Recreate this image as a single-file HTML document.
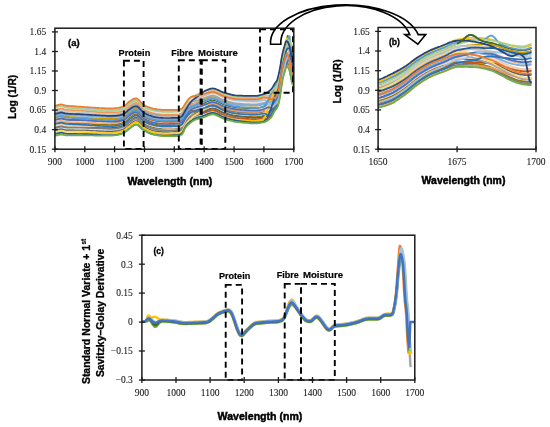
<!DOCTYPE html><html><head><meta charset="utf-8"><style>html,body{margin:0;padding:0;background:#fff;width:550px;height:427px;overflow:hidden;position:relative}</style></head><body><svg width="550" height="427" viewBox="0 0 550 427" style="position:absolute;left:0;top:0;will-change:transform"><rect width="550" height="427" fill="#fff"/><defs><clipPath id="ca"><rect x="54.9" y="20" width="239" height="129.5"/></clipPath><clipPath id="cb"><rect x="378.1" y="20" width="158" height="129.5"/></clipPath></defs><g clip-path="url(#ca)" fill="none" stroke-width="1.7" stroke-linejoin="round" stroke-linecap="round"><path d="M54.9,109.6 L55.8,109.4 L56.7,109.2 L57.6,109.0 L58.5,108.8 L59.4,108.5 L60.3,108.3 L61.2,108.2 L62.1,108.3 L63.0,108.5 L63.9,108.8 L64.8,109.1 L65.7,109.3 L66.5,109.4 L67.4,109.4 L68.3,109.5 L69.2,109.5 L70.1,109.6 L71.0,109.6 L71.9,109.7 L72.8,109.7 L73.7,109.7 L74.6,109.8 L75.5,109.8 L76.4,109.8 L77.3,109.8 L78.2,109.9 L79.1,109.9 L80.0,109.9 L80.9,110.0 L81.8,110.0 L82.7,110.0 L83.6,110.1 L84.5,110.1 L85.4,110.1 L86.3,110.1 L87.2,110.2 L88.0,110.2 L88.9,110.2 L89.8,110.3 L90.7,110.3 L91.6,110.4 L92.5,110.4 L93.4,110.4 L94.3,110.5 L95.2,110.5 L96.1,110.6 L97.0,110.6 L97.9,110.6 L98.8,110.7 L99.7,110.7 L100.6,110.7 L101.5,110.8 L102.4,110.8 L103.3,110.8 L104.2,110.8 L105.1,110.9 L106.0,110.9 L106.9,110.9 L107.8,110.9 L108.7,110.9 L109.5,110.9 L110.4,110.9 L111.3,110.9 L112.2,110.9 L113.1,110.9 L114.0,110.8 L114.9,110.8 L115.8,110.7 L116.7,110.6 L117.6,110.5 L118.5,110.4 L119.4,110.2 L120.3,110.0 L121.2,109.7 L122.1,109.4 L123.0,109.1 L123.9,108.8 L124.8,108.3 L125.7,107.6 L126.6,106.7 L127.5,105.8 L128.4,104.9 L129.3,104.2 L130.2,103.7 L131.0,103.1 L131.9,102.6 L132.8,102.1 L133.7,101.7 L134.6,101.4 L135.5,101.2 L136.4,101.2 L137.3,101.6 L138.2,102.2 L139.1,103.1 L140.0,104.1 L140.9,105.1 L141.8,106.1 L142.7,107.0 L143.6,107.7 L144.5,108.2 L145.4,108.7 L146.3,109.1 L147.2,109.6 L148.1,110.0 L149.0,110.3 L149.9,110.7 L150.8,111.0 L151.7,111.2 L152.6,111.5 L153.4,111.7 L154.3,111.9 L155.2,112.1 L156.1,112.3 L157.0,112.4 L157.9,112.6 L158.8,112.7 L159.7,112.8 L160.6,112.9 L161.5,113.0 L162.4,113.1 L163.3,113.1 L164.2,113.2 L165.1,113.2 L166.0,113.2 L166.9,113.2 L167.8,113.2 L168.7,113.2 L169.6,113.2 L170.5,113.2 L171.4,113.2 L172.3,113.2 L173.2,113.2 L174.1,113.2 L174.9,113.2 L175.8,113.2 L176.7,113.2 L177.6,113.2 L178.5,113.2 L179.4,113.0 L180.3,112.6 L181.2,112.2 L182.1,111.6 L183.0,110.6 L183.9,109.1 L184.8,107.5 L185.7,106.1 L186.6,104.8 L187.5,103.5 L188.4,102.4 L189.3,101.4 L190.2,100.8 L191.1,100.4 L192.0,100.1 L192.9,100.0 L193.8,100.0 L194.7,100.0 L195.6,99.8 L196.4,99.6 L197.3,99.4 L198.2,99.3 L199.1,99.3 L200.0,99.2 L200.9,99.0 L201.8,98.8 L202.7,98.5 L203.6,98.1 L204.5,97.7 L205.4,97.4 L206.3,97.0 L207.2,96.7 L208.1,96.3 L209.0,96.0 L209.9,95.7 L210.8,95.4 L211.7,95.2 L212.6,95.2 L213.5,95.2 L214.4,95.4 L215.3,95.6 L216.2,95.9 L217.1,96.2 L217.9,96.6 L218.8,97.0 L219.7,97.5 L220.6,97.9 L221.5,98.3 L222.4,98.7 L223.3,99.0 L224.2,99.3 L225.1,99.6 L226.0,99.8 L226.9,100.1 L227.8,100.3 L228.7,100.6 L229.6,100.8 L230.5,101.0 L231.4,101.2 L232.3,101.4 L233.2,101.6 L234.1,101.8 L235.0,101.9 L235.9,102.0 L236.8,102.1 L237.7,102.1 L238.6,102.1 L239.5,102.2 L240.3,102.2 L241.2,102.2 L242.1,102.3 L243.0,102.3 L243.9,102.3 L244.8,102.3 L245.7,102.3 L246.6,102.4 L247.5,102.4 L248.4,102.4 L249.3,102.4 L250.2,102.4 L251.1,102.4 L252.0,102.4 L252.9,102.3 L253.8,102.3 L254.7,102.3 L255.6,102.3 L256.5,102.2 L257.4,102.1 L258.3,101.9 L259.2,101.7 L260.1,101.5 L261.0,101.3 L261.8,101.0 L262.7,100.4 L263.6,99.6 L264.5,98.7 L265.4,97.7 L266.3,96.5 L267.2,95.3 L268.1,94.2 L268.9,93.3 L269.7,92.3 L270.5,91.3 L271.3,90.4 L272.0,89.3 L272.7,88.1 L273.4,86.9 L274.1,85.6 L274.8,84.3 L275.5,83.3 L276.3,82.2 L277.2,80.6 L278.2,76.9 L279.3,72.2 L280.4,66.5 L281.5,59.2 L282.6,53.4 L283.7,48.9 L284.8,45.3 L285.8,42.1 L286.8,42.1 L287.7,43.8 L288.7,46.2 L289.6,49.9 L290.5,55.4 L291.4,62.2 L292.3,65.9 L293.2,66.1" stroke="#F2F2F2"/><path d="M54.9,129.3 L55.8,129.1 L56.7,129.0 L57.6,128.8 L58.5,128.6 L59.4,128.4 L60.3,128.2 L61.2,128.1 L62.1,128.2 L63.0,128.5 L63.9,128.8 L64.8,129.0 L65.7,129.2 L66.5,129.3 L67.4,129.4 L68.3,129.4 L69.2,129.4 L70.1,129.5 L71.0,129.5 L71.9,129.5 L72.8,129.5 L73.7,129.5 L74.6,129.6 L75.5,129.6 L76.4,129.6 L77.3,129.6 L78.2,129.6 L79.1,129.6 L80.0,129.7 L80.9,129.7 L81.8,129.7 L82.7,129.7 L83.6,129.7 L84.5,129.8 L85.4,129.8 L86.3,129.8 L87.2,129.8 L88.0,129.9 L88.9,129.9 L89.8,129.9 L90.7,130.0 L91.6,130.0 L92.5,130.1 L93.4,130.1 L94.3,130.2 L95.2,130.2 L96.1,130.2 L97.0,130.3 L97.9,130.3 L98.8,130.4 L99.7,130.4 L100.6,130.4 L101.5,130.4 L102.4,130.5 L103.3,130.5 L104.2,130.5 L105.1,130.5 L106.0,130.5 L106.9,130.5 L107.8,130.5 L108.7,130.6 L109.5,130.6 L110.4,130.6 L111.3,130.5 L112.2,130.5 L113.1,130.4 L114.0,130.3 L114.9,130.2 L115.8,130.1 L116.7,130.0 L117.6,129.8 L118.5,129.6 L119.4,129.4 L120.3,129.2 L121.2,128.9 L122.1,128.6 L123.0,128.3 L123.9,127.9 L124.8,127.4 L125.7,126.7 L126.6,126.0 L127.5,125.2 L128.4,124.4 L129.3,123.7 L130.2,123.1 L131.0,122.4 L131.9,121.7 L132.8,121.0 L133.7,120.4 L134.6,120.0 L135.5,119.7 L136.4,119.7 L137.3,119.9 L138.2,120.4 L139.1,121.2 L140.0,122.0 L140.9,122.9 L141.8,123.8 L142.7,124.6 L143.6,125.2 L144.5,125.7 L145.4,126.2 L146.3,126.7 L147.2,127.1 L148.1,127.6 L149.0,128.0 L149.9,128.3 L150.8,128.7 L151.7,128.9 L152.6,129.1 L153.4,129.3 L154.3,129.5 L155.2,129.7 L156.1,129.8 L157.0,130.0 L157.9,130.1 L158.8,130.2 L159.7,130.3 L160.6,130.4 L161.5,130.4 L162.4,130.5 L163.3,130.6 L164.2,130.6 L165.1,130.6 L166.0,130.6 L166.9,130.5 L167.8,130.5 L168.7,130.5 L169.6,130.5 L170.5,130.4 L171.4,130.4 L172.3,130.4 L173.2,130.4 L174.1,130.3 L174.9,130.3 L175.8,130.3 L176.7,130.2 L177.6,130.2 L178.5,130.1 L179.4,129.9 L180.3,129.5 L181.2,129.1 L182.1,128.5 L183.0,127.3 L183.9,125.5 L184.8,123.7 L185.7,122.3 L186.6,121.3 L187.5,120.4 L188.4,119.6 L189.3,118.9 L190.2,118.3 L191.1,117.8 L192.0,117.4 L192.9,117.0 L193.8,116.7 L194.7,116.4 L195.6,116.2 L196.4,116.0 L197.3,115.8 L198.2,115.6 L199.1,115.4 L200.0,115.2 L200.9,114.9 L201.8,114.7 L202.7,114.4 L203.6,114.1 L204.5,113.7 L205.4,113.3 L206.3,112.9 L207.2,112.5 L208.1,112.1 L209.0,111.7 L209.9,111.3 L210.8,111.1 L211.7,110.9 L212.6,110.9 L213.5,110.9 L214.4,111.1 L215.3,111.3 L216.2,111.7 L217.1,112.1 L217.9,112.5 L218.8,112.9 L219.7,113.4 L220.6,113.9 L221.5,114.3 L222.4,114.8 L223.3,115.2 L224.2,115.5 L225.1,115.8 L226.0,116.0 L226.9,116.3 L227.8,116.6 L228.7,116.8 L229.6,117.1 L230.5,117.3 L231.4,117.6 L232.3,117.8 L233.2,118.0 L234.1,118.2 L235.0,118.4 L235.9,118.5 L236.8,118.7 L237.7,118.8 L238.6,118.9 L239.5,119.0 L240.3,119.1 L241.2,119.2 L242.1,119.3 L243.0,119.4 L243.9,119.5 L244.8,119.6 L245.7,119.7 L246.6,119.8 L247.5,119.9 L248.4,120.0 L249.3,120.0 L250.2,120.1 L251.1,120.2 L252.0,120.2 L252.9,120.3 L253.8,120.3 L254.7,120.3 L255.6,120.4 L256.5,120.3 L257.4,120.3 L258.3,120.2 L259.2,120.1 L260.1,120.0 L261.0,119.9 L261.8,119.7 L262.7,119.5 L263.6,119.1 L264.5,118.6 L265.4,117.8 L266.3,116.7 L267.2,114.9 L268.1,112.4 L268.9,110.4 L269.7,109.1 L270.5,106.9 L271.3,104.4 L272.0,102.4 L272.7,99.7 L273.4,97.0 L274.1,94.8 L274.8,93.1 L275.5,91.9 L276.3,90.7 L277.2,89.2 L278.2,85.7 L279.3,80.9 L280.4,74.8 L281.5,67.5 L282.6,61.6 L283.7,57.2 L284.8,53.6 L285.8,49.9 L286.8,49.4 L287.7,49.9 L288.7,51.8 L289.6,56.6 L290.5,62.1 L291.4,66.8 L292.3,70.0 L293.2,70.4" stroke="#BDD7EE"/><path d="M54.9,127.3 L55.8,127.2 L56.7,127.0 L57.6,126.8 L58.5,126.6 L59.4,126.4 L60.3,126.2 L61.2,126.1 L62.1,126.2 L63.0,126.4 L63.9,126.7 L64.8,127.0 L65.7,127.1 L66.5,127.2 L67.4,127.3 L68.3,127.3 L69.2,127.3 L70.1,127.3 L71.0,127.4 L71.9,127.4 L72.8,127.4 L73.7,127.4 L74.6,127.4 L75.5,127.4 L76.4,127.4 L77.3,127.4 L78.2,127.5 L79.1,127.5 L80.0,127.5 L80.9,127.5 L81.8,127.5 L82.7,127.5 L83.6,127.5 L84.5,127.5 L85.4,127.5 L86.3,127.6 L87.2,127.6 L88.0,127.6 L88.9,127.6 L89.8,127.7 L90.7,127.7 L91.6,127.7 L92.5,127.8 L93.4,127.8 L94.3,127.8 L95.2,127.9 L96.1,127.9 L97.0,127.9 L97.9,127.9 L98.8,128.0 L99.7,128.0 L100.6,128.0 L101.5,128.0 L102.4,128.0 L103.3,128.0 L104.2,128.0 L105.1,128.0 L106.0,128.0 L106.9,128.0 L107.8,128.0 L108.7,128.0 L109.5,128.0 L110.4,128.0 L111.3,128.0 L112.2,127.9 L113.1,127.8 L114.0,127.8 L114.9,127.6 L115.8,127.5 L116.7,127.4 L117.6,127.3 L118.5,127.1 L119.4,126.9 L120.3,126.6 L121.2,126.3 L122.1,126.0 L123.0,125.7 L123.9,125.3 L124.8,124.8 L125.7,124.1 L126.6,123.4 L127.5,122.5 L128.4,121.7 L129.3,121.0 L130.2,120.4 L131.0,119.7 L131.9,119.1 L132.8,118.4 L133.7,117.9 L134.6,117.4 L135.5,117.2 L136.4,117.1 L137.3,117.4 L138.2,118.0 L139.1,118.7 L140.0,119.6 L140.9,120.5 L141.8,121.4 L142.7,122.2 L143.6,122.8 L144.5,123.4 L145.4,123.9 L146.3,124.4 L147.2,124.8 L148.1,125.3 L149.0,125.7 L149.9,126.0 L150.8,126.4 L151.7,126.6 L152.6,126.9 L153.4,127.1 L154.3,127.3 L155.2,127.5 L156.1,127.6 L157.0,127.8 L157.9,127.9 L158.8,128.0 L159.7,128.1 L160.6,128.2 L161.5,128.3 L162.4,128.4 L163.3,128.5 L164.2,128.6 L165.1,128.6 L166.0,128.5 L166.9,128.5 L167.8,128.5 L168.7,128.5 L169.6,128.5 L170.5,128.5 L171.4,128.5 L172.3,128.5 L173.2,128.5 L174.1,128.4 L174.9,128.4 L175.8,128.4 L176.7,128.4 L177.6,128.4 L178.5,128.3 L179.4,128.1 L180.3,127.8 L181.2,127.3 L182.1,126.7 L183.0,125.4 L183.9,123.6 L184.8,121.7 L185.7,120.1 L186.6,118.9 L187.5,117.8 L188.4,116.7 L189.3,115.7 L190.2,114.8 L191.1,113.8 L192.0,112.8 L192.9,111.7 L193.8,110.7 L194.7,109.7 L195.6,109.0 L196.4,108.4 L197.3,107.9 L198.2,107.4 L199.1,107.0 L200.0,106.5 L200.9,105.9 L201.8,105.3 L202.7,104.7 L203.6,104.0 L204.5,103.4 L205.4,102.8 L206.3,102.4 L207.2,102.0 L208.1,101.6 L209.0,101.2 L209.9,100.9 L210.8,100.7 L211.7,100.5 L212.6,100.5 L213.5,100.5 L214.4,100.7 L215.3,101.0 L216.2,101.3 L217.1,101.7 L217.9,102.1 L218.8,102.5 L219.7,103.0 L220.6,103.5 L221.5,103.9 L222.4,104.3 L223.3,104.7 L224.2,105.0 L225.1,105.3 L226.0,105.6 L226.9,105.8 L227.8,106.1 L228.7,106.4 L229.6,106.6 L230.5,106.9 L231.4,107.1 L232.3,107.3 L233.2,107.5 L234.1,107.7 L235.0,107.8 L235.9,107.9 L236.8,108.0 L237.7,108.1 L238.6,108.2 L239.5,108.2 L240.3,108.3 L241.2,108.3 L242.1,108.4 L243.0,108.4 L243.9,108.5 L244.8,108.5 L245.7,108.6 L246.6,108.6 L247.5,108.6 L248.4,108.7 L249.3,108.7 L250.2,108.7 L251.1,108.7 L252.0,108.7 L252.9,108.7 L253.8,108.7 L254.7,108.7 L255.6,108.7 L256.5,108.6 L257.4,108.5 L258.3,108.4 L259.2,108.2 L260.1,108.0 L261.0,107.8 L261.8,107.5 L262.7,107.2 L263.6,106.8 L264.5,106.3 L265.4,105.7 L266.3,104.7 L267.2,103.2 L268.1,101.3 L268.9,99.9 L269.7,98.3 L270.5,96.6 L271.3,95.0 L272.0,93.7 L272.7,92.6 L273.4,91.4 L274.1,90.1 L274.8,88.8 L275.5,87.7 L276.3,86.5 L277.2,84.9 L278.2,81.1 L279.3,76.2 L280.4,70.2 L281.5,63.0 L282.6,57.2 L283.7,52.9 L284.8,49.4 L285.8,45.4 L286.8,39.8 L287.7,35.9 L288.7,41.4 L289.6,43.5 L290.5,46.3 L291.4,49.2 L292.3,50.7 L293.2,49.3" stroke="#43682B"/><path d="M54.9,123.0 L55.8,122.8 L56.7,122.6 L57.6,122.5 L58.5,122.2 L59.4,122.0 L60.3,121.8 L61.2,121.7 L62.1,121.8 L63.0,122.1 L63.9,122.3 L64.8,122.6 L65.7,122.8 L66.5,122.9 L67.4,123.0 L68.3,123.0 L69.2,123.0 L70.1,123.1 L71.0,123.1 L71.9,123.1 L72.8,123.2 L73.7,123.2 L74.6,123.2 L75.5,123.3 L76.4,123.3 L77.3,123.3 L78.2,123.4 L79.1,123.4 L80.0,123.4 L80.9,123.5 L81.8,123.5 L82.7,123.5 L83.6,123.6 L84.5,123.6 L85.4,123.6 L86.3,123.7 L87.2,123.7 L88.0,123.8 L88.9,123.8 L89.8,123.9 L90.7,123.9 L91.6,124.0 L92.5,124.1 L93.4,124.1 L94.3,124.2 L95.2,124.2 L96.1,124.3 L97.0,124.3 L97.9,124.4 L98.8,124.4 L99.7,124.5 L100.6,124.5 L101.5,124.5 L102.4,124.6 L103.3,124.6 L104.2,124.6 L105.1,124.6 L106.0,124.7 L106.9,124.7 L107.8,124.7 L108.7,124.7 L109.5,124.7 L110.4,124.7 L111.3,124.7 L112.2,124.7 L113.1,124.6 L114.0,124.5 L114.9,124.4 L115.8,124.3 L116.7,124.2 L117.6,124.1 L118.5,123.9 L119.4,123.7 L120.3,123.5 L121.2,123.2 L122.1,122.9 L123.0,122.5 L123.9,122.2 L124.8,121.7 L125.7,121.0 L126.6,120.2 L127.5,119.4 L128.4,118.5 L129.3,117.8 L130.2,117.2 L131.0,116.6 L131.9,115.9 L132.8,115.3 L133.7,114.8 L134.6,114.3 L135.5,114.1 L136.4,114.0 L137.3,114.3 L138.2,114.9 L139.1,115.6 L140.0,116.5 L140.9,117.5 L141.8,118.4 L142.7,119.2 L143.6,119.8 L144.5,120.3 L145.4,120.8 L146.3,121.2 L147.2,121.7 L148.1,122.1 L149.0,122.5 L149.9,122.9 L150.8,123.2 L151.7,123.4 L152.6,123.6 L153.4,123.8 L154.3,124.0 L155.2,124.2 L156.1,124.4 L157.0,124.5 L157.9,124.6 L158.8,124.7 L159.7,124.8 L160.6,124.9 L161.5,125.0 L162.4,125.1 L163.3,125.1 L164.2,125.2 L165.1,125.2 L166.0,125.1 L166.9,125.1 L167.8,125.1 L168.7,125.1 L169.6,125.1 L170.5,125.1 L171.4,125.0 L172.3,125.0 L173.2,125.0 L174.1,125.0 L174.9,125.0 L175.8,125.0 L176.7,124.9 L177.6,124.9 L178.5,124.8 L179.4,124.6 L180.3,124.3 L181.2,123.8 L182.1,123.3 L183.0,122.2 L183.9,120.5 L184.8,118.8 L185.7,117.4 L186.6,116.3 L187.5,115.3 L188.4,114.3 L189.3,113.6 L190.2,113.1 L191.1,112.7 L192.0,112.4 L192.9,112.2 L193.8,112.1 L194.7,112.0 L195.6,111.8 L196.4,111.6 L197.3,111.4 L198.2,111.3 L199.1,111.2 L200.0,111.1 L200.9,111.1 L201.8,111.0 L202.7,110.9 L203.6,110.7 L204.5,110.5 L205.4,110.2 L206.3,109.9 L207.2,109.6 L208.1,109.3 L209.0,109.0 L209.9,108.7 L210.8,108.5 L211.7,108.3 L212.6,108.3 L213.5,108.3 L214.4,108.5 L215.3,108.7 L216.2,109.1 L217.1,109.5 L217.9,109.9 L218.8,110.3 L219.7,110.8 L220.6,111.3 L221.5,111.7 L222.4,112.2 L223.3,112.5 L224.2,112.9 L225.1,113.1 L226.0,113.4 L226.9,113.7 L227.8,113.9 L228.7,114.2 L229.6,114.4 L230.5,114.6 L231.4,114.9 L232.3,115.1 L233.2,115.3 L234.1,115.5 L235.0,115.6 L235.9,115.7 L236.8,115.8 L237.7,115.9 L238.6,116.0 L239.5,116.1 L240.3,116.2 L241.2,116.3 L242.1,116.3 L243.0,116.4 L243.9,116.5 L244.8,116.5 L245.7,116.6 L246.6,116.6 L247.5,116.7 L248.4,116.7 L249.3,116.8 L250.2,116.8 L251.1,116.8 L252.0,116.8 L252.9,116.9 L253.8,116.9 L254.7,116.9 L255.6,116.9 L256.5,116.8 L257.4,116.7 L258.3,116.6 L259.2,116.5 L260.1,116.3 L261.0,116.2 L261.8,116.0 L262.7,115.7 L263.6,115.6 L264.5,115.5 L265.4,115.7 L266.3,116.0 L267.2,116.0 L268.1,115.8 L268.9,115.4 L269.7,114.4 L270.5,113.1 L271.3,111.8 L272.0,110.5 L272.7,109.1 L273.4,107.6 L274.1,106.0 L274.8,104.5 L275.5,103.4 L276.3,102.4 L277.2,101.0 L278.2,98.2 L279.3,93.6 L280.4,87.2 L281.5,79.7 L282.6,73.6 L283.7,69.1 L284.8,65.8 L285.8,62.8 L286.8,63.3 L287.7,63.9 L288.7,65.1 L289.6,68.0 L290.5,73.0 L291.4,77.9 L292.3,81.2 L293.2,82.1" stroke="#997300"/><path d="M54.9,119.5 L55.8,119.3 L56.7,119.2 L57.6,119.0 L58.5,118.8 L59.4,118.5 L60.3,118.3 L61.2,118.3 L62.1,118.4 L63.0,118.7 L63.9,119.0 L64.8,119.2 L65.7,119.4 L66.5,119.5 L67.4,119.6 L68.3,119.7 L69.2,119.7 L70.1,119.8 L71.0,119.8 L71.9,119.9 L72.8,119.9 L73.7,120.0 L74.6,120.0 L75.5,120.0 L76.4,120.1 L77.3,120.1 L78.2,120.2 L79.1,120.2 L80.0,120.2 L80.9,120.3 L81.8,120.3 L82.7,120.3 L83.6,120.4 L84.5,120.4 L85.4,120.4 L86.3,120.5 L87.2,120.5 L88.0,120.6 L88.9,120.6 L89.8,120.7 L90.7,120.7 L91.6,120.8 L92.5,120.8 L93.4,120.8 L94.3,120.9 L95.2,120.9 L96.1,121.0 L97.0,121.0 L97.9,121.0 L98.8,121.1 L99.7,121.1 L100.6,121.1 L101.5,121.1 L102.4,121.2 L103.3,121.2 L104.2,121.2 L105.1,121.2 L106.0,121.2 L106.9,121.2 L107.8,121.2 L108.7,121.2 L109.5,121.2 L110.4,121.2 L111.3,121.1 L112.2,121.1 L113.1,121.0 L114.0,120.9 L114.9,120.8 L115.8,120.7 L116.7,120.6 L117.6,120.5 L118.5,120.3 L119.4,120.1 L120.3,119.8 L121.2,119.5 L122.1,119.2 L123.0,118.9 L123.9,118.5 L124.8,118.0 L125.7,117.3 L126.6,116.4 L127.5,115.6 L128.4,114.7 L129.3,114.0 L130.2,113.4 L131.0,112.8 L131.9,112.2 L132.8,111.6 L133.7,111.1 L134.6,110.7 L135.5,110.4 L136.4,110.4 L137.3,110.7 L138.2,111.3 L139.1,112.1 L140.0,113.0 L140.9,113.9 L141.8,114.9 L142.7,115.7 L143.6,116.3 L144.5,116.8 L145.4,117.3 L146.3,117.8 L147.2,118.2 L148.1,118.6 L149.0,119.0 L149.9,119.4 L150.8,119.7 L151.7,120.0 L152.6,120.2 L153.4,120.4 L154.3,120.6 L155.2,120.8 L156.1,120.9 L157.0,121.1 L157.9,121.2 L158.8,121.3 L159.7,121.4 L160.6,121.5 L161.5,121.6 L162.4,121.7 L163.3,121.8 L164.2,121.8 L165.1,121.8 L166.0,121.8 L166.9,121.8 L167.8,121.8 L168.7,121.8 L169.6,121.8 L170.5,121.8 L171.4,121.8 L172.3,121.8 L173.2,121.8 L174.1,121.8 L174.9,121.7 L175.8,121.7 L176.7,121.7 L177.6,121.7 L178.5,121.6 L179.4,121.4 L180.3,121.1 L181.2,120.6 L182.1,120.1 L183.0,119.0 L183.9,117.4 L184.8,115.8 L185.7,114.5 L186.6,113.6 L187.5,112.8 L188.4,112.1 L189.3,111.4 L190.2,111.0 L191.1,110.5 L192.0,110.3 L192.9,110.3 L193.8,110.6 L194.7,111.0 L195.6,111.3 L196.4,111.5 L197.3,111.7 L198.2,112.0 L199.1,112.2 L200.0,112.5 L200.9,112.7 L201.8,112.8 L202.7,112.8 L203.6,112.8 L204.5,112.6 L205.4,112.4 L206.3,112.1 L207.2,111.8 L208.1,111.5 L209.0,111.2 L209.9,110.9 L210.8,110.7 L211.7,110.5 L212.6,110.4 L213.5,110.5 L214.4,110.7 L215.3,110.9 L216.2,111.2 L217.1,111.6 L217.9,112.0 L218.8,112.5 L219.7,113.0 L220.6,113.4 L221.5,113.9 L222.4,114.3 L223.3,114.7 L224.2,115.0 L225.1,115.3 L226.0,115.5 L226.9,115.8 L227.8,116.0 L228.7,116.3 L229.6,116.5 L230.5,116.8 L231.4,117.0 L232.3,117.2 L233.2,117.4 L234.1,117.6 L235.0,117.7 L235.9,117.9 L236.8,118.0 L237.7,118.1 L238.6,118.1 L239.5,118.2 L240.3,118.3 L241.2,118.4 L242.1,118.5 L243.0,118.6 L243.9,118.6 L244.8,118.7 L245.7,118.8 L246.6,118.8 L247.5,118.9 L248.4,118.9 L249.3,119.0 L250.2,119.0 L251.1,119.0 L252.0,119.1 L252.9,119.1 L253.8,119.1 L254.7,119.1 L255.6,119.1 L256.5,119.0 L257.4,119.0 L258.3,118.9 L259.2,118.7 L260.1,118.6 L261.0,118.4 L261.8,118.3 L262.7,118.2 L263.6,118.4 L264.5,118.8 L265.4,119.1 L266.3,119.2 L267.2,119.1 L268.1,118.8 L268.9,118.2 L269.7,117.4 L270.5,116.4 L271.3,115.2 L272.0,113.5 L272.7,111.6 L273.4,109.7 L274.1,108.0 L274.8,106.6 L275.5,105.6 L276.3,104.5 L277.2,103.1 L278.2,100.5 L279.3,96.0 L280.4,89.7 L281.5,82.1 L282.6,75.9 L283.7,71.2 L284.8,67.7 L285.8,63.9 L286.8,62.9 L287.7,62.7 L288.7,63.3 L289.6,63.6 L290.5,65.8 L291.4,69.1 L292.3,71.3 L293.2,71.4" stroke="#C55A11"/><path d="M54.9,130.5 L55.8,130.4 L56.7,130.2 L57.6,130.0 L58.5,129.8 L59.4,129.5 L60.3,129.3 L61.2,129.3 L62.1,129.3 L63.0,129.6 L63.9,129.8 L64.8,130.1 L65.7,130.2 L66.5,130.3 L67.4,130.4 L68.3,130.4 L69.2,130.4 L70.1,130.4 L71.0,130.4 L71.9,130.4 L72.8,130.4 L73.7,130.4 L74.6,130.5 L75.5,130.5 L76.4,130.5 L77.3,130.5 L78.2,130.5 L79.1,130.5 L80.0,130.5 L80.9,130.5 L81.8,130.6 L82.7,130.6 L83.6,130.6 L84.5,130.6 L85.4,130.6 L86.3,130.7 L87.2,130.7 L88.0,130.7 L88.9,130.8 L89.8,130.8 L90.7,130.8 L91.6,130.9 L92.5,130.9 L93.4,131.0 L94.3,131.0 L95.2,131.1 L96.1,131.1 L97.0,131.2 L97.9,131.2 L98.8,131.3 L99.7,131.3 L100.6,131.4 L101.5,131.4 L102.4,131.4 L103.3,131.4 L104.2,131.5 L105.1,131.5 L106.0,131.5 L106.9,131.5 L107.8,131.6 L108.7,131.6 L109.5,131.6 L110.4,131.6 L111.3,131.6 L112.2,131.6 L113.1,131.5 L114.0,131.4 L114.9,131.3 L115.8,131.2 L116.7,131.1 L117.6,131.0 L118.5,130.8 L119.4,130.6 L120.3,130.4 L121.2,130.1 L122.1,129.8 L123.0,129.5 L123.9,129.1 L124.8,128.6 L125.7,128.0 L126.6,127.3 L127.5,126.5 L128.4,125.7 L129.3,125.0 L130.2,124.4 L131.0,123.7 L131.9,123.0 L132.8,122.3 L133.7,121.7 L134.6,121.3 L135.5,121.0 L136.4,121.0 L137.3,121.2 L138.2,121.8 L139.1,122.5 L140.0,123.3 L140.9,124.2 L141.8,125.1 L142.7,125.9 L143.6,126.5 L144.5,127.0 L145.4,127.5 L146.3,128.0 L147.2,128.5 L148.1,129.0 L149.0,129.4 L149.9,129.7 L150.8,130.1 L151.7,130.4 L152.6,130.6 L153.4,130.8 L154.3,131.0 L155.2,131.1 L156.1,131.3 L157.0,131.4 L157.9,131.6 L158.8,131.7 L159.7,131.8 L160.6,131.9 L161.5,132.0 L162.4,132.1 L163.3,132.1 L164.2,132.2 L165.1,132.1 L166.0,132.1 L166.9,132.1 L167.8,132.1 L168.7,132.1 L169.6,132.0 L170.5,132.0 L171.4,132.0 L172.3,132.0 L173.2,131.9 L174.1,131.9 L174.9,131.9 L175.8,131.8 L176.7,131.8 L177.6,131.8 L178.5,131.7 L179.4,131.5 L180.3,131.1 L181.2,130.6 L182.1,130.0 L183.0,128.7 L183.9,126.9 L184.8,125.0 L185.7,123.4 L186.6,122.3 L187.5,121.3 L188.4,120.4 L189.3,119.6 L190.2,118.8 L191.1,118.1 L192.0,117.4 L192.9,116.8 L193.8,116.3 L194.7,115.9 L195.6,115.5 L196.4,115.2 L197.3,114.9 L198.2,114.6 L199.1,114.3 L200.0,114.0 L200.9,113.6 L201.8,113.2 L202.7,112.7 L203.6,112.3 L204.5,111.7 L205.4,111.2 L206.3,110.8 L207.2,110.3 L208.1,109.9 L209.0,109.5 L209.9,109.1 L210.8,108.9 L211.7,108.7 L212.6,108.6 L213.5,108.7 L214.4,108.8 L215.3,109.1 L216.2,109.4 L217.1,109.8 L217.9,110.2 L218.8,110.6 L219.7,111.1 L220.6,111.6 L221.5,112.0 L222.4,112.4 L223.3,112.8 L224.2,113.1 L225.1,113.4 L226.0,113.7 L226.9,113.9 L227.8,114.2 L228.7,114.4 L229.6,114.7 L230.5,114.9 L231.4,115.2 L232.3,115.4 L233.2,115.6 L234.1,115.8 L235.0,115.9 L235.9,116.1 L236.8,116.2 L237.7,116.3 L238.6,116.4 L239.5,116.5 L240.3,116.6 L241.2,116.7 L242.1,116.8 L243.0,116.9 L243.9,116.9 L244.8,117.0 L245.7,117.1 L246.6,117.2 L247.5,117.3 L248.4,117.3 L249.3,117.4 L250.2,117.4 L251.1,117.5 L252.0,117.6 L252.9,117.6 L253.8,117.6 L254.7,117.7 L255.6,117.7 L256.5,117.7 L257.4,117.6 L258.3,117.5 L259.2,117.4 L260.1,117.3 L261.0,117.2 L261.8,117.0 L262.7,116.7 L263.6,116.5 L264.5,116.4 L265.4,116.4 L266.3,116.3 L267.2,115.8 L268.1,115.0 L268.9,113.7 L269.7,112.3 L270.5,111.2 L271.3,110.2 L272.0,109.0 L272.7,107.1 L273.4,105.0 L274.1,103.3 L274.8,101.8 L275.5,100.6 L276.3,99.5 L277.2,98.0 L278.2,95.2 L279.3,90.7 L280.4,84.4 L281.5,76.9 L282.6,70.7 L283.7,66.2 L284.8,62.7 L285.8,59.3 L286.8,59.3 L287.7,60.3 L288.7,61.8 L289.6,63.9 L290.5,67.7 L291.4,71.8 L292.3,74.7 L293.2,75.4" stroke="#636363"/><path d="M54.9,128.1 L55.8,127.9 L56.7,127.7 L57.6,127.4 L58.5,127.2 L59.4,126.9 L60.3,126.6 L61.2,126.5 L62.1,126.6 L63.0,126.8 L63.9,127.0 L64.8,127.2 L65.7,127.4 L66.5,127.4 L67.4,127.5 L68.3,127.5 L69.2,127.5 L70.1,127.5 L71.0,127.5 L71.9,127.5 L72.8,127.5 L73.7,127.5 L74.6,127.5 L75.5,127.5 L76.4,127.5 L77.3,127.5 L78.2,127.5 L79.1,127.5 L80.0,127.5 L80.9,127.5 L81.8,127.5 L82.7,127.6 L83.6,127.6 L84.5,127.6 L85.4,127.6 L86.3,127.6 L87.2,127.7 L88.0,127.7 L88.9,127.8 L89.8,127.8 L90.7,127.9 L91.6,127.9 L92.5,128.0 L93.4,128.0 L94.3,128.1 L95.2,128.1 L96.1,128.2 L97.0,128.3 L97.9,128.3 L98.8,128.4 L99.7,128.4 L100.6,128.5 L101.5,128.5 L102.4,128.5 L103.3,128.6 L104.2,128.6 L105.1,128.6 L106.0,128.7 L106.9,128.7 L107.8,128.8 L108.7,128.8 L109.5,128.8 L110.4,128.8 L111.3,128.8 L112.2,128.8 L113.1,128.7 L114.0,128.7 L114.9,128.6 L115.8,128.5 L116.7,128.4 L117.6,128.3 L118.5,128.1 L119.4,127.9 L120.3,127.7 L121.2,127.4 L122.1,127.1 L123.0,126.8 L123.9,126.5 L124.8,126.0 L125.7,125.4 L126.6,124.6 L127.5,123.8 L128.4,123.0 L129.3,122.3 L130.2,121.7 L131.0,121.1 L131.9,120.4 L132.8,119.8 L133.7,119.2 L134.6,118.8 L135.5,118.6 L136.4,118.5 L137.3,118.8 L138.2,119.4 L139.1,120.1 L140.0,121.0 L140.9,122.0 L141.8,122.9 L142.7,123.7 L143.6,124.3 L144.5,124.8 L145.4,125.4 L146.3,125.9 L147.2,126.4 L148.1,126.8 L149.0,127.3 L149.9,127.7 L150.8,128.0 L151.7,128.3 L152.6,128.6 L153.4,128.8 L154.3,129.0 L155.2,129.2 L156.1,129.4 L157.0,129.6 L157.9,129.7 L158.8,129.9 L159.7,130.0 L160.6,130.1 L161.5,130.2 L162.4,130.3 L163.3,130.4 L164.2,130.5 L165.1,130.5 L166.0,130.5 L166.9,130.5 L167.8,130.5 L168.7,130.5 L169.6,130.5 L170.5,130.5 L171.4,130.5 L172.3,130.5 L173.2,130.5 L174.1,130.5 L174.9,130.4 L175.8,130.4 L176.7,130.4 L177.6,130.4 L178.5,130.3 L179.4,130.1 L180.3,129.7 L181.2,129.3 L182.1,128.7 L183.0,127.3 L183.9,125.5 L184.8,123.5 L185.7,121.9 L186.6,120.7 L187.5,119.6 L188.4,118.6 L189.3,117.7 L190.2,116.9 L191.1,116.1 L192.0,115.4 L192.9,114.8 L193.8,114.3 L194.7,113.8 L195.6,113.3 L196.4,112.7 L197.3,112.1 L198.2,111.4 L199.1,110.7 L200.0,110.2 L200.9,109.7 L201.8,109.2 L202.7,108.8 L203.6,108.4 L204.5,107.9 L205.4,107.4 L206.3,106.9 L207.2,106.5 L208.1,106.0 L209.0,105.6 L209.9,105.3 L210.8,105.0 L211.7,104.9 L212.6,104.8 L213.5,104.8 L214.4,105.0 L215.3,105.2 L216.2,105.5 L217.1,105.9 L217.9,106.3 L218.8,106.7 L219.7,107.1 L220.6,107.6 L221.5,108.0 L222.4,108.4 L223.3,108.8 L224.2,109.1 L225.1,109.4 L226.0,109.6 L226.9,109.9 L227.8,110.1 L228.7,110.4 L229.6,110.6 L230.5,110.8 L231.4,111.1 L232.3,111.3 L233.2,111.5 L234.1,111.6 L235.0,111.8 L235.9,111.9 L236.8,112.0 L237.7,112.1 L238.6,112.1 L239.5,112.2 L240.3,112.3 L241.2,112.4 L242.1,112.4 L243.0,112.5 L243.9,112.6 L244.8,112.6 L245.7,112.7 L246.6,112.7 L247.5,112.8 L248.4,112.8 L249.3,112.8 L250.2,112.9 L251.1,112.9 L252.0,112.9 L252.9,113.0 L253.8,113.0 L254.7,113.0 L255.6,113.0 L256.5,112.9 L257.4,112.9 L258.3,112.7 L259.2,112.6 L260.1,112.5 L261.0,112.3 L261.8,112.1 L262.7,111.8 L263.6,111.5 L264.5,111.3 L265.4,111.2 L266.3,111.2 L267.2,111.8 L268.1,112.3 L268.9,112.9 L269.7,113.5 L270.5,113.4 L271.3,113.0 L272.0,112.3 L272.7,111.3 L273.4,110.2 L274.1,109.1 L274.8,108.1 L275.5,107.3 L276.3,106.5 L277.2,105.2 L278.2,102.7 L279.3,98.2 L280.4,91.5 L281.5,83.9 L282.6,77.5 L283.7,72.8 L284.8,69.4 L285.8,66.0 L286.8,65.3 L287.7,65.6 L288.7,66.9 L289.6,69.6 L290.5,74.3 L291.4,79.1 L292.3,82.5 L293.2,83.9" stroke="#7F7F7F"/><path d="M54.9,116.7 L55.8,116.5 L56.7,116.3 L57.6,116.2 L58.5,115.9 L59.4,115.7 L60.3,115.5 L61.2,115.4 L62.1,115.6 L63.0,115.8 L63.9,116.1 L64.8,116.4 L65.7,116.6 L66.5,116.7 L67.4,116.8 L68.3,116.9 L69.2,116.9 L70.1,117.0 L71.0,117.0 L71.9,117.1 L72.8,117.1 L73.7,117.2 L74.6,117.2 L75.5,117.2 L76.4,117.3 L77.3,117.3 L78.2,117.4 L79.1,117.4 L80.0,117.5 L80.9,117.5 L81.8,117.6 L82.7,117.6 L83.6,117.7 L84.5,117.7 L85.4,117.8 L86.3,117.8 L87.2,117.9 L88.0,117.9 L88.9,118.0 L89.8,118.0 L90.7,118.1 L91.6,118.1 L92.5,118.2 L93.4,118.3 L94.3,118.3 L95.2,118.4 L96.1,118.4 L97.0,118.5 L97.9,118.5 L98.8,118.6 L99.7,118.6 L100.6,118.7 L101.5,118.7 L102.4,118.7 L103.3,118.7 L104.2,118.8 L105.1,118.8 L106.0,118.8 L106.9,118.9 L107.8,118.9 L108.7,118.9 L109.5,118.9 L110.4,118.9 L111.3,118.9 L112.2,118.8 L113.1,118.8 L114.0,118.7 L114.9,118.6 L115.8,118.6 L116.7,118.5 L117.6,118.3 L118.5,118.2 L119.4,118.0 L120.3,117.7 L121.2,117.5 L122.1,117.2 L123.0,116.8 L123.9,116.5 L124.8,116.0 L125.7,115.2 L126.6,114.4 L127.5,113.5 L128.4,112.7 L129.3,111.9 L130.2,111.3 L131.0,110.7 L131.9,110.1 L132.8,109.5 L133.7,109.0 L134.6,108.6 L135.5,108.4 L136.4,108.4 L137.3,108.6 L138.2,109.2 L139.1,110.0 L140.0,110.9 L140.9,111.9 L141.8,112.8 L142.7,113.6 L143.6,114.2 L144.5,114.7 L145.4,115.2 L146.3,115.6 L147.2,116.1 L148.1,116.4 L149.0,116.8 L149.9,117.1 L150.8,117.4 L151.7,117.7 L152.6,117.9 L153.4,118.0 L154.3,118.2 L155.2,118.4 L156.1,118.5 L157.0,118.6 L157.9,118.8 L158.8,118.8 L159.7,118.9 L160.6,119.0 L161.5,119.1 L162.4,119.1 L163.3,119.2 L164.2,119.2 L165.1,119.2 L166.0,119.2 L166.9,119.2 L167.8,119.1 L168.7,119.1 L169.6,119.1 L170.5,119.1 L171.4,119.1 L172.3,119.1 L173.2,119.1 L174.1,119.0 L174.9,119.0 L175.8,119.0 L176.7,119.0 L177.6,119.0 L178.5,118.9 L179.4,118.7 L180.3,118.4 L181.2,117.9 L182.1,117.3 L183.0,116.2 L183.9,114.6 L184.8,112.9 L185.7,111.5 L186.6,110.2 L187.5,109.0 L188.4,107.8 L189.3,106.8 L190.2,106.0 L191.1,105.3 L192.0,104.7 L192.9,104.2 L193.8,103.8 L194.7,103.4 L195.6,103.1 L196.4,102.9 L197.3,102.5 L198.2,102.2 L199.1,101.9 L200.0,101.5 L200.9,101.1 L201.8,100.8 L202.7,100.4 L203.6,99.9 L204.5,99.5 L205.4,99.1 L206.3,98.7 L207.2,98.3 L208.1,97.9 L209.0,97.6 L209.9,97.3 L210.8,97.1 L211.7,96.9 L212.6,96.9 L213.5,97.0 L214.4,97.2 L215.3,97.4 L216.2,97.7 L217.1,98.1 L217.9,98.5 L218.8,99.0 L219.7,99.5 L220.6,99.9 L221.5,100.4 L222.4,100.8 L223.3,101.2 L224.2,101.5 L225.1,101.8 L226.0,102.1 L226.9,102.4 L227.8,102.6 L228.7,102.9 L229.6,103.2 L230.5,103.5 L231.4,103.7 L232.3,103.9 L233.2,104.1 L234.1,104.3 L235.0,104.5 L235.9,104.6 L236.8,104.7 L237.7,104.8 L238.6,104.9 L239.5,105.0 L240.3,105.0 L241.2,105.1 L242.1,105.2 L243.0,105.2 L243.9,105.3 L244.8,105.3 L245.7,105.4 L246.6,105.4 L247.5,105.5 L248.4,105.5 L249.3,105.5 L250.2,105.6 L251.1,105.6 L252.0,105.6 L252.9,105.6 L253.8,105.7 L254.7,105.7 L255.6,105.7 L256.5,105.6 L257.4,105.5 L258.3,105.4 L259.2,105.2 L260.1,105.1 L261.0,104.8 L261.8,104.6 L262.7,104.2 L263.6,103.8 L264.5,103.3 L265.4,102.7 L266.3,101.8 L267.2,100.8 L268.1,100.1 L268.9,99.4 L269.7,98.6 L270.5,97.6 L271.3,96.7 L272.0,96.1 L272.7,95.0 L273.4,93.7 L274.1,92.4 L274.8,91.3 L275.5,90.3 L276.3,89.3 L277.2,87.8 L278.2,84.3 L279.3,79.4 L280.4,73.2 L281.5,65.9 L282.6,60.0 L283.7,55.6 L284.8,51.9 L285.8,47.9 L286.8,46.4 L287.7,45.5 L288.7,44.7 L289.6,45.1 L290.5,47.9 L291.4,51.0 L292.3,52.8 L293.2,51.7" stroke="#CC9A00"/><path d="M54.9,125.9 L55.8,125.7 L56.7,125.5 L57.6,125.3 L58.5,125.1 L59.4,124.8 L60.3,124.6 L61.2,124.5 L62.1,124.6 L63.0,124.8 L63.9,125.1 L64.8,125.3 L65.7,125.4 L66.5,125.5 L67.4,125.6 L68.3,125.6 L69.2,125.6 L70.1,125.6 L71.0,125.6 L71.9,125.6 L72.8,125.6 L73.7,125.6 L74.6,125.6 L75.5,125.6 L76.4,125.6 L77.3,125.6 L78.2,125.6 L79.1,125.6 L80.0,125.6 L80.9,125.6 L81.8,125.6 L82.7,125.6 L83.6,125.6 L84.5,125.6 L85.4,125.7 L86.3,125.7 L87.2,125.7 L88.0,125.7 L88.9,125.7 L89.8,125.7 L90.7,125.8 L91.6,125.8 L92.5,125.8 L93.4,125.9 L94.3,125.9 L95.2,125.9 L96.1,126.0 L97.0,126.0 L97.9,126.0 L98.8,126.0 L99.7,126.1 L100.6,126.1 L101.5,126.1 L102.4,126.1 L103.3,126.1 L104.2,126.2 L105.1,126.2 L106.0,126.2 L106.9,126.2 L107.8,126.2 L108.7,126.2 L109.5,126.2 L110.4,126.2 L111.3,126.2 L112.2,126.2 L113.1,126.1 L114.0,126.0 L114.9,125.9 L115.8,125.9 L116.7,125.8 L117.6,125.6 L118.5,125.5 L119.4,125.3 L120.3,125.0 L121.2,124.8 L122.1,124.5 L123.0,124.2 L123.9,123.8 L124.8,123.3 L125.7,122.7 L126.6,121.9 L127.5,121.1 L128.4,120.3 L129.3,119.6 L130.2,119.0 L131.0,118.4 L131.9,117.8 L132.8,117.2 L133.7,116.6 L134.6,116.2 L135.5,116.0 L136.4,116.0 L137.3,116.3 L138.2,116.9 L139.1,117.6 L140.0,118.5 L140.9,119.5 L141.8,120.4 L142.7,121.2 L143.6,121.9 L144.5,122.4 L145.4,122.9 L146.3,123.4 L147.2,123.9 L148.1,124.4 L149.0,124.8 L149.9,125.2 L150.8,125.5 L151.7,125.8 L152.6,126.1 L153.4,126.3 L154.3,126.5 L155.2,126.7 L156.1,126.9 L157.0,127.0 L157.9,127.2 L158.8,127.3 L159.7,127.4 L160.6,127.5 L161.5,127.6 L162.4,127.7 L163.3,127.8 L164.2,127.9 L165.1,127.9 L166.0,127.9 L166.9,127.9 L167.8,127.9 L168.7,127.8 L169.6,127.8 L170.5,127.8 L171.4,127.8 L172.3,127.8 L173.2,127.8 L174.1,127.8 L174.9,127.8 L175.8,127.7 L176.7,127.7 L177.6,127.7 L178.5,127.6 L179.4,127.4 L180.3,127.1 L181.2,126.6 L182.1,126.0 L183.0,124.8 L183.9,123.0 L184.8,121.1 L185.7,119.6 L186.6,118.4 L187.5,117.3 L188.4,116.3 L189.3,115.3 L190.2,114.5 L191.1,113.6 L192.0,112.7 L192.9,111.8 L193.8,111.0 L194.7,110.1 L195.6,109.5 L196.4,108.9 L197.3,108.5 L198.2,108.1 L199.1,107.8 L200.0,107.4 L200.9,107.0 L201.8,106.6 L202.7,106.1 L203.6,105.5 L204.5,104.9 L205.4,104.3 L206.3,103.8 L207.2,103.3 L208.1,102.9 L209.0,102.5 L209.9,102.2 L210.8,101.9 L211.7,101.8 L212.6,101.7 L213.5,101.8 L214.4,102.0 L215.3,102.2 L216.2,102.5 L217.1,102.9 L217.9,103.3 L218.8,103.8 L219.7,104.2 L220.6,104.7 L221.5,105.1 L222.4,105.6 L223.3,105.9 L224.2,106.2 L225.1,106.5 L226.0,106.8 L226.9,107.0 L227.8,107.3 L228.7,107.5 L229.6,107.8 L230.5,108.0 L231.4,108.2 L232.3,108.4 L233.2,108.6 L234.1,108.8 L235.0,108.9 L235.9,109.0 L236.8,109.1 L237.7,109.2 L238.6,109.2 L239.5,109.3 L240.3,109.3 L241.2,109.4 L242.1,109.4 L243.0,109.5 L243.9,109.5 L244.8,109.6 L245.7,109.6 L246.6,109.6 L247.5,109.6 L248.4,109.7 L249.3,109.7 L250.2,109.7 L251.1,109.7 L252.0,109.7 L252.9,109.7 L253.8,109.7 L254.7,109.7 L255.6,109.7 L256.5,109.6 L257.4,109.5 L258.3,109.4 L259.2,109.2 L260.1,109.0 L261.0,108.8 L261.8,108.6 L262.7,108.5 L263.6,108.4 L264.5,108.2 L265.4,107.9 L266.3,107.5 L267.2,107.1 L268.1,106.7 L268.9,107.1 L269.7,107.4 L270.5,107.5 L271.3,107.3 L272.0,106.6 L272.7,105.5 L273.4,104.3 L274.1,103.2 L274.8,102.2 L275.5,101.5 L276.3,100.6 L277.2,99.2 L278.2,96.4 L279.3,91.8 L280.4,85.4 L281.5,77.8 L282.6,71.6 L283.7,67.0 L284.8,63.4 L285.8,59.5 L286.8,58.4 L287.7,58.2 L288.7,58.0 L289.6,59.6 L290.5,63.0 L291.4,66.6 L292.3,68.9 L293.2,69.1" stroke="#F8CBAD"/><path d="M54.9,111.1 L55.8,110.9 L56.7,110.8 L57.6,110.6 L58.5,110.4 L59.4,110.1 L60.3,109.9 L61.2,109.9 L62.1,110.0 L63.0,110.3 L63.9,110.6 L64.8,110.9 L65.7,111.1 L66.5,111.2 L67.4,111.3 L68.3,111.4 L69.2,111.5 L70.1,111.6 L71.0,111.6 L71.9,111.7 L72.8,111.8 L73.7,111.8 L74.6,111.9 L75.5,112.0 L76.4,112.1 L77.3,112.1 L78.2,112.2 L79.1,112.3 L80.0,112.3 L80.9,112.4 L81.8,112.5 L82.7,112.5 L83.6,112.6 L84.5,112.7 L85.4,112.7 L86.3,112.8 L87.2,112.9 L88.0,112.9 L88.9,113.0 L89.8,113.1 L90.7,113.2 L91.6,113.2 L92.5,113.3 L93.4,113.4 L94.3,113.5 L95.2,113.5 L96.1,113.6 L97.0,113.7 L97.9,113.7 L98.8,113.8 L99.7,113.9 L100.6,113.9 L101.5,114.0 L102.4,114.0 L103.3,114.1 L104.2,114.1 L105.1,114.2 L106.0,114.2 L106.9,114.2 L107.8,114.3 L108.7,114.3 L109.5,114.3 L110.4,114.3 L111.3,114.3 L112.2,114.3 L113.1,114.3 L114.0,114.2 L114.9,114.2 L115.8,114.1 L116.7,114.0 L117.6,113.9 L118.5,113.8 L119.4,113.6 L120.3,113.3 L121.2,113.1 L122.1,112.8 L123.0,112.5 L123.9,112.1 L124.8,111.6 L125.7,110.9 L126.6,110.0 L127.5,109.1 L128.4,108.3 L129.3,107.5 L130.2,107.0 L131.0,106.4 L131.9,105.8 L132.8,105.3 L133.7,104.8 L134.6,104.5 L135.5,104.3 L136.4,104.2 L137.3,104.5 L138.2,105.2 L139.1,106.0 L140.0,106.9 L140.9,107.9 L141.8,108.9 L142.7,109.7 L143.6,110.4 L144.5,110.9 L145.4,111.3 L146.3,111.8 L147.2,112.2 L148.1,112.6 L149.0,112.9 L149.9,113.3 L150.8,113.6 L151.7,113.8 L152.6,114.0 L153.4,114.2 L154.3,114.4 L155.2,114.6 L156.1,114.7 L157.0,114.8 L157.9,115.0 L158.8,115.1 L159.7,115.1 L160.6,115.2 L161.5,115.3 L162.4,115.3 L163.3,115.4 L164.2,115.4 L165.1,115.4 L166.0,115.4 L166.9,115.3 L167.8,115.3 L168.7,115.3 L169.6,115.3 L170.5,115.2 L171.4,115.2 L172.3,115.2 L173.2,115.1 L174.1,115.1 L174.9,115.1 L175.8,115.1 L176.7,115.0 L177.6,115.0 L178.5,114.9 L179.4,114.7 L180.3,114.3 L181.2,113.8 L182.1,113.2 L183.0,112.0 L183.9,110.4 L184.8,108.7 L185.7,107.1 L186.6,105.7 L187.5,104.3 L188.4,103.0 L189.3,101.9 L190.2,101.1 L191.1,100.5 L192.0,100.0 L192.9,99.7 L193.8,99.5 L194.7,99.3 L195.6,99.0 L196.4,98.7 L197.3,98.4 L198.2,98.0 L199.1,97.7 L200.0,97.4 L200.9,97.1 L201.8,96.9 L202.7,96.6 L203.6,96.3 L204.5,95.9 L205.4,95.5 L206.3,95.1 L207.2,94.7 L208.1,94.4 L209.0,94.0 L209.9,93.7 L210.8,93.5 L211.7,93.3 L212.6,93.2 L213.5,93.3 L214.4,93.5 L215.3,93.7 L216.2,94.0 L217.1,94.4 L217.9,94.8 L218.8,95.2 L219.7,95.6 L220.6,96.1 L221.5,96.5 L222.4,96.9 L223.3,97.3 L224.2,97.6 L225.1,97.9 L226.0,98.1 L226.9,98.4 L227.8,98.7 L228.7,98.9 L229.6,99.2 L230.5,99.4 L231.4,99.7 L232.3,99.9 L233.2,100.1 L234.1,100.3 L235.0,100.4 L235.9,100.6 L236.8,100.7 L237.7,100.7 L238.6,100.8 L239.5,100.9 L240.3,100.9 L241.2,101.0 L242.1,101.0 L243.0,101.1 L243.9,101.2 L244.8,101.2 L245.7,101.3 L246.6,101.3 L247.5,101.4 L248.4,101.4 L249.3,101.5 L250.2,101.5 L251.1,101.6 L252.0,101.6 L252.9,101.6 L253.8,101.7 L254.7,101.7 L255.6,101.7 L256.5,101.7 L257.4,101.6 L258.3,101.5 L259.2,101.3 L260.1,101.2 L261.0,101.0 L261.8,100.7 L262.7,100.4 L263.6,100.0 L264.5,99.5 L265.4,99.0 L266.3,98.3 L267.2,97.5 L268.1,96.6 L268.9,95.6 L269.7,94.7 L270.5,94.1 L271.3,93.6 L272.0,93.3 L272.7,93.1 L273.4,92.4 L274.1,91.4 L274.8,90.3 L275.5,89.4 L276.3,88.4 L277.2,86.9 L278.2,83.5 L279.3,79.0 L280.4,73.1 L281.5,65.8 L282.6,59.9 L283.7,55.3 L284.8,51.6 L285.8,47.9 L286.8,46.7 L287.7,46.4 L288.7,46.7 L289.6,47.7 L290.5,50.8 L291.4,54.8 L292.3,57.3 L293.2,56.6" stroke="#C9C9C9"/><path d="M54.9,110.0 L55.8,109.8 L56.7,109.6 L57.6,109.4 L58.5,109.1 L59.4,108.9 L60.3,108.6 L61.2,108.6 L62.1,108.7 L63.0,108.9 L63.9,109.2 L64.8,109.5 L65.7,109.7 L66.5,109.8 L67.4,109.9 L68.3,109.9 L69.2,110.0 L70.1,110.0 L71.0,110.1 L71.9,110.2 L72.8,110.2 L73.7,110.3 L74.6,110.3 L75.5,110.4 L76.4,110.4 L77.3,110.5 L78.2,110.6 L79.1,110.6 L80.0,110.7 L80.9,110.7 L81.8,110.8 L82.7,110.9 L83.6,110.9 L84.5,111.0 L85.4,111.0 L86.3,111.1 L87.2,111.2 L88.0,111.3 L88.9,111.3 L89.8,111.4 L90.7,111.5 L91.6,111.5 L92.5,111.6 L93.4,111.7 L94.3,111.8 L95.2,111.8 L96.1,111.9 L97.0,112.0 L97.9,112.1 L98.8,112.1 L99.7,112.2 L100.6,112.2 L101.5,112.3 L102.4,112.3 L103.3,112.4 L104.2,112.4 L105.1,112.5 L106.0,112.5 L106.9,112.6 L107.8,112.6 L108.7,112.7 L109.5,112.7 L110.4,112.7 L111.3,112.7 L112.2,112.7 L113.1,112.7 L114.0,112.6 L114.9,112.6 L115.8,112.5 L116.7,112.5 L117.6,112.4 L118.5,112.2 L119.4,112.0 L120.3,111.8 L121.2,111.6 L122.1,111.3 L123.0,111.0 L123.9,110.6 L124.8,110.1 L125.7,109.4 L126.6,108.5 L127.5,107.6 L128.4,106.8 L129.3,106.1 L130.2,105.5 L131.0,105.0 L131.9,104.4 L132.8,103.9 L133.7,103.4 L134.6,103.1 L135.5,102.9 L136.4,102.9 L137.3,103.2 L138.2,103.9 L139.1,104.7 L140.0,105.7 L140.9,106.7 L141.8,107.7 L142.7,108.6 L143.6,109.2 L144.5,109.7 L145.4,110.2 L146.3,110.7 L147.2,111.1 L148.1,111.5 L149.0,111.9 L149.9,112.2 L150.8,112.5 L151.7,112.8 L152.6,113.0 L153.4,113.2 L154.3,113.4 L155.2,113.6 L156.1,113.8 L157.0,114.0 L157.9,114.1 L158.8,114.2 L159.7,114.3 L160.6,114.4 L161.5,114.5 L162.4,114.6 L163.3,114.6 L164.2,114.7 L165.1,114.7 L166.0,114.7 L166.9,114.7 L167.8,114.7 L168.7,114.7 L169.6,114.7 L170.5,114.6 L171.4,114.6 L172.3,114.6 L173.2,114.6 L174.1,114.6 L174.9,114.6 L175.8,114.6 L176.7,114.5 L177.6,114.5 L178.5,114.5 L179.4,114.2 L180.3,113.8 L181.2,113.4 L182.1,112.9 L183.0,111.9 L183.9,110.5 L184.8,109.1 L185.7,107.9 L186.6,106.9 L187.5,106.0 L188.4,105.2 L189.3,104.7 L190.2,104.4 L191.1,104.0 L192.0,103.8 L192.9,103.8 L193.8,104.2 L194.7,104.7 L195.6,105.0 L196.4,105.1 L197.3,105.1 L198.2,105.0 L199.1,104.9 L200.0,104.7 L200.9,104.6 L201.8,104.6 L202.7,104.7 L203.6,104.8 L204.5,104.9 L205.4,104.8 L206.3,104.7 L207.2,104.6 L208.1,104.3 L209.0,104.0 L209.9,103.8 L210.8,103.5 L211.7,103.4 L212.6,103.3 L213.5,103.4 L214.4,103.5 L215.3,103.8 L216.2,104.1 L217.1,104.4 L217.9,104.8 L218.8,105.3 L219.7,105.7 L220.6,106.2 L221.5,106.6 L222.4,107.1 L223.3,107.4 L224.2,107.7 L225.1,108.0 L226.0,108.3 L226.9,108.5 L227.8,108.8 L228.7,109.1 L229.6,109.3 L230.5,109.6 L231.4,109.8 L232.3,110.0 L233.2,110.2 L234.1,110.4 L235.0,110.6 L235.9,110.7 L236.8,110.8 L237.7,110.9 L238.6,111.0 L239.5,111.1 L240.3,111.1 L241.2,111.2 L242.1,111.3 L243.0,111.4 L243.9,111.4 L244.8,111.5 L245.7,111.6 L246.6,111.6 L247.5,111.7 L248.4,111.8 L249.3,111.8 L250.2,111.9 L251.1,111.9 L252.0,111.9 L252.9,112.0 L253.8,112.0 L254.7,112.0 L255.6,112.0 L256.5,112.0 L257.4,111.9 L258.3,111.8 L259.2,111.7 L260.1,111.5 L261.0,111.4 L261.8,111.2 L262.7,111.0 L263.6,110.8 L264.5,110.6 L265.4,110.5 L266.3,110.6 L267.2,111.4 L268.1,112.2 L268.9,113.1 L269.7,114.1 L270.5,114.2 L271.3,114.1 L272.0,113.6 L272.7,112.8 L273.4,111.8 L274.1,110.6 L274.8,109.6 L275.5,108.9 L276.3,108.1 L277.2,106.8 L278.2,104.5 L279.3,100.2 L280.4,93.8 L281.5,86.2 L282.6,79.9 L283.7,75.2 L284.8,71.7 L285.8,67.6 L286.8,66.5 L287.7,66.1 L288.7,66.5 L289.6,68.2 L290.5,71.9 L291.4,75.6 L292.3,77.7 L293.2,78.2" stroke="#F1975A"/><path d="M54.9,131.8 L55.8,131.6 L56.7,131.5 L57.6,131.3 L58.5,131.0 L59.4,130.8 L60.3,130.6 L61.2,130.5 L62.1,130.6 L63.0,130.8 L63.9,131.0 L64.8,131.3 L65.7,131.4 L66.5,131.5 L67.4,131.5 L68.3,131.6 L69.2,131.6 L70.1,131.6 L71.0,131.6 L71.9,131.6 L72.8,131.6 L73.7,131.6 L74.6,131.6 L75.5,131.6 L76.4,131.6 L77.3,131.6 L78.2,131.6 L79.1,131.6 L80.0,131.6 L80.9,131.6 L81.8,131.7 L82.7,131.7 L83.6,131.7 L84.5,131.7 L85.4,131.7 L86.3,131.8 L87.2,131.8 L88.0,131.8 L88.9,131.9 L89.8,131.9 L90.7,132.0 L91.6,132.0 L92.5,132.1 L93.4,132.1 L94.3,132.2 L95.2,132.2 L96.1,132.3 L97.0,132.4 L97.9,132.4 L98.8,132.5 L99.7,132.5 L100.6,132.6 L101.5,132.6 L102.4,132.6 L103.3,132.7 L104.2,132.7 L105.1,132.7 L106.0,132.8 L106.9,132.8 L107.8,132.8 L108.7,132.9 L109.5,132.9 L110.4,132.9 L111.3,132.9 L112.2,132.9 L113.1,132.8 L114.0,132.7 L114.9,132.7 L115.8,132.6 L116.7,132.5 L117.6,132.3 L118.5,132.1 L119.4,131.9 L120.3,131.7 L121.2,131.5 L122.1,131.2 L123.0,130.8 L123.9,130.5 L124.8,130.0 L125.7,129.4 L126.6,128.7 L127.5,127.9 L128.4,127.1 L129.3,126.4 L130.2,125.8 L131.0,125.1 L131.9,124.4 L132.8,123.7 L133.7,123.2 L134.6,122.7 L135.5,122.4 L136.4,122.4 L137.3,122.6 L138.2,123.2 L139.1,123.9 L140.0,124.7 L140.9,125.6 L141.8,126.5 L142.7,127.2 L143.6,127.9 L144.5,128.4 L145.4,128.9 L146.3,129.4 L147.2,129.9 L148.1,130.3 L149.0,130.7 L149.9,131.1 L150.8,131.4 L151.7,131.7 L152.6,131.9 L153.4,132.1 L154.3,132.3 L155.2,132.5 L156.1,132.6 L157.0,132.8 L157.9,132.9 L158.8,133.0 L159.7,133.1 L160.6,133.2 L161.5,133.3 L162.4,133.3 L163.3,133.4 L164.2,133.4 L165.1,133.4 L166.0,133.4 L166.9,133.4 L167.8,133.3 L168.7,133.3 L169.6,133.3 L170.5,133.2 L171.4,133.2 L172.3,133.2 L173.2,133.1 L174.1,133.1 L174.9,133.1 L175.8,133.0 L176.7,133.0 L177.6,133.0 L178.5,132.9 L179.4,132.7 L180.3,132.3 L181.2,131.8 L182.1,131.2 L183.0,129.8 L183.9,127.9 L184.8,125.9 L185.7,124.3 L186.6,123.2 L187.5,122.1 L188.4,121.1 L189.3,120.1 L190.2,119.2 L191.1,118.4 L192.0,117.5 L192.9,116.7 L193.8,116.0 L194.7,115.4 L195.6,114.9 L196.4,114.5 L197.3,114.0 L198.2,113.6 L199.1,113.0 L200.0,112.4 L200.9,111.8 L201.8,111.1 L202.7,110.6 L203.6,110.1 L204.5,109.5 L205.4,109.0 L206.3,108.6 L207.2,108.1 L208.1,107.7 L209.0,107.3 L209.9,107.0 L210.8,106.7 L211.7,106.5 L212.6,106.5 L213.5,106.5 L214.4,106.7 L215.3,106.9 L216.2,107.3 L217.1,107.6 L217.9,108.0 L218.8,108.5 L219.7,108.9 L220.6,109.4 L221.5,109.9 L222.4,110.3 L223.3,110.6 L224.2,111.0 L225.1,111.2 L226.0,111.5 L226.9,111.8 L227.8,112.0 L228.7,112.3 L229.6,112.5 L230.5,112.8 L231.4,113.0 L232.3,113.2 L233.2,113.4 L234.1,113.6 L235.0,113.7 L235.9,113.9 L236.8,114.0 L237.7,114.1 L238.6,114.2 L239.5,114.3 L240.3,114.4 L241.2,114.4 L242.1,114.5 L243.0,114.6 L243.9,114.7 L244.8,114.8 L245.7,114.8 L246.6,114.9 L247.5,115.0 L248.4,115.0 L249.3,115.1 L250.2,115.1 L251.1,115.2 L252.0,115.2 L252.9,115.3 L253.8,115.3 L254.7,115.3 L255.6,115.3 L256.5,115.3 L257.4,115.2 L258.3,115.2 L259.2,115.0 L260.1,114.9 L261.0,114.8 L261.8,114.5 L262.7,114.1 L263.6,113.6 L264.5,112.9 L265.4,112.0 L266.3,110.7 L267.2,109.4 L268.1,108.7 L268.9,107.8 L269.7,106.4 L270.5,104.6 L271.3,103.1 L272.0,101.4 L272.7,99.4 L273.4,97.3 L274.1,95.5 L274.8,94.1 L275.5,92.9 L276.3,91.9 L277.2,90.4 L278.2,87.0 L279.3,82.3 L280.4,76.3 L281.5,69.0 L282.6,63.1 L283.7,58.7 L284.8,55.4 L285.8,52.6 L286.8,52.3 L287.7,54.3 L288.7,59.0 L289.6,63.2 L290.5,68.7 L291.4,73.8 L292.3,77.4 L293.2,78.4" stroke="#FFD966"/><path d="M54.9,122.1 L55.8,122.0 L56.7,121.8 L57.6,121.6 L58.5,121.3 L59.4,121.1 L60.3,120.9 L61.2,120.8 L62.1,120.9 L63.0,121.1 L63.9,121.4 L64.8,121.6 L65.7,121.8 L66.5,121.9 L67.4,121.9 L68.3,122.0 L69.2,122.0 L70.1,122.0 L71.0,122.0 L71.9,122.1 L72.8,122.1 L73.7,122.1 L74.6,122.1 L75.5,122.1 L76.4,122.2 L77.3,122.2 L78.2,122.2 L79.1,122.2 L80.0,122.3 L80.9,122.3 L81.8,122.3 L82.7,122.3 L83.6,122.3 L84.5,122.4 L85.4,122.4 L86.3,122.4 L87.2,122.5 L88.0,122.5 L88.9,122.5 L89.8,122.6 L90.7,122.6 L91.6,122.7 L92.5,122.7 L93.4,122.8 L94.3,122.8 L95.2,122.9 L96.1,122.9 L97.0,123.0 L97.9,123.0 L98.8,123.0 L99.7,123.1 L100.6,123.1 L101.5,123.1 L102.4,123.1 L103.3,123.2 L104.2,123.2 L105.1,123.2 L106.0,123.2 L106.9,123.2 L107.8,123.3 L108.7,123.3 L109.5,123.3 L110.4,123.3 L111.3,123.2 L112.2,123.2 L113.1,123.1 L114.0,123.0 L114.9,122.9 L115.8,122.8 L116.7,122.7 L117.6,122.6 L118.5,122.4 L119.4,122.2 L120.3,121.9 L121.2,121.7 L122.1,121.4 L123.0,121.0 L123.9,120.6 L124.8,120.1 L125.7,119.4 L126.6,118.6 L127.5,117.8 L128.4,116.9 L129.3,116.2 L130.2,115.6 L131.0,115.0 L131.9,114.3 L132.8,113.7 L133.7,113.2 L134.6,112.8 L135.5,112.5 L136.4,112.5 L137.3,112.8 L138.2,113.3 L139.1,114.1 L140.0,115.0 L140.9,115.9 L141.8,116.9 L142.7,117.7 L143.6,118.3 L144.5,118.8 L145.4,119.3 L146.3,119.8 L147.2,120.2 L148.1,120.6 L149.0,121.0 L149.9,121.4 L150.8,121.7 L151.7,122.0 L152.6,122.2 L153.4,122.4 L154.3,122.6 L155.2,122.8 L156.1,123.0 L157.0,123.1 L157.9,123.3 L158.8,123.4 L159.7,123.5 L160.6,123.6 L161.5,123.7 L162.4,123.8 L163.3,123.9 L164.2,123.9 L165.1,123.9 L166.0,124.0 L166.9,124.0 L167.8,124.0 L168.7,124.0 L169.6,124.0 L170.5,124.0 L171.4,124.0 L172.3,124.0 L173.2,124.0 L174.1,124.0 L174.9,124.0 L175.8,124.0 L176.7,124.0 L177.6,124.0 L178.5,123.9 L179.4,123.7 L180.3,123.4 L181.2,122.9 L182.1,122.2 L183.0,120.9 L183.9,119.0 L184.8,117.0 L185.7,115.3 L186.6,113.7 L187.5,112.1 L188.4,110.7 L189.3,109.6 L190.2,108.7 L191.1,107.7 L192.0,106.7 L192.9,105.6 L193.8,104.4 L194.7,103.2 L195.6,102.4 L196.4,101.7 L197.3,101.0 L198.2,100.2 L199.1,99.3 L200.0,98.4 L200.9,97.6 L201.8,96.9 L202.7,96.1 L203.6,95.3 L204.5,94.4 L205.4,93.6 L206.3,92.9 L207.2,92.4 L208.1,91.9 L209.0,91.4 L209.9,91.1 L210.8,90.9 L211.7,90.7 L212.6,90.7 L213.5,90.8 L214.4,90.9 L215.3,91.2 L216.2,91.5 L217.1,91.8 L217.9,92.2 L218.8,92.6 L219.7,93.1 L220.6,93.5 L221.5,93.9 L222.4,94.3 L223.3,94.7 L224.2,95.0 L225.1,95.3 L226.0,95.5 L226.9,95.8 L227.8,96.0 L228.7,96.3 L229.6,96.5 L230.5,96.8 L231.4,97.0 L232.3,97.2 L233.2,97.4 L234.1,97.5 L235.0,97.7 L235.9,97.8 L236.8,97.9 L237.7,97.9 L238.6,97.9 L239.5,98.0 L240.3,98.0 L241.2,98.0 L242.1,98.0 L243.0,98.1 L243.9,98.1 L244.8,98.1 L245.7,98.1 L246.6,98.1 L247.5,98.1 L248.4,98.2 L249.3,98.2 L250.2,98.2 L251.1,98.2 L252.0,98.2 L252.9,98.2 L253.8,98.2 L254.7,98.1 L255.6,98.1 L256.5,98.0 L257.4,97.9 L258.3,97.8 L259.2,97.6 L260.1,97.4 L261.0,97.1 L261.8,96.9 L262.7,96.6 L263.6,96.4 L264.5,96.2 L265.4,96.0 L266.3,95.9 L267.2,95.9 L268.1,95.8 L268.9,95.5 L269.7,95.5 L270.5,96.0 L271.3,96.6 L272.0,97.0 L272.7,96.2 L273.4,95.3 L274.1,94.7 L274.8,94.4 L275.5,94.1 L276.3,93.4 L277.2,92.0 L278.2,88.7 L279.3,83.8 L280.4,77.4 L281.5,70.0 L282.6,63.9 L283.7,59.4 L284.8,55.7 L285.8,51.5 L286.8,50.2 L287.7,49.5 L288.7,50.0 L289.6,52.7 L290.5,57.1 L291.4,61.4 L292.3,63.8 L293.2,63.5" stroke="#F4B183"/><path d="M54.9,112.9 L55.8,112.8 L56.7,112.6 L57.6,112.4 L58.5,112.2 L59.4,112.0 L60.3,111.8 L61.2,111.8 L62.1,111.9 L63.0,112.2 L63.9,112.5 L64.8,112.8 L65.7,113.0 L66.5,113.1 L67.4,113.3 L68.3,113.3 L69.2,113.4 L70.1,113.5 L71.0,113.6 L71.9,113.6 L72.8,113.7 L73.7,113.8 L74.6,113.9 L75.5,113.9 L76.4,114.0 L77.3,114.1 L78.2,114.2 L79.1,114.2 L80.0,114.3 L80.9,114.4 L81.8,114.4 L82.7,114.5 L83.6,114.6 L84.5,114.6 L85.4,114.7 L86.3,114.7 L87.2,114.8 L88.0,114.9 L88.9,114.9 L89.8,115.0 L90.7,115.1 L91.6,115.2 L92.5,115.2 L93.4,115.3 L94.3,115.3 L95.2,115.4 L96.1,115.5 L97.0,115.5 L97.9,115.6 L98.8,115.6 L99.7,115.6 L100.6,115.7 L101.5,115.7 L102.4,115.7 L103.3,115.8 L104.2,115.8 L105.1,115.8 L106.0,115.8 L106.9,115.8 L107.8,115.8 L108.7,115.8 L109.5,115.8 L110.4,115.8 L111.3,115.8 L112.2,115.7 L113.1,115.6 L114.0,115.5 L114.9,115.5 L115.8,115.4 L116.7,115.2 L117.6,115.1 L118.5,114.9 L119.4,114.7 L120.3,114.4 L121.2,114.1 L122.1,113.8 L123.0,113.4 L123.9,113.1 L124.8,112.5 L125.7,111.8 L126.6,110.9 L127.5,110.0 L128.4,109.1 L129.3,108.3 L130.2,107.7 L131.0,107.1 L131.9,106.5 L132.8,106.0 L133.7,105.5 L134.6,105.1 L135.5,104.8 L136.4,104.8 L137.3,105.1 L138.2,105.7 L139.1,106.5 L140.0,107.4 L140.9,108.4 L141.8,109.4 L142.7,110.2 L143.6,110.8 L144.5,111.3 L145.4,111.8 L146.3,112.2 L147.2,112.6 L148.1,113.0 L149.0,113.3 L149.9,113.7 L150.8,114.0 L151.7,114.2 L152.6,114.4 L153.4,114.6 L154.3,114.8 L155.2,115.0 L156.1,115.1 L157.0,115.2 L157.9,115.4 L158.8,115.5 L159.7,115.6 L160.6,115.7 L161.5,115.7 L162.4,115.8 L163.3,115.9 L164.2,115.9 L165.1,115.9 L166.0,115.9 L166.9,115.9 L167.8,115.9 L168.7,115.9 L169.6,115.9 L170.5,115.9 L171.4,115.9 L172.3,115.9 L173.2,115.8 L174.1,115.8 L174.9,115.8 L175.8,115.8 L176.7,115.8 L177.6,115.8 L178.5,115.8 L179.4,115.6 L180.3,115.2 L181.2,114.7 L182.1,114.2 L183.0,113.1 L183.9,111.5 L184.8,109.9 L185.7,108.4 L186.6,107.1 L187.5,105.7 L188.4,104.5 L189.3,103.6 L190.2,102.9 L191.1,102.4 L192.0,101.9 L192.9,101.6 L193.8,101.4 L194.7,101.1 L195.6,100.8 L196.4,100.6 L197.3,100.4 L198.2,100.3 L199.1,100.2 L200.0,99.9 L200.9,99.6 L201.8,99.3 L202.7,98.9 L203.6,98.5 L204.5,98.1 L205.4,97.7 L206.3,97.4 L207.2,97.0 L208.1,96.6 L209.0,96.3 L209.9,96.0 L210.8,95.8 L211.7,95.7 L212.6,95.7 L213.5,95.7 L214.4,95.9 L215.3,96.2 L216.2,96.5 L217.1,96.9 L217.9,97.3 L218.8,97.8 L219.7,98.2 L220.6,98.7 L221.5,99.1 L222.4,99.6 L223.3,99.9 L224.2,100.3 L225.1,100.6 L226.0,100.8 L226.9,101.1 L227.8,101.4 L228.7,101.7 L229.6,101.9 L230.5,102.2 L231.4,102.4 L232.3,102.7 L233.2,102.9 L234.1,103.1 L235.0,103.2 L235.9,103.3 L236.8,103.4 L237.7,103.5 L238.6,103.6 L239.5,103.7 L240.3,103.7 L241.2,103.8 L242.1,103.8 L243.0,103.9 L243.9,104.0 L244.8,104.0 L245.7,104.1 L246.6,104.1 L247.5,104.1 L248.4,104.2 L249.3,104.2 L250.2,104.3 L251.1,104.3 L252.0,104.3 L252.9,104.3 L253.8,104.3 L254.7,104.3 L255.6,104.3 L256.5,104.3 L257.4,104.2 L258.3,104.1 L259.2,103.9 L260.1,103.7 L261.0,103.5 L261.8,103.3 L262.7,103.1 L263.6,102.9 L264.5,102.8 L265.4,102.6 L266.3,102.6 L267.2,102.6 L268.1,102.4 L268.9,102.0 L269.7,101.4 L270.5,101.3 L271.3,100.9 L272.0,100.2 L272.7,99.8 L273.4,99.2 L274.1,98.4 L274.8,97.5 L275.5,96.7 L276.3,95.7 L277.2,94.2 L278.2,91.2 L279.3,86.7 L280.4,80.5 L281.5,73.0 L282.6,66.9 L283.7,62.3 L284.8,58.7 L285.8,55.2 L286.8,55.4 L287.7,58.0 L288.7,61.3 L289.6,65.1 L290.5,69.9 L291.4,75.1 L292.3,78.9 L293.2,80.1" stroke="#A5A5A5"/><path d="M54.9,134.0 L55.8,133.8 L56.7,133.7 L57.6,133.5 L58.5,133.2 L59.4,133.0 L60.3,132.8 L61.2,132.7 L62.1,132.7 L63.0,132.9 L63.9,133.2 L64.8,133.4 L65.7,133.5 L66.5,133.6 L67.4,133.6 L68.3,133.6 L69.2,133.5 L70.1,133.5 L71.0,133.5 L71.9,133.5 L72.8,133.5 L73.7,133.4 L74.6,133.4 L75.5,133.4 L76.4,133.4 L77.3,133.3 L78.2,133.3 L79.1,133.3 L80.0,133.3 L80.9,133.2 L81.8,133.2 L82.7,133.2 L83.6,133.2 L84.5,133.2 L85.4,133.2 L86.3,133.2 L87.2,133.2 L88.0,133.2 L88.9,133.2 L89.8,133.2 L90.7,133.2 L91.6,133.2 L92.5,133.2 L93.4,133.2 L94.3,133.2 L95.2,133.3 L96.1,133.3 L97.0,133.3 L97.9,133.3 L98.8,133.3 L99.7,133.3 L100.6,133.3 L101.5,133.3 L102.4,133.3 L103.3,133.3 L104.2,133.3 L105.1,133.3 L106.0,133.2 L106.9,133.2 L107.8,133.2 L108.7,133.2 L109.5,133.2 L110.4,133.2 L111.3,133.1 L112.2,133.1 L113.1,133.0 L114.0,132.8 L114.9,132.7 L115.8,132.6 L116.7,132.5 L117.6,132.3 L118.5,132.1 L119.4,131.9 L120.3,131.6 L121.2,131.3 L122.1,131.0 L123.0,130.7 L123.9,130.3 L124.8,129.8 L125.7,129.2 L126.6,128.4 L127.5,127.6 L128.4,126.8 L129.3,126.2 L130.2,125.5 L131.0,124.9 L131.9,124.2 L132.8,123.5 L133.7,122.9 L134.6,122.4 L135.5,122.2 L136.4,122.1 L137.3,122.4 L138.2,123.0 L139.1,123.7 L140.0,124.6 L140.9,125.5 L141.8,126.3 L142.7,127.1 L143.6,127.8 L144.5,128.3 L145.4,128.9 L146.3,129.4 L147.2,129.9 L148.1,130.4 L149.0,130.8 L149.9,131.3 L150.8,131.6 L151.7,131.9 L152.6,132.2 L153.4,132.4 L154.3,132.7 L155.2,132.9 L156.1,133.1 L157.0,133.2 L157.9,133.4 L158.8,133.6 L159.7,133.7 L160.6,133.8 L161.5,134.0 L162.4,134.1 L163.3,134.2 L164.2,134.3 L165.1,134.3 L166.0,134.3 L166.9,134.3 L167.8,134.3 L168.7,134.3 L169.6,134.3 L170.5,134.4 L171.4,134.4 L172.3,134.4 L173.2,134.4 L174.1,134.4 L174.9,134.4 L175.8,134.4 L176.7,134.4 L177.6,134.4 L178.5,134.3 L179.4,134.1 L180.3,133.8 L181.2,133.4 L182.1,132.8 L183.0,131.4 L183.9,129.6 L184.8,127.6 L185.7,126.1 L186.6,125.0 L187.5,124.0 L188.4,123.2 L189.3,122.4 L190.2,121.7 L191.1,120.9 L192.0,120.3 L192.9,119.6 L193.8,119.1 L194.7,118.6 L195.6,118.3 L196.4,118.0 L197.3,117.7 L198.2,117.4 L199.1,117.2 L200.0,117.0 L200.9,116.8 L201.8,116.5 L202.7,116.3 L203.6,116.0 L204.5,115.7 L205.4,115.3 L206.3,114.9 L207.2,114.5 L208.1,114.1 L209.0,113.7 L209.9,113.4 L210.8,113.1 L211.7,113.0 L212.6,112.9 L213.5,112.9 L214.4,113.1 L215.3,113.3 L216.2,113.6 L217.1,114.0 L217.9,114.4 L218.8,114.9 L219.7,115.3 L220.6,115.8 L221.5,116.2 L222.4,116.6 L223.3,117.0 L224.2,117.3 L225.1,117.6 L226.0,117.8 L226.9,118.1 L227.8,118.3 L228.7,118.5 L229.6,118.8 L230.5,119.0 L231.4,119.2 L232.3,119.4 L233.2,119.5 L234.1,119.7 L235.0,119.8 L235.9,120.0 L236.8,120.1 L237.7,120.1 L238.6,120.2 L239.5,120.3 L240.3,120.4 L241.2,120.4 L242.1,120.5 L243.0,120.6 L243.9,120.6 L244.8,120.7 L245.7,120.7 L246.6,120.8 L247.5,120.8 L248.4,120.8 L249.3,120.9 L250.2,120.9 L251.1,120.9 L252.0,120.9 L252.9,120.9 L253.8,120.9 L254.7,120.9 L255.6,120.9 L256.5,120.9 L257.4,120.8 L258.3,120.7 L259.2,120.6 L260.1,120.4 L261.0,120.2 L261.8,120.0 L262.7,119.5 L263.6,118.7 L264.5,117.5 L265.4,115.9 L266.3,113.7 L267.2,111.0 L268.1,108.8 L268.9,106.2 L269.7,103.6 L270.5,100.9 L271.3,98.2 L272.0,95.2 L272.7,92.4 L273.4,89.8 L274.1,87.5 L274.8,85.8 L275.5,84.7 L276.3,83.4 L277.2,81.8 L278.2,78.0 L279.3,73.0 L280.4,66.9 L281.5,59.7 L282.6,53.9 L283.7,49.6 L284.8,45.7 L285.8,41.0 L286.8,39.0 L287.7,38.2 L288.7,38.6 L289.6,40.1 L290.5,43.0 L291.4,46.1 L292.3,47.6 L293.2,46.1" stroke="#FFC000"/><path d="M54.9,115.5 L55.8,115.3 L56.7,115.1 L57.6,114.9 L58.5,114.6 L59.4,114.3 L60.3,114.1 L61.2,114.0 L62.1,114.1 L63.0,114.3 L63.9,114.6 L64.8,114.9 L65.7,115.1 L66.5,115.2 L67.4,115.2 L68.3,115.3 L69.2,115.3 L70.1,115.3 L71.0,115.4 L71.9,115.4 L72.8,115.4 L73.7,115.5 L74.6,115.5 L75.5,115.5 L76.4,115.6 L77.3,115.6 L78.2,115.6 L79.1,115.7 L80.0,115.7 L80.9,115.8 L81.8,115.8 L82.7,115.8 L83.6,115.9 L84.5,115.9 L85.4,115.9 L86.3,116.0 L87.2,116.0 L88.0,116.1 L88.9,116.1 L89.8,116.2 L90.7,116.2 L91.6,116.3 L92.5,116.3 L93.4,116.4 L94.3,116.5 L95.2,116.5 L96.1,116.6 L97.0,116.6 L97.9,116.7 L98.8,116.7 L99.7,116.8 L100.6,116.8 L101.5,116.8 L102.4,116.9 L103.3,116.9 L104.2,116.9 L105.1,117.0 L106.0,117.0 L106.9,117.0 L107.8,117.1 L108.7,117.1 L109.5,117.1 L110.4,117.1 L111.3,117.1 L112.2,117.1 L113.1,117.0 L114.0,117.0 L114.9,116.9 L115.8,116.9 L116.7,116.8 L117.6,116.7 L118.5,116.5 L119.4,116.3 L120.3,116.1 L121.2,115.9 L122.1,115.6 L123.0,115.3 L123.9,114.9 L124.8,114.4 L125.7,113.7 L126.6,112.9 L127.5,112.0 L128.4,111.2 L129.3,110.5 L130.2,109.9 L131.0,109.3 L131.9,108.8 L132.8,108.2 L133.7,107.7 L134.6,107.4 L135.5,107.2 L136.4,107.2 L137.3,107.5 L138.2,108.1 L139.1,109.0 L140.0,109.9 L140.9,110.9 L141.8,111.9 L142.7,112.7 L143.6,113.4 L144.5,113.9 L145.4,114.4 L146.3,114.9 L147.2,115.4 L148.1,115.8 L149.0,116.2 L149.9,116.6 L150.8,116.9 L151.7,117.2 L152.6,117.4 L153.4,117.7 L154.3,117.9 L155.2,118.1 L156.1,118.3 L157.0,118.4 L157.9,118.6 L158.8,118.7 L159.7,118.9 L160.6,119.0 L161.5,119.1 L162.4,119.2 L163.3,119.3 L164.2,119.3 L165.1,119.3 L166.0,119.3 L166.9,119.3 L167.8,119.3 L168.7,119.4 L169.6,119.4 L170.5,119.4 L171.4,119.4 L172.3,119.3 L173.2,119.3 L174.1,119.3 L174.9,119.3 L175.8,119.3 L176.7,119.3 L177.6,119.3 L178.5,119.2 L179.4,119.0 L180.3,118.6 L181.2,118.2 L182.1,117.6 L183.0,116.5 L183.9,114.9 L184.8,113.3 L185.7,111.8 L186.6,110.6 L187.5,109.4 L188.4,108.3 L189.3,107.4 L190.2,106.8 L191.1,106.2 L192.0,105.7 L192.9,105.5 L193.8,105.2 L194.7,104.9 L195.6,104.5 L196.4,104.1 L197.3,103.8 L198.2,103.4 L199.1,103.1 L200.0,102.7 L200.9,102.4 L201.8,102.0 L202.7,101.7 L203.6,101.3 L204.5,100.9 L205.4,100.5 L206.3,100.1 L207.2,99.7 L208.1,99.4 L209.0,99.0 L209.9,98.7 L210.8,98.4 L211.7,98.3 L212.6,98.2 L213.5,98.2 L214.4,98.3 L215.3,98.6 L216.2,98.8 L217.1,99.2 L217.9,99.6 L218.8,100.0 L219.7,100.4 L220.6,100.8 L221.5,101.3 L222.4,101.6 L223.3,102.0 L224.2,102.3 L225.1,102.5 L226.0,102.7 L226.9,103.0 L227.8,103.2 L228.7,103.5 L229.6,103.7 L230.5,103.9 L231.4,104.1 L232.3,104.3 L233.2,104.5 L234.1,104.6 L235.0,104.7 L235.9,104.8 L236.8,104.9 L237.7,104.9 L238.6,105.0 L239.5,105.0 L240.3,105.1 L241.2,105.1 L242.1,105.1 L243.0,105.2 L243.9,105.2 L244.8,105.2 L245.7,105.2 L246.6,105.3 L247.5,105.3 L248.4,105.3 L249.3,105.3 L250.2,105.4 L251.1,105.4 L252.0,105.4 L252.9,105.4 L253.8,105.4 L254.7,105.4 L255.6,105.4 L256.5,105.3 L257.4,105.3 L258.3,105.1 L259.2,105.0 L260.1,104.8 L261.0,104.6 L261.8,104.4 L262.7,104.2 L263.6,104.1 L264.5,104.1 L265.4,104.3 L266.3,104.5 L267.2,104.6 L268.1,104.1 L268.9,103.2 L269.7,102.6 L270.5,102.6 L271.3,102.2 L272.0,102.0 L272.7,101.7 L273.4,101.1 L274.1,100.2 L274.8,99.1 L275.5,98.2 L276.3,97.3 L277.2,95.8 L278.2,92.9 L279.3,88.3 L280.4,82.2 L281.5,74.8 L282.6,68.8 L283.7,64.3 L284.8,60.7 L285.8,56.6 L286.8,54.8 L287.7,53.3 L288.7,54.2 L289.6,56.3 L290.5,60.2 L291.4,63.8 L292.3,65.6 L293.2,65.2" stroke="#7CAFDD"/><path d="M54.9,124.0 L55.8,123.9 L56.7,123.7 L57.6,123.5 L58.5,123.3 L59.4,123.1 L60.3,122.9 L61.2,122.8 L62.1,122.9 L63.0,123.1 L63.9,123.4 L64.8,123.7 L65.7,123.9 L66.5,124.0 L67.4,124.0 L68.3,124.1 L69.2,124.1 L70.1,124.2 L71.0,124.2 L71.9,124.2 L72.8,124.3 L73.7,124.3 L74.6,124.4 L75.5,124.4 L76.4,124.4 L77.3,124.5 L78.2,124.5 L79.1,124.6 L80.0,124.6 L80.9,124.7 L81.8,124.7 L82.7,124.8 L83.6,124.8 L84.5,124.8 L85.4,124.9 L86.3,124.9 L87.2,125.0 L88.0,125.1 L88.9,125.1 L89.8,125.2 L90.7,125.3 L91.6,125.3 L92.5,125.4 L93.4,125.5 L94.3,125.5 L95.2,125.6 L96.1,125.7 L97.0,125.7 L97.9,125.8 L98.8,125.8 L99.7,125.9 L100.6,125.9 L101.5,126.0 L102.4,126.0 L103.3,126.1 L104.2,126.1 L105.1,126.1 L106.0,126.1 L106.9,126.2 L107.8,126.2 L108.7,126.2 L109.5,126.2 L110.4,126.3 L111.3,126.2 L112.2,126.2 L113.1,126.1 L114.0,126.1 L114.9,126.0 L115.8,125.9 L116.7,125.8 L117.6,125.6 L118.5,125.4 L119.4,125.2 L120.3,125.0 L121.2,124.7 L122.1,124.4 L123.0,124.1 L123.9,123.7 L124.8,123.2 L125.7,122.5 L126.6,121.7 L127.5,120.9 L128.4,120.1 L129.3,119.4 L130.2,118.7 L131.0,118.1 L131.9,117.4 L132.8,116.8 L133.7,116.2 L134.6,115.8 L135.5,115.5 L136.4,115.5 L137.3,115.7 L138.2,116.3 L139.1,117.0 L140.0,117.9 L140.9,118.8 L141.8,119.7 L142.7,120.5 L143.6,121.1 L144.5,121.6 L145.4,122.1 L146.3,122.6 L147.2,123.0 L148.1,123.4 L149.0,123.8 L149.9,124.2 L150.8,124.5 L151.7,124.7 L152.6,124.9 L153.4,125.1 L154.3,125.3 L155.2,125.5 L156.1,125.6 L157.0,125.8 L157.9,125.9 L158.8,126.0 L159.7,126.1 L160.6,126.2 L161.5,126.3 L162.4,126.3 L163.3,126.4 L164.2,126.4 L165.1,126.4 L166.0,126.4 L166.9,126.4 L167.8,126.4 L168.7,126.3 L169.6,126.3 L170.5,126.3 L171.4,126.3 L172.3,126.2 L173.2,126.2 L174.1,126.2 L174.9,126.2 L175.8,126.1 L176.7,126.1 L177.6,126.1 L178.5,126.0 L179.4,125.8 L180.3,125.4 L181.2,125.0 L182.1,124.4 L183.0,123.1 L183.9,121.4 L184.8,119.6 L185.7,118.1 L186.6,116.9 L187.5,115.8 L188.4,114.8 L189.3,113.9 L190.2,113.2 L191.1,112.6 L192.0,112.0 L192.9,111.6 L193.8,111.2 L194.7,110.8 L195.6,110.5 L196.4,110.2 L197.3,109.9 L198.2,109.6 L199.1,109.4 L200.0,109.2 L200.9,109.0 L201.8,108.7 L202.7,108.5 L203.6,108.3 L204.5,108.0 L205.4,107.7 L206.3,107.4 L207.2,107.1 L208.1,106.8 L209.0,106.5 L209.9,106.2 L210.8,106.0 L211.7,105.9 L212.6,105.8 L213.5,105.9 L214.4,106.1 L215.3,106.4 L216.2,106.7 L217.1,107.1 L217.9,107.5 L218.8,108.0 L219.7,108.5 L220.6,108.9 L221.5,109.4 L222.4,109.8 L223.3,110.2 L224.2,110.5 L225.1,110.8 L226.0,111.1 L226.9,111.4 L227.8,111.6 L228.7,111.9 L229.6,112.2 L230.5,112.4 L231.4,112.6 L232.3,112.9 L233.2,113.1 L234.1,113.2 L235.0,113.4 L235.9,113.5 L236.8,113.6 L237.7,113.7 L238.6,113.8 L239.5,113.9 L240.3,114.0 L241.2,114.1 L242.1,114.1 L243.0,114.2 L243.9,114.3 L244.8,114.3 L245.7,114.4 L246.6,114.4 L247.5,114.5 L248.4,114.5 L249.3,114.6 L250.2,114.6 L251.1,114.7 L252.0,114.7 L252.9,114.7 L253.8,114.7 L254.7,114.7 L255.6,114.7 L256.5,114.7 L257.4,114.6 L258.3,114.5 L259.2,114.3 L260.1,114.2 L261.0,114.0 L261.8,113.8 L262.7,113.7 L263.6,113.6 L264.5,113.6 L265.4,113.7 L266.3,114.2 L267.2,115.0 L268.1,115.5 L268.9,116.0 L269.7,115.7 L270.5,115.1 L271.3,114.3 L272.0,113.3 L272.7,112.0 L273.4,110.6 L274.1,109.2 L274.8,108.1 L275.5,107.2 L276.3,106.2 L277.2,104.9 L278.2,102.1 L279.3,97.4 L280.4,90.7 L281.5,83.3 L282.6,77.2 L283.7,72.7 L284.8,68.9 L285.8,64.4 L286.8,62.1 L287.7,60.9 L288.7,57.8 L289.6,56.9 L290.5,58.1 L291.4,59.0 L292.3,59.8 L293.2,58.8" stroke="#2E75B6"/><path d="M54.9,120.2 L55.8,120.0 L56.7,119.8 L57.6,119.5 L58.5,119.3 L59.4,119.0 L60.3,118.8 L61.2,118.7 L62.1,118.7 L63.0,118.9 L63.9,119.2 L64.8,119.4 L65.7,119.6 L66.5,119.7 L67.4,119.7 L68.3,119.8 L69.2,119.8 L70.1,119.8 L71.0,119.8 L71.9,119.8 L72.8,119.8 L73.7,119.8 L74.6,119.9 L75.5,119.9 L76.4,119.9 L77.3,119.9 L78.2,119.9 L79.1,120.0 L80.0,120.0 L80.9,120.0 L81.8,120.0 L82.7,120.1 L83.6,120.1 L84.5,120.1 L85.4,120.2 L86.3,120.2 L87.2,120.3 L88.0,120.3 L88.9,120.4 L89.8,120.4 L90.7,120.5 L91.6,120.5 L92.5,120.6 L93.4,120.7 L94.3,120.7 L95.2,120.8 L96.1,120.9 L97.0,120.9 L97.9,121.0 L98.8,121.0 L99.7,121.1 L100.6,121.2 L101.5,121.2 L102.4,121.3 L103.3,121.3 L104.2,121.4 L105.1,121.4 L106.0,121.5 L106.9,121.5 L107.8,121.6 L108.7,121.6 L109.5,121.7 L110.4,121.7 L111.3,121.7 L112.2,121.7 L113.1,121.7 L114.0,121.7 L114.9,121.6 L115.8,121.6 L116.7,121.5 L117.6,121.4 L118.5,121.3 L119.4,121.1 L120.3,120.9 L121.2,120.7 L122.1,120.4 L123.0,120.1 L123.9,119.8 L124.8,119.3 L125.7,118.7 L126.6,117.9 L127.5,117.1 L128.4,116.3 L129.3,115.6 L130.2,115.0 L131.0,114.4 L131.9,113.8 L132.8,113.3 L133.7,112.8 L134.6,112.4 L135.5,112.2 L136.4,112.2 L137.3,112.5 L138.2,113.1 L139.1,113.9 L140.0,114.8 L140.9,115.8 L141.8,116.8 L142.7,117.6 L143.6,118.2 L144.5,118.8 L145.4,119.3 L146.3,119.8 L147.2,120.3 L148.1,120.7 L149.0,121.1 L149.9,121.5 L150.8,121.8 L151.7,122.1 L152.6,122.3 L153.4,122.6 L154.3,122.8 L155.2,122.9 L156.1,123.1 L157.0,123.3 L157.9,123.4 L158.8,123.5 L159.7,123.6 L160.6,123.7 L161.5,123.8 L162.4,123.9 L163.3,124.0 L164.2,124.0 L165.1,124.0 L166.0,124.0 L166.9,124.0 L167.8,124.0 L168.7,124.0 L169.6,123.9 L170.5,123.9 L171.4,123.9 L172.3,123.9 L173.2,123.8 L174.1,123.8 L174.9,123.8 L175.8,123.7 L176.7,123.7 L177.6,123.6 L178.5,123.6 L179.4,123.3 L180.3,122.9 L181.2,122.5 L182.1,121.9 L183.0,120.7 L183.9,119.1 L184.8,117.3 L185.7,115.9 L186.6,114.7 L187.5,113.5 L188.4,112.4 L189.3,111.4 L190.2,110.5 L191.1,109.7 L192.0,109.0 L192.9,108.5 L193.8,108.1 L194.7,107.7 L195.6,107.4 L196.4,107.2 L197.3,106.9 L198.2,106.7 L199.1,106.5 L200.0,106.4 L200.9,106.2 L201.8,105.9 L202.7,105.6 L203.6,105.3 L204.5,104.9 L205.4,104.5 L206.3,104.1 L207.2,103.7 L208.1,103.3 L209.0,102.9 L209.9,102.6 L210.8,102.4 L211.7,102.2 L212.6,102.1 L213.5,102.2 L214.4,102.3 L215.3,102.6 L216.2,102.9 L217.1,103.2 L217.9,103.6 L218.8,104.1 L219.7,104.5 L220.6,105.0 L221.5,105.4 L222.4,105.8 L223.3,106.2 L224.2,106.5 L225.1,106.7 L226.0,107.0 L226.9,107.3 L227.8,107.5 L228.7,107.8 L229.6,108.0 L230.5,108.3 L231.4,108.5 L232.3,108.7 L233.2,108.9 L234.1,109.1 L235.0,109.2 L235.9,109.3 L236.8,109.4 L237.7,109.5 L238.6,109.6 L239.5,109.7 L240.3,109.8 L241.2,109.8 L242.1,109.9 L243.0,110.0 L243.9,110.0 L244.8,110.1 L245.7,110.2 L246.6,110.2 L247.5,110.3 L248.4,110.4 L249.3,110.4 L250.2,110.5 L251.1,110.5 L252.0,110.5 L252.9,110.6 L253.8,110.6 L254.7,110.6 L255.6,110.6 L256.5,110.6 L257.4,110.5 L258.3,110.4 L259.2,110.3 L260.1,110.2 L261.0,110.0 L261.8,109.8 L262.7,109.5 L263.6,109.3 L264.5,108.9 L265.4,108.5 L266.3,108.1 L267.2,107.5 L268.1,107.2 L268.9,107.6 L269.7,107.6 L270.5,107.4 L271.3,107.0 L272.0,106.2 L272.7,105.0 L273.4,103.7 L274.1,102.5 L274.8,101.4 L275.5,100.6 L276.3,99.7 L277.2,98.4 L278.2,95.4 L279.3,90.7 L280.4,84.2 L281.5,76.7 L282.6,70.6 L283.7,66.1 L284.8,62.3 L285.8,58.0 L286.8,55.8 L287.7,53.3 L288.7,53.2 L289.6,54.4 L290.5,57.6 L291.4,60.4 L292.3,62.3 L293.2,61.9" stroke="#4472C4"/><path d="M54.9,106.1 L55.8,105.9 L56.7,105.7 L57.6,105.5 L58.5,105.3 L59.4,105.0 L60.3,104.9 L61.2,104.8 L62.1,104.9 L63.0,105.2 L63.9,105.5 L64.8,105.8 L65.7,106.0 L66.5,106.2 L67.4,106.3 L68.3,106.4 L69.2,106.5 L70.1,106.6 L71.0,106.7 L71.9,106.7 L72.8,106.8 L73.7,106.9 L74.6,107.0 L75.5,107.1 L76.4,107.2 L77.3,107.2 L78.2,107.3 L79.1,107.4 L80.0,107.5 L80.9,107.6 L81.8,107.7 L82.7,107.7 L83.6,107.8 L84.5,107.9 L85.4,108.0 L86.3,108.1 L87.2,108.2 L88.0,108.3 L88.9,108.3 L89.8,108.4 L90.7,108.5 L91.6,108.6 L92.5,108.7 L93.4,108.8 L94.3,108.9 L95.2,108.9 L96.1,109.0 L97.0,109.1 L97.9,109.2 L98.8,109.2 L99.7,109.3 L100.6,109.4 L101.5,109.4 L102.4,109.5 L103.3,109.5 L104.2,109.6 L105.1,109.6 L106.0,109.7 L106.9,109.7 L107.8,109.7 L108.7,109.8 L109.5,109.8 L110.4,109.8 L111.3,109.8 L112.2,109.8 L113.1,109.7 L114.0,109.7 L114.9,109.6 L115.8,109.6 L116.7,109.5 L117.6,109.4 L118.5,109.2 L119.4,109.1 L120.3,108.8 L121.2,108.6 L122.1,108.3 L123.0,107.9 L123.9,107.6 L124.8,107.1 L125.7,106.3 L126.6,105.4 L127.5,104.5 L128.4,103.6 L129.3,102.9 L130.2,102.3 L131.0,101.7 L131.9,101.2 L132.8,100.7 L133.7,100.2 L134.6,99.9 L135.5,99.7 L136.4,99.7 L137.3,100.0 L138.2,100.6 L139.1,101.5 L140.0,102.5 L140.9,103.5 L141.8,104.5 L142.7,105.3 L143.6,106.0 L144.5,106.4 L145.4,106.9 L146.3,107.3 L147.2,107.7 L148.1,108.1 L149.0,108.5 L149.9,108.8 L150.8,109.0 L151.7,109.3 L152.6,109.5 L153.4,109.7 L154.3,109.9 L155.2,110.1 L156.1,110.2 L157.0,110.3 L157.9,110.5 L158.8,110.6 L159.7,110.7 L160.6,110.7 L161.5,110.8 L162.4,110.9 L163.3,110.9 L164.2,110.9 L165.1,110.9 L166.0,110.9 L166.9,110.9 L167.8,110.9 L168.7,110.9 L169.6,110.9 L170.5,110.8 L171.4,110.8 L172.3,110.8 L173.2,110.8 L174.1,110.8 L174.9,110.8 L175.8,110.7 L176.7,110.7 L177.6,110.7 L178.5,110.6 L179.4,110.4 L180.3,110.0 L181.2,109.5 L182.1,109.0 L183.0,108.0 L183.9,106.5 L184.8,105.0 L185.7,103.6 L186.6,102.4 L187.5,101.0 L188.4,99.8 L189.3,98.8 L190.2,98.2 L191.1,97.6 L192.0,97.2 L192.9,96.9 L193.8,96.8 L194.7,96.6 L195.6,96.4 L196.4,96.1 L197.3,95.9 L198.2,95.8 L199.1,95.6 L200.0,95.4 L200.9,95.2 L201.8,94.9 L202.7,94.6 L203.6,94.4 L204.5,94.1 L205.4,93.9 L206.3,93.7 L207.2,93.5 L208.1,93.2 L209.0,92.9 L209.9,92.6 L210.8,92.4 L211.7,92.3 L212.6,92.2 L213.5,92.3 L214.4,92.5 L215.3,92.7 L216.2,93.1 L217.1,93.4 L217.9,93.8 L218.8,94.3 L219.7,94.7 L220.6,95.2 L221.5,95.6 L222.4,96.1 L223.3,96.4 L224.2,96.8 L225.1,97.0 L226.0,97.3 L226.9,97.6 L227.8,97.9 L228.7,98.2 L229.6,98.4 L230.5,98.7 L231.4,98.9 L232.3,99.2 L233.2,99.4 L234.1,99.6 L235.0,99.7 L235.9,99.9 L236.8,99.9 L237.7,100.0 L238.6,100.1 L239.5,100.1 L240.3,100.2 L241.2,100.3 L242.1,100.3 L243.0,100.4 L243.9,100.4 L244.8,100.5 L245.7,100.5 L246.6,100.6 L247.5,100.6 L248.4,100.6 L249.3,100.7 L250.2,100.7 L251.1,100.7 L252.0,100.8 L252.9,100.8 L253.8,100.8 L254.7,100.8 L255.6,100.8 L256.5,100.8 L257.4,100.7 L258.3,100.6 L259.2,100.4 L260.1,100.2 L261.0,100.0 L261.8,99.8 L262.7,99.9 L263.6,100.2 L264.5,100.5 L265.4,100.6 L266.3,100.9 L267.2,102.2 L268.1,103.5 L268.9,103.7 L269.7,104.3 L270.5,105.2 L271.3,106.4 L272.0,107.1 L272.7,107.0 L273.4,106.4 L274.1,105.6 L274.8,104.9 L275.5,104.4 L276.3,103.7 L277.2,102.4 L278.2,99.7 L279.3,95.2 L280.4,88.6 L281.5,81.0 L282.6,74.7 L283.7,70.0 L284.8,66.1 L285.8,61.5 L286.8,59.4 L287.7,55.6 L288.7,52.5 L289.6,52.0 L290.5,53.2 L291.4,54.5 L292.3,55.6 L293.2,54.6" stroke="#9DC3E6"/><path d="M54.9,117.7 L55.8,117.6 L56.7,117.4 L57.6,117.2 L58.5,117.0 L59.4,116.7 L60.3,116.5 L61.2,116.5 L62.1,116.6 L63.0,116.8 L63.9,117.1 L64.8,117.4 L65.7,117.6 L66.5,117.7 L67.4,117.8 L68.3,117.9 L69.2,117.9 L70.1,118.0 L71.0,118.0 L71.9,118.1 L72.8,118.1 L73.7,118.2 L74.6,118.2 L75.5,118.3 L76.4,118.3 L77.3,118.4 L78.2,118.4 L79.1,118.5 L80.0,118.5 L80.9,118.6 L81.8,118.6 L82.7,118.7 L83.6,118.7 L84.5,118.8 L85.4,118.8 L86.3,118.9 L87.2,119.0 L88.0,119.0 L88.9,119.1 L89.8,119.2 L90.7,119.2 L91.6,119.3 L92.5,119.3 L93.4,119.4 L94.3,119.5 L95.2,119.5 L96.1,119.6 L97.0,119.7 L97.9,119.7 L98.8,119.8 L99.7,119.8 L100.6,119.9 L101.5,119.9 L102.4,119.9 L103.3,120.0 L104.2,120.0 L105.1,120.0 L106.0,120.1 L106.9,120.1 L107.8,120.1 L108.7,120.1 L109.5,120.2 L110.4,120.2 L111.3,120.1 L112.2,120.1 L113.1,120.1 L114.0,120.0 L114.9,119.9 L115.8,119.8 L116.7,119.7 L117.6,119.6 L118.5,119.4 L119.4,119.2 L120.3,119.0 L121.2,118.7 L122.1,118.4 L123.0,118.1 L123.9,117.7 L124.8,117.3 L125.7,116.5 L126.6,115.7 L127.5,114.8 L128.4,114.0 L129.3,113.3 L130.2,112.7 L131.0,112.1 L131.9,111.5 L132.8,110.9 L133.7,110.4 L134.6,110.0 L135.5,109.8 L136.4,109.7 L137.3,110.0 L138.2,110.6 L139.1,111.4 L140.0,112.3 L140.9,113.3 L141.8,114.2 L142.7,115.0 L143.6,115.6 L144.5,116.1 L145.4,116.6 L146.3,117.1 L147.2,117.5 L148.1,117.9 L149.0,118.3 L149.9,118.6 L150.8,118.9 L151.7,119.2 L152.6,119.4 L153.4,119.6 L154.3,119.8 L155.2,119.9 L156.1,120.1 L157.0,120.2 L157.9,120.3 L158.8,120.4 L159.7,120.5 L160.6,120.6 L161.5,120.7 L162.4,120.7 L163.3,120.8 L164.2,120.8 L165.1,120.8 L166.0,120.8 L166.9,120.8 L167.8,120.7 L168.7,120.7 L169.6,120.7 L170.5,120.7 L171.4,120.6 L172.3,120.6 L173.2,120.6 L174.1,120.6 L174.9,120.5 L175.8,120.5 L176.7,120.5 L177.6,120.5 L178.5,120.4 L179.4,120.2 L180.3,119.8 L181.2,119.3 L182.1,118.7 L183.0,117.6 L183.9,115.9 L184.8,114.2 L185.7,112.7 L186.6,111.5 L187.5,110.3 L188.4,109.2 L189.3,108.3 L190.2,107.7 L191.1,107.1 L192.0,106.7 L192.9,106.4 L193.8,106.1 L194.7,105.8 L195.6,105.3 L196.4,104.8 L197.3,104.4 L198.2,103.9 L199.1,103.5 L200.0,103.2 L200.9,102.8 L201.8,102.5 L202.7,102.1 L203.6,101.7 L204.5,101.3 L205.4,100.9 L206.3,100.6 L207.2,100.2 L208.1,99.9 L209.0,99.6 L209.9,99.3 L210.8,99.1 L211.7,98.9 L212.6,98.9 L213.5,99.0 L214.4,99.1 L215.3,99.4 L216.2,99.7 L217.1,100.1 L217.9,100.5 L218.8,101.0 L219.7,101.5 L220.6,101.9 L221.5,102.4 L222.4,102.8 L223.3,103.2 L224.2,103.5 L225.1,103.8 L226.0,104.1 L226.9,104.4 L227.8,104.6 L228.7,104.9 L229.6,105.2 L230.5,105.4 L231.4,105.7 L232.3,105.9 L233.2,106.1 L234.1,106.3 L235.0,106.4 L235.9,106.6 L236.8,106.7 L237.7,106.8 L238.6,106.9 L239.5,106.9 L240.3,107.0 L241.2,107.1 L242.1,107.2 L243.0,107.2 L243.9,107.3 L244.8,107.4 L245.7,107.4 L246.6,107.5 L247.5,107.5 L248.4,107.6 L249.3,107.6 L250.2,107.7 L251.1,107.7 L252.0,107.8 L252.9,107.8 L253.8,107.8 L254.7,107.9 L255.6,107.9 L256.5,107.8 L257.4,107.8 L258.3,107.7 L259.2,107.5 L260.1,107.4 L261.0,107.2 L261.8,106.9 L262.7,106.6 L263.6,106.2 L264.5,105.7 L265.4,104.8 L266.3,103.6 L267.2,101.7 L268.1,100.0 L268.9,98.5 L269.7,96.7 L270.5,94.9 L271.3,93.5 L272.0,92.2 L272.7,90.9 L273.4,89.7 L274.1,88.4 L274.8,87.2 L275.5,86.1 L276.3,85.0 L277.2,83.4 L278.2,79.7 L279.3,74.9 L280.4,68.9 L281.5,61.7 L282.6,55.9 L283.7,51.5 L284.8,47.7 L285.8,43.7 L286.8,41.6 L287.7,40.1 L288.7,40.3 L289.6,36.0 L290.5,44.8 L291.4,48.3 L292.3,49.9 L293.2,48.6" stroke="#5B9BD5"/><path d="M54.9,107.5 L55.8,107.3 L56.7,107.1 L57.6,106.9 L58.5,106.7 L59.4,106.4 L60.3,106.2 L61.2,106.2 L62.1,106.3 L63.0,106.6 L63.9,106.9 L64.8,107.2 L65.7,107.4 L66.5,107.6 L67.4,107.7 L68.3,107.8 L69.2,107.9 L70.1,108.0 L71.0,108.1 L71.9,108.1 L72.8,108.2 L73.7,108.3 L74.6,108.4 L75.5,108.5 L76.4,108.6 L77.3,108.7 L78.2,108.8 L79.1,108.8 L80.0,108.9 L80.9,109.0 L81.8,109.1 L82.7,109.2 L83.6,109.3 L84.5,109.4 L85.4,109.5 L86.3,109.5 L87.2,109.6 L88.0,109.7 L88.9,109.8 L89.8,109.9 L90.7,110.0 L91.6,110.1 L92.5,110.2 L93.4,110.3 L94.3,110.3 L95.2,110.4 L96.1,110.5 L97.0,110.6 L97.9,110.6 L98.8,110.7 L99.7,110.8 L100.6,110.8 L101.5,110.9 L102.4,110.9 L103.3,111.0 L104.2,111.0 L105.1,111.1 L106.0,111.1 L106.9,111.1 L107.8,111.2 L108.7,111.2 L109.5,111.2 L110.4,111.2 L111.3,111.2 L112.2,111.2 L113.1,111.1 L114.0,111.1 L114.9,111.0 L115.8,110.9 L116.7,110.9 L117.6,110.7 L118.5,110.6 L119.4,110.4 L120.3,110.1 L121.2,109.9 L122.1,109.6 L123.0,109.2 L123.9,108.9 L124.8,108.3 L125.7,107.6 L126.6,106.7 L127.5,105.7 L128.4,104.9 L129.3,104.1 L130.2,103.5 L131.0,103.0 L131.9,102.4 L132.8,101.9 L133.7,101.4 L134.6,101.1 L135.5,100.9 L136.4,100.8 L137.3,101.1 L138.2,101.7 L139.1,102.6 L140.0,103.5 L140.9,104.5 L141.8,105.5 L142.7,106.4 L143.6,107.0 L144.5,107.5 L145.4,107.9 L146.3,108.3 L147.2,108.7 L148.1,109.1 L149.0,109.4 L149.9,109.8 L150.8,110.0 L151.7,110.3 L152.6,110.5 L153.4,110.7 L154.3,110.8 L155.2,111.0 L156.1,111.2 L157.0,111.3 L157.9,111.4 L158.8,111.5 L159.7,111.6 L160.6,111.7 L161.5,111.7 L162.4,111.8 L163.3,111.9 L164.2,111.9 L165.1,111.9 L166.0,111.9 L166.9,111.9 L167.8,111.8 L168.7,111.8 L169.6,111.8 L170.5,111.8 L171.4,111.8 L172.3,111.8 L173.2,111.8 L174.1,111.7 L174.9,111.7 L175.8,111.7 L176.7,111.7 L177.6,111.7 L178.5,111.6 L179.4,111.4 L180.3,111.0 L181.2,110.5 L182.1,110.0 L183.0,108.9 L183.9,107.4 L184.8,105.8 L185.7,104.4 L186.6,103.0 L187.5,101.5 L188.4,100.2 L189.3,99.0 L190.2,98.1 L191.1,97.4 L192.0,96.7 L192.9,96.3 L193.8,95.9 L194.7,95.5 L195.6,95.1 L196.4,94.7 L197.3,94.3 L198.2,93.9 L199.1,93.5 L200.0,93.1 L200.9,92.7 L201.8,92.3 L202.7,92.0 L203.6,91.6 L204.5,91.2 L205.4,90.9 L206.3,90.6 L207.2,90.3 L208.1,90.0 L209.0,89.8 L209.9,89.5 L210.8,89.3 L211.7,89.2 L212.6,89.1 L213.5,89.2 L214.4,89.4 L215.3,89.6 L216.2,89.9 L217.1,90.3 L217.9,90.7 L218.8,91.2 L219.7,91.6 L220.6,92.1 L221.5,92.5 L222.4,92.9 L223.3,93.3 L224.2,93.6 L225.1,93.9 L226.0,94.2 L226.9,94.4 L227.8,94.7 L228.7,95.0 L229.6,95.2 L230.5,95.5 L231.4,95.7 L232.3,95.9 L233.2,96.1 L234.1,96.3 L235.0,96.5 L235.9,96.6 L236.8,96.7 L237.7,96.7 L238.6,96.8 L239.5,96.8 L240.3,96.9 L241.2,96.9 L242.1,97.0 L243.0,97.0 L243.9,97.0 L244.8,97.1 L245.7,97.1 L246.6,97.1 L247.5,97.2 L248.4,97.2 L249.3,97.2 L250.2,97.2 L251.1,97.3 L252.0,97.3 L252.9,97.3 L253.8,97.3 L254.7,97.3 L255.6,97.3 L256.5,97.3 L257.4,97.2 L258.3,97.1 L259.2,96.9 L260.1,96.7 L261.0,96.5 L261.8,96.2 L262.7,95.9 L263.6,95.6 L264.5,95.2 L265.4,94.8 L266.3,94.3 L267.2,93.8 L268.1,93.3 L268.9,92.9 L269.7,92.5 L270.5,92.0 L271.3,91.4 L272.0,90.5 L272.7,89.6 L273.4,88.9 L274.1,88.5 L274.8,87.8 L275.5,87.2 L276.3,86.3 L277.2,84.8 L278.2,81.3 L279.3,76.8 L280.4,71.0 L281.5,63.7 L282.6,57.9 L283.7,53.4 L284.8,49.5 L285.8,45.4 L286.8,43.2 L287.7,40.5 L288.7,40.1 L289.6,40.9 L290.5,43.1 L291.4,45.5 L292.3,46.7 L293.2,45.0" stroke="#A9D18E"/><path d="M54.9,114.0 L55.8,113.8 L56.7,113.6 L57.6,113.4 L58.5,113.1 L59.4,112.9 L60.3,112.6 L61.2,112.5 L62.1,112.6 L63.0,112.9 L63.9,113.1 L64.8,113.4 L65.7,113.6 L66.5,113.7 L67.4,113.7 L68.3,113.8 L69.2,113.8 L70.1,113.9 L71.0,113.9 L71.9,113.9 L72.8,114.0 L73.7,114.0 L74.6,114.0 L75.5,114.1 L76.4,114.1 L77.3,114.1 L78.2,114.2 L79.1,114.2 L80.0,114.2 L80.9,114.3 L81.8,114.3 L82.7,114.4 L83.6,114.4 L84.5,114.5 L85.4,114.5 L86.3,114.6 L87.2,114.6 L88.0,114.7 L88.9,114.7 L89.8,114.8 L90.7,114.8 L91.6,114.9 L92.5,115.0 L93.4,115.0 L94.3,115.1 L95.2,115.1 L96.1,115.2 L97.0,115.3 L97.9,115.3 L98.8,115.4 L99.7,115.4 L100.6,115.5 L101.5,115.5 L102.4,115.6 L103.3,115.6 L104.2,115.7 L105.1,115.7 L106.0,115.8 L106.9,115.8 L107.8,115.9 L108.7,115.9 L109.5,115.9 L110.4,115.9 L111.3,115.9 L112.2,115.9 L113.1,115.9 L114.0,115.9 L114.9,115.8 L115.8,115.8 L116.7,115.7 L117.6,115.6 L118.5,115.5 L119.4,115.3 L120.3,115.1 L121.2,114.8 L122.1,114.6 L123.0,114.2 L123.9,113.9 L124.8,113.4 L125.7,112.7 L126.6,111.9 L127.5,111.0 L128.4,110.2 L129.3,109.5 L130.2,109.0 L131.0,108.4 L131.9,107.8 L132.8,107.3 L133.7,106.8 L134.6,106.5 L135.5,106.3 L136.4,106.3 L137.3,106.6 L138.2,107.2 L139.1,108.0 L140.0,109.0 L140.9,110.0 L141.8,111.0 L142.7,111.8 L143.6,112.5 L144.5,113.0 L145.4,113.5 L146.3,113.9 L147.2,114.4 L148.1,114.8 L149.0,115.2 L149.9,115.5 L150.8,115.8 L151.7,116.1 L152.6,116.4 L153.4,116.6 L154.3,116.8 L155.2,117.0 L156.1,117.1 L157.0,117.3 L157.9,117.4 L158.8,117.5 L159.7,117.6 L160.6,117.7 L161.5,117.8 L162.4,117.9 L163.3,118.0 L164.2,118.0 L165.1,118.0 L166.0,118.0 L166.9,118.0 L167.8,118.0 L168.7,118.0 L169.6,118.0 L170.5,118.0 L171.4,117.9 L172.3,117.9 L173.2,117.9 L174.1,117.9 L174.9,117.9 L175.8,117.9 L176.7,117.8 L177.6,117.8 L178.5,117.7 L179.4,117.5 L180.3,117.1 L181.2,116.7 L182.1,116.0 L183.0,114.8 L183.9,113.2 L184.8,111.5 L185.7,109.9 L186.6,108.5 L187.5,106.9 L188.4,105.4 L189.3,103.9 L190.2,102.7 L191.1,101.7 L192.0,100.7 L192.9,99.9 L193.8,99.2 L194.7,98.6 L195.6,98.1 L196.4,97.5 L197.3,96.9 L198.2,96.2 L199.1,95.3 L200.0,94.5 L200.9,93.8 L201.8,93.1 L202.7,92.5 L203.6,91.9 L204.5,91.3 L205.4,90.8 L206.3,90.4 L207.2,90.0 L208.1,89.6 L209.0,89.2 L209.9,88.9 L210.8,88.7 L211.7,88.5 L212.6,88.4 L213.5,88.5 L214.4,88.6 L215.3,88.9 L216.2,89.2 L217.1,89.5 L217.9,89.9 L218.8,90.3 L219.7,90.7 L220.6,91.2 L221.5,91.6 L222.4,92.0 L223.3,92.4 L224.2,92.7 L225.1,92.9 L226.0,93.2 L226.9,93.4 L227.8,93.7 L228.7,93.9 L229.6,94.2 L230.5,94.4 L231.4,94.7 L232.3,94.9 L233.2,95.1 L234.1,95.2 L235.0,95.4 L235.9,95.5 L236.8,95.5 L237.7,95.6 L238.6,95.6 L239.5,95.6 L240.3,95.7 L241.2,95.7 L242.1,95.7 L243.0,95.8 L243.9,95.8 L244.8,95.8 L245.7,95.8 L246.6,95.9 L247.5,95.9 L248.4,95.9 L249.3,95.9 L250.2,95.9 L251.1,95.9 L252.0,95.9 L252.9,95.9 L253.8,95.9 L254.7,95.9 L255.6,95.9 L256.5,95.9 L257.4,95.8 L258.3,95.6 L259.2,95.4 L260.1,95.2 L261.0,95.0 L261.8,94.7 L262.7,94.4 L263.6,94.2 L264.5,93.9 L265.4,93.5 L266.3,93.0 L267.2,92.5 L268.1,91.9 L268.9,91.3 L269.7,90.6 L270.5,89.9 L271.3,89.1 L272.0,88.2 L272.7,87.1 L273.4,85.9 L274.1,84.7 L274.8,83.5 L275.5,82.6 L276.3,81.6 L277.2,80.0 L278.2,76.1 L279.3,71.4 L280.4,65.8 L281.5,58.7 L282.6,53.1 L283.7,48.8 L284.8,45.2 L285.8,41.7 L286.8,41.0 L287.7,42.0 L288.7,43.9 L289.6,46.7 L290.5,51.6 L291.4,56.4 L292.3,54.5 L293.2,81.4" stroke="#264478"/><path d="M54.9,133.9 L55.8,133.7 L56.7,133.6 L57.6,133.4 L58.5,133.2 L59.4,132.9 L60.3,132.7 L61.2,132.7 L62.1,132.7 L63.0,133.0 L63.9,133.2 L64.8,133.5 L65.7,133.6 L66.5,133.7 L67.4,133.8 L68.3,133.8 L69.2,133.8 L70.1,133.8 L71.0,133.9 L71.9,133.9 L72.8,133.9 L73.7,133.9 L74.6,133.9 L75.5,133.9 L76.4,133.9 L77.3,134.0 L78.2,134.0 L79.1,134.0 L80.0,134.0 L80.9,134.0 L81.8,134.0 L82.7,134.1 L83.6,134.1 L84.5,134.1 L85.4,134.1 L86.3,134.2 L87.2,134.2 L88.0,134.2 L88.9,134.3 L89.8,134.3 L90.7,134.4 L91.6,134.4 L92.5,134.5 L93.4,134.5 L94.3,134.6 L95.2,134.6 L96.1,134.7 L97.0,134.7 L97.9,134.8 L98.8,134.8 L99.7,134.9 L100.6,134.9 L101.5,135.0 L102.4,135.0 L103.3,135.0 L104.2,135.0 L105.1,135.1 L106.0,135.1 L106.9,135.1 L107.8,135.2 L108.7,135.2 L109.5,135.2 L110.4,135.2 L111.3,135.2 L112.2,135.2 L113.1,135.1 L114.0,135.0 L114.9,134.9 L115.8,134.8 L116.7,134.7 L117.6,134.6 L118.5,134.4 L119.4,134.2 L120.3,133.9 L121.2,133.7 L122.1,133.4 L123.0,133.0 L123.9,132.7 L124.8,132.2 L125.7,131.6 L126.6,130.9 L127.5,130.1 L128.4,129.4 L129.3,128.7 L130.2,128.1 L131.0,127.4 L131.9,126.6 L132.8,126.0 L133.7,125.3 L134.6,124.9 L135.5,124.6 L136.4,124.5 L137.3,124.8 L138.2,125.3 L139.1,126.0 L140.0,126.8 L140.9,127.7 L141.8,128.6 L142.7,129.3 L143.6,130.0 L144.5,130.5 L145.4,131.0 L146.3,131.5 L147.2,132.0 L148.1,132.5 L149.0,132.9 L149.9,133.3 L150.8,133.6 L151.7,133.9 L152.6,134.1 L153.4,134.3 L154.3,134.5 L155.2,134.7 L156.1,134.8 L157.0,135.0 L157.9,135.1 L158.8,135.2 L159.7,135.3 L160.6,135.4 L161.5,135.4 L162.4,135.5 L163.3,135.6 L164.2,135.6 L165.1,135.6 L166.0,135.6 L166.9,135.5 L167.8,135.5 L168.7,135.5 L169.6,135.4 L170.5,135.4 L171.4,135.3 L172.3,135.3 L173.2,135.2 L174.1,135.2 L174.9,135.2 L175.8,135.1 L176.7,135.1 L177.6,135.0 L178.5,134.9 L179.4,134.7 L180.3,134.3 L181.2,133.8 L182.1,133.2 L183.0,131.8 L183.9,129.9 L184.8,127.9 L185.7,126.3 L186.6,125.2 L187.5,124.2 L188.4,123.3 L189.3,122.5 L190.2,121.7 L191.1,121.0 L192.0,120.3 L192.9,119.6 L193.8,119.1 L194.7,118.6 L195.6,118.2 L196.4,117.9 L197.3,117.6 L198.2,117.4 L199.1,117.1 L200.0,116.9 L200.9,116.6 L201.8,116.4 L202.7,116.1 L203.6,115.8 L204.5,115.5 L205.4,115.1 L206.3,114.7 L207.2,114.3 L208.1,113.9 L209.0,113.5 L209.9,113.2 L210.8,113.0 L211.7,112.8 L212.6,112.8 L213.5,112.8 L214.4,113.0 L215.3,113.2 L216.2,113.6 L217.1,113.9 L217.9,114.4 L218.8,114.8 L219.7,115.3 L220.6,115.8 L221.5,116.3 L222.4,116.7 L223.3,117.1 L224.2,117.4 L225.1,117.7 L226.0,118.0 L226.9,118.3 L227.8,118.5 L228.7,118.8 L229.6,119.1 L230.5,119.3 L231.4,119.6 L232.3,119.8 L233.2,120.0 L234.1,120.2 L235.0,120.4 L235.9,120.5 L236.8,120.7 L237.7,120.8 L238.6,120.9 L239.5,121.0 L240.3,121.2 L241.2,121.3 L242.1,121.4 L243.0,121.5 L243.9,121.6 L244.8,121.7 L245.7,121.8 L246.6,121.9 L247.5,122.0 L248.4,122.0 L249.3,122.1 L250.2,122.2 L251.1,122.3 L252.0,122.3 L252.9,122.4 L253.8,122.4 L254.7,122.4 L255.6,122.4 L256.5,122.4 L257.4,122.4 L258.3,122.3 L259.2,122.2 L260.1,122.1 L261.0,122.0 L261.8,121.8 L262.7,121.5 L263.6,121.2 L264.5,120.8 L265.4,120.3 L266.3,119.6 L267.2,118.5 L268.1,117.0 L268.9,114.3 L269.7,111.4 L270.5,109.9 L271.3,108.1 L272.0,105.1 L272.7,103.1 L273.4,100.9 L274.1,98.4 L274.8,96.2 L275.5,94.7 L276.3,93.4 L277.2,91.8 L278.2,88.7 L279.3,84.4 L280.4,78.4 L281.5,71.1 L282.6,65.2 L283.7,60.7 L284.8,56.7 L285.8,51.8 L286.8,49.4 L287.7,48.1 L288.7,48.4 L289.6,48.5 L290.5,49.9 L291.4,52.6 L292.3,54.4 L293.2,53.2" stroke="#255E91"/><path d="M54.9,105.8 L55.8,105.6 L56.7,105.4 L57.6,105.2 L58.5,104.9 L59.4,104.7 L60.3,104.5 L61.2,104.4 L62.1,104.5 L63.0,104.8 L63.9,105.1 L64.8,105.4 L65.7,105.6 L66.5,105.7 L67.4,105.8 L68.3,105.9 L69.2,105.9 L70.1,106.0 L71.0,106.1 L71.9,106.1 L72.8,106.2 L73.7,106.2 L74.6,106.3 L75.5,106.4 L76.4,106.4 L77.3,106.5 L78.2,106.5 L79.1,106.6 L80.0,106.7 L80.9,106.7 L81.8,106.8 L82.7,106.8 L83.6,106.9 L84.5,107.0 L85.4,107.0 L86.3,107.1 L87.2,107.1 L88.0,107.2 L88.9,107.3 L89.8,107.3 L90.7,107.4 L91.6,107.5 L92.5,107.5 L93.4,107.6 L94.3,107.7 L95.2,107.7 L96.1,107.8 L97.0,107.8 L97.9,107.9 L98.8,107.9 L99.7,108.0 L100.6,108.0 L101.5,108.1 L102.4,108.1 L103.3,108.2 L104.2,108.2 L105.1,108.3 L106.0,108.3 L106.9,108.3 L107.8,108.3 L108.7,108.4 L109.5,108.4 L110.4,108.4 L111.3,108.4 L112.2,108.3 L113.1,108.3 L114.0,108.3 L114.9,108.2 L115.8,108.2 L116.7,108.1 L117.6,108.0 L118.5,107.8 L119.4,107.6 L120.3,107.4 L121.2,107.2 L122.1,106.9 L123.0,106.5 L123.9,106.2 L124.8,105.7 L125.7,104.9 L126.6,104.0 L127.5,103.1 L128.4,102.2 L129.3,101.5 L130.2,100.9 L131.0,100.4 L131.9,99.8 L132.8,99.3 L133.7,98.9 L134.6,98.6 L135.5,98.4 L136.4,98.4 L137.3,98.7 L138.2,99.4 L139.1,100.2 L140.0,101.2 L140.9,102.3 L141.8,103.3 L142.7,104.1 L143.6,104.8 L144.5,105.3 L145.4,105.7 L146.3,106.2 L147.2,106.6 L148.1,107.0 L149.0,107.3 L149.9,107.6 L150.8,107.9 L151.7,108.1 L152.6,108.4 L153.4,108.6 L154.3,108.8 L155.2,108.9 L156.1,109.1 L157.0,109.3 L157.9,109.4 L158.8,109.5 L159.7,109.6 L160.6,109.7 L161.5,109.8 L162.4,109.8 L163.3,109.9 L164.2,109.9 L165.1,109.9 L166.0,109.9 L166.9,109.9 L167.8,109.9 L168.7,109.9 L169.6,109.9 L170.5,109.9 L171.4,109.9 L172.3,109.9 L173.2,109.9 L174.1,109.9 L174.9,109.9 L175.8,109.9 L176.7,109.9 L177.6,109.9 L178.5,109.9 L179.4,109.7 L180.3,109.3 L181.2,108.9 L182.1,108.3 L183.0,107.3 L183.9,105.9 L184.8,104.4 L185.7,103.1 L186.6,101.8 L187.5,100.4 L188.4,99.2 L189.3,98.2 L190.2,97.6 L191.1,97.1 L192.0,96.6 L192.9,96.4 L193.8,96.3 L194.7,96.2 L195.6,95.9 L196.4,95.7 L197.3,95.5 L198.2,95.3 L199.1,95.2 L200.0,95.0 L200.9,94.8 L201.8,94.6 L202.7,94.3 L203.6,94.0 L204.5,93.8 L205.4,93.5 L206.3,93.4 L207.2,93.1 L208.1,92.9 L209.0,92.6 L209.9,92.3 L210.8,92.1 L211.7,92.0 L212.6,91.9 L213.5,92.0 L214.4,92.1 L215.3,92.4 L216.2,92.7 L217.1,93.0 L217.9,93.5 L218.8,93.9 L219.7,94.3 L220.6,94.8 L221.5,95.2 L222.4,95.6 L223.3,96.0 L224.2,96.3 L225.1,96.5 L226.0,96.8 L226.9,97.0 L227.8,97.3 L228.7,97.5 L229.6,97.8 L230.5,98.0 L231.4,98.2 L232.3,98.4 L233.2,98.6 L234.1,98.8 L235.0,98.9 L235.9,99.0 L236.8,99.1 L237.7,99.1 L238.6,99.1 L239.5,99.2 L240.3,99.2 L241.2,99.2 L242.1,99.3 L243.0,99.3 L243.9,99.3 L244.8,99.3 L245.7,99.3 L246.6,99.4 L247.5,99.4 L248.4,99.4 L249.3,99.4 L250.2,99.4 L251.1,99.4 L252.0,99.4 L252.9,99.4 L253.8,99.4 L254.7,99.4 L255.6,99.4 L256.5,99.3 L257.4,99.2 L258.3,99.0 L259.2,98.8 L260.1,98.6 L261.0,98.4 L261.8,98.1 L262.7,97.9 L263.6,97.7 L264.5,97.6 L265.4,97.7 L266.3,97.9 L267.2,97.8 L268.1,97.7 L268.9,97.9 L269.7,98.7 L270.5,99.0 L271.3,99.4 L272.0,98.9 L272.7,98.5 L273.4,98.5 L274.1,98.3 L274.8,97.7 L275.5,97.1 L276.3,96.2 L277.2,94.8 L278.2,91.6 L279.3,86.6 L280.4,80.2 L281.5,72.8 L282.6,66.8 L283.7,62.3 L284.8,58.8 L285.8,54.9 L286.8,54.0 L287.7,54.9 L288.7,57.4 L289.6,60.6 L290.5,65.1 L291.4,70.0 L292.3,73.2 L293.2,73.7" stroke="#ED7D31"/><path d="M54.9,135.7 L55.8,135.6 L56.7,135.4 L57.6,135.3 L58.5,135.0 L59.4,134.8 L60.3,134.6 L61.2,134.5 L62.1,134.6 L63.0,134.8 L63.9,135.0 L64.8,135.2 L65.7,135.4 L66.5,135.5 L67.4,135.5 L68.3,135.5 L69.2,135.5 L70.1,135.5 L71.0,135.5 L71.9,135.5 L72.8,135.5 L73.7,135.4 L74.6,135.4 L75.5,135.4 L76.4,135.4 L77.3,135.4 L78.2,135.4 L79.1,135.4 L80.0,135.4 L80.9,135.4 L81.8,135.4 L82.7,135.4 L83.6,135.4 L84.5,135.4 L85.4,135.4 L86.3,135.4 L87.2,135.4 L88.0,135.4 L88.9,135.4 L89.8,135.4 L90.7,135.5 L91.6,135.5 L92.5,135.5 L93.4,135.5 L94.3,135.6 L95.2,135.6 L96.1,135.6 L97.0,135.7 L97.9,135.7 L98.8,135.7 L99.7,135.7 L100.6,135.7 L101.5,135.7 L102.4,135.7 L103.3,135.7 L104.2,135.7 L105.1,135.7 L106.0,135.7 L106.9,135.7 L107.8,135.7 L108.7,135.7 L109.5,135.7 L110.4,135.7 L111.3,135.7 L112.2,135.6 L113.1,135.5 L114.0,135.4 L114.9,135.3 L115.8,135.2 L116.7,135.0 L117.6,134.9 L118.5,134.7 L119.4,134.4 L120.3,134.2 L121.2,133.9 L122.1,133.6 L123.0,133.2 L123.9,132.9 L124.8,132.4 L125.7,131.7 L126.6,131.0 L127.5,130.2 L128.4,129.5 L129.3,128.8 L130.2,128.1 L131.0,127.4 L131.9,126.7 L132.8,126.0 L133.7,125.4 L134.6,124.9 L135.5,124.6 L136.4,124.6 L137.3,124.8 L138.2,125.4 L139.1,126.1 L140.0,126.9 L140.9,127.8 L141.8,128.6 L142.7,129.4 L143.6,130.0 L144.5,130.6 L145.4,131.1 L146.3,131.6 L147.2,132.1 L148.1,132.6 L149.0,133.0 L149.9,133.4 L150.8,133.8 L151.7,134.1 L152.6,134.3 L153.4,134.6 L154.3,134.8 L155.2,135.0 L156.1,135.1 L157.0,135.3 L157.9,135.5 L158.8,135.6 L159.7,135.7 L160.6,135.8 L161.5,135.9 L162.4,136.1 L163.3,136.2 L164.2,136.2 L165.1,136.2 L166.0,136.2 L166.9,136.2 L167.8,136.2 L168.7,136.2 L169.6,136.2 L170.5,136.2 L171.4,136.2 L172.3,136.2 L173.2,136.2 L174.1,136.1 L174.9,136.1 L175.8,136.1 L176.7,136.1 L177.6,136.1 L178.5,136.0 L179.4,135.8 L180.3,135.5 L181.2,135.0 L182.1,134.4 L183.0,133.0 L183.9,131.1 L184.8,129.1 L185.7,127.5 L186.6,126.5 L187.5,125.5 L188.4,124.7 L189.3,123.9 L190.2,123.1 L191.1,122.4 L192.0,121.7 L192.9,121.0 L193.8,120.5 L194.7,120.0 L195.6,119.6 L196.4,119.3 L197.3,119.1 L198.2,118.8 L199.1,118.6 L200.0,118.4 L200.9,118.2 L201.8,117.9 L202.7,117.7 L203.6,117.4 L204.5,117.1 L205.4,116.7 L206.3,116.3 L207.2,115.9 L208.1,115.5 L209.0,115.2 L209.9,114.9 L210.8,114.6 L211.7,114.5 L212.6,114.4 L213.5,114.5 L214.4,114.6 L215.3,114.9 L216.2,115.2 L217.1,115.6 L217.9,116.0 L218.8,116.5 L219.7,116.9 L220.6,117.4 L221.5,117.9 L222.4,118.3 L223.3,118.7 L224.2,119.0 L225.1,119.3 L226.0,119.5 L226.9,119.8 L227.8,120.1 L228.7,120.3 L229.6,120.5 L230.5,120.8 L231.4,121.0 L232.3,121.2 L233.2,121.4 L234.1,121.6 L235.0,121.8 L235.9,121.9 L236.8,122.0 L237.7,122.1 L238.6,122.2 L239.5,122.3 L240.3,122.4 L241.2,122.5 L242.1,122.6 L243.0,122.7 L243.9,122.8 L244.8,122.9 L245.7,123.0 L246.6,123.0 L247.5,123.1 L248.4,123.2 L249.3,123.2 L250.2,123.3 L251.1,123.3 L252.0,123.3 L252.9,123.4 L253.8,123.4 L254.7,123.4 L255.6,123.4 L256.5,123.4 L257.4,123.3 L258.3,123.2 L259.2,123.1 L260.1,123.0 L261.0,122.8 L261.8,122.7 L262.7,122.5 L263.6,122.3 L264.5,122.1 L265.4,121.7 L266.3,121.3 L267.2,120.8 L268.1,120.2 L268.9,119.5 L269.7,118.8 L270.5,118.1 L271.3,117.2 L272.0,116.2 L272.7,114.8 L273.4,113.4 L274.1,112.1 L274.8,110.9 L275.5,110.0 L276.3,109.1 L277.2,107.8 L278.2,105.2 L279.3,100.5 L280.4,93.6 L281.5,85.9 L282.6,79.6 L283.7,75.0 L284.8,71.5 L285.8,67.8 L286.8,67.2 L287.7,67.4 L288.7,68.5 L289.6,71.1 L290.5,75.7 L291.4,80.6 L292.3,84.0 L293.2,85.3" stroke="#70AD47"/></g><g clip-path="url(#cb)" fill="none" stroke-width="1.8" stroke-linejoin="round" stroke-linecap="round"><path d="M378.1,80.4 L379.4,80.0 L380.6,79.6 L381.9,79.2 L383.2,78.7 L384.4,78.1 L385.7,77.5 L386.9,76.9 L388.2,76.3 L389.5,75.7 L390.7,75.1 L392.0,74.5 L393.3,73.8 L394.5,73.2 L395.8,72.6 L397.0,71.9 L398.3,71.2 L399.6,70.5 L400.8,69.8 L402.1,69.0 L403.4,68.2 L404.6,67.4 L405.9,66.6 L407.2,65.6 L408.4,64.7 L409.7,63.7 L410.9,62.7 L412.2,61.7 L413.5,60.7 L414.7,59.7 L416.0,58.8 L417.3,58.0 L418.5,57.1 L419.8,56.3 L421.0,55.6 L422.3,54.8 L423.6,54.1 L424.8,53.3 L426.1,52.6 L427.4,52.0 L428.6,51.3 L429.9,50.7 L431.2,50.1 L432.4,49.5 L433.7,49.0 L434.9,48.5 L436.2,48.0 L437.5,47.5 L438.7,47.0 L440.0,46.6 L441.3,46.1 L442.5,45.6 L443.8,45.1 L445.0,44.6 L446.3,44.1 L447.6,43.6 L448.8,43.0 L450.1,42.6 L451.4,42.3 L452.6,41.9 L453.9,41.6 L455.2,41.4 L456.4,41.3 L457.7,41.2 L458.9,41.3 L460.2,41.3 L461.5,41.4 L462.7,41.5 L464.0,41.7 L465.3,41.9 L466.5,42.2 L467.8,42.4 L469.1,42.6 L470.3,42.9 L471.6,43.1 L472.8,43.3 L474.1,43.5 L475.4,43.8 L476.6,44.1 L477.9,44.4 L479.2,44.8 L480.4,45.2 L481.7,45.6 L482.9,46.0 L484.2,46.4 L485.5,46.9 L486.7,47.4 L488.0,47.9 L489.3,48.4 L490.5,48.9 L491.8,49.5 L493.1,50.0 L494.3,50.6 L495.6,51.3 L496.8,52.1 L498.1,53.0 L499.4,53.8 L500.6,54.6 L501.9,55.4 L503.2,56.2 L504.4,57.2 L505.7,58.2 L506.9,59.3 L508.2,60.2 L509.5,61.1 L510.7,61.8 L512.0,62.5 L513.3,63.1 L514.5,63.6 L515.8,64.2 L517.1,64.6 L518.3,65.1 L519.6,65.4 L520.8,65.7 L522.1,66.0 L523.4,66.1 L524.6,66.2 L525.9,66.2 L527.2,66.1 L528.4,66.0 L529.7,65.8 L530.9,65.6" stroke="#F2F2F2"/><path d="M378.1,88.9 L379.4,88.6 L380.6,88.3 L381.9,87.8 L383.2,87.4 L384.4,86.9 L385.7,86.3 L386.9,85.7 L388.2,85.2 L389.5,84.6 L390.7,84.0 L392.0,83.4 L393.3,82.8 L394.5,82.1 L395.8,81.4 L397.0,80.6 L398.3,79.9 L399.6,79.1 L400.8,78.3 L402.1,77.5 L403.4,76.7 L404.6,75.8 L405.9,74.9 L407.2,74.0 L408.4,73.0 L409.7,72.0 L410.9,71.0 L412.2,70.0 L413.5,69.0 L414.7,68.1 L416.0,67.1 L417.3,66.3 L418.5,65.4 L419.8,64.6 L421.0,63.8 L422.3,63.1 L423.6,62.3 L424.8,61.6 L426.1,60.9 L427.4,60.2 L428.6,59.5 L429.9,58.9 L431.2,58.4 L432.4,57.8 L433.7,57.3 L434.9,56.8 L436.2,56.3 L437.5,55.8 L438.7,55.3 L440.0,54.9 L441.3,54.4 L442.5,53.9 L443.8,53.4 L445.0,52.9 L446.3,52.4 L447.6,51.8 L448.8,51.2 L450.1,50.7 L451.4,50.3 L452.6,49.9 L453.9,49.5 L455.2,49.2 L456.4,49.0 L457.7,48.9 L458.9,48.9 L460.2,48.9 L461.5,48.9 L462.7,48.9 L464.0,49.0 L465.3,49.1 L466.5,49.1 L467.8,49.2 L469.1,49.3 L470.3,49.4 L471.6,49.4 L472.8,49.5 L474.1,49.6 L475.4,49.7 L476.6,49.9 L477.9,50.1 L479.2,50.3 L480.4,50.7 L481.7,51.1 L482.9,51.7 L484.2,52.3 L485.5,53.0 L486.7,53.6 L488.0,54.2 L489.3,54.8 L490.5,55.5 L491.8,56.2 L493.1,57.0 L494.3,57.8 L495.6,58.6 L496.8,59.3 L498.1,60.0 L499.4,60.7 L500.6,61.4 L501.9,62.0 L503.2,62.6 L504.4,63.3 L505.7,64.0 L506.9,64.6 L508.2,65.3 L509.5,65.9 L510.7,66.5 L512.0,67.0 L513.3,67.5 L514.5,67.9 L515.8,68.4 L517.1,68.8 L518.3,69.2 L519.6,69.5 L520.8,69.8 L522.1,70.0 L523.4,70.2 L524.6,70.3 L525.9,70.3 L527.2,70.3 L528.4,70.2 L529.7,70.1 L530.9,69.9" stroke="#BDD7EE"/><path d="M378.1,84.6 L379.4,84.3 L380.6,83.9 L381.9,83.5 L383.2,83.0 L384.4,82.4 L385.7,81.8 L386.9,81.2 L388.2,80.5 L389.5,79.9 L390.7,79.3 L392.0,78.7 L393.3,78.0 L394.5,77.3 L395.8,76.6 L397.0,75.9 L398.3,75.1 L399.6,74.4 L400.8,73.6 L402.1,72.8 L403.4,72.0 L404.6,71.2 L405.9,70.3 L407.2,69.4 L408.4,68.4 L409.7,67.4 L410.9,66.4 L412.2,65.4 L413.5,64.5 L414.7,63.5 L416.0,62.6 L417.3,61.8 L418.5,61.0 L419.8,60.2 L421.0,59.4 L422.3,58.6 L423.6,57.9 L424.8,57.2 L426.1,56.5 L427.4,55.9 L428.6,55.2 L429.9,54.6 L431.2,54.1 L432.4,53.5 L433.7,53.0 L434.9,52.5 L436.2,52.0 L437.5,51.6 L438.7,51.1 L440.0,50.6 L441.3,50.2 L442.5,49.7 L443.8,49.2 L445.0,48.7 L446.3,48.1 L447.6,47.5 L448.8,46.9 L450.1,46.4 L451.4,45.9 L452.6,45.5 L453.9,45.0 L455.2,44.5 L456.4,44.0 L457.7,43.4 L458.9,42.8 L460.2,42.0 L461.5,41.0 L462.7,39.9 L464.0,38.8 L465.3,37.6 L466.5,36.6 L467.8,35.7 L469.1,35.1 L470.3,34.9 L471.6,35.0 L472.8,35.4 L474.1,36.0 L475.4,36.8 L476.6,37.7 L477.9,38.6 L479.2,39.4 L480.4,40.1 L481.7,40.7 L482.9,41.2 L484.2,41.6 L485.5,41.9 L486.7,42.1 L488.0,42.4 L489.3,42.6 L490.5,42.8 L491.8,43.0 L493.1,43.3 L494.3,43.7 L495.6,44.1 L496.8,44.5 L498.1,44.9 L499.4,45.3 L500.6,45.7 L501.9,46.0 L503.2,46.4 L504.4,46.8 L505.7,47.3 L506.9,47.7 L508.2,48.1 L509.5,48.5 L510.7,48.8 L512.0,49.0 L513.3,49.3 L514.5,49.5 L515.8,49.7 L517.1,49.9 L518.3,50.1 L519.6,50.2 L520.8,50.3 L522.1,50.4 L523.4,50.4 L524.6,50.3 L525.9,50.0 L527.2,49.7 L528.4,49.3 L529.7,48.9 L530.9,48.4" stroke="#43682B"/><path d="M378.1,100.8 L379.4,100.5 L380.6,100.2 L381.9,99.9 L383.2,99.5 L384.4,99.1 L385.7,98.7 L386.9,98.2 L388.2,97.7 L389.5,97.2 L390.7,96.7 L392.0,96.2 L393.3,95.5 L394.5,94.8 L395.8,94.1 L397.0,93.4 L398.3,92.6 L399.6,91.7 L400.8,90.9 L402.1,90.1 L403.4,89.2 L404.6,88.3 L405.9,87.4 L407.2,86.4 L408.4,85.4 L409.7,84.4 L410.9,83.4 L412.2,82.4 L413.5,81.4 L414.7,80.4 L416.0,79.4 L417.3,78.5 L418.5,77.7 L419.8,76.8 L421.0,76.0 L422.3,75.2 L423.6,74.4 L424.8,73.6 L426.1,72.9 L427.4,72.2 L428.6,71.5 L429.9,70.9 L431.2,70.3 L432.4,69.8 L433.7,69.2 L434.9,68.7 L436.2,68.2 L437.5,67.8 L438.7,67.3 L440.0,66.9 L441.3,66.4 L442.5,66.0 L443.8,65.7 L445.0,65.3 L446.3,64.8 L447.6,64.4 L448.8,63.9 L450.1,63.5 L451.4,63.1 L452.6,62.7 L453.9,62.4 L455.2,62.2 L456.4,62.1 L457.7,62.2 L458.9,62.3 L460.2,62.5 L461.5,62.7 L462.7,62.8 L464.0,63.0 L465.3,63.1 L466.5,63.2 L467.8,63.3 L469.1,63.4 L470.3,63.4 L471.6,63.5 L472.8,63.5 L474.1,63.6 L475.4,63.7 L476.6,63.8 L477.9,63.9 L479.2,64.1 L480.4,64.3 L481.7,64.6 L482.9,64.9 L484.2,65.2 L485.5,65.6 L486.7,65.9 L488.0,66.3 L489.3,66.7 L490.5,67.2 L491.8,67.7 L493.1,68.2 L494.3,68.8 L495.6,69.5 L496.8,70.2 L498.1,70.9 L499.4,71.6 L500.6,72.3 L501.9,73.0 L503.2,73.6 L504.4,74.3 L505.7,75.0 L506.9,75.7 L508.2,76.4 L509.5,77.0 L510.7,77.6 L512.0,78.1 L513.3,78.6 L514.5,79.1 L515.8,79.6 L517.1,80.0 L518.3,80.4 L519.6,80.7 L520.8,81.0 L522.1,81.2 L523.4,81.4 L524.6,81.5 L525.9,81.7 L527.2,81.8 L528.4,81.8 L529.7,81.8 L530.9,81.8" stroke="#997300"/><path d="M378.1,102.9 L379.4,102.6 L380.6,102.4 L381.9,102.0 L383.2,101.7 L384.4,101.3 L385.7,100.9 L386.9,100.5 L388.2,100.0 L389.5,99.6 L390.7,99.1 L392.0,98.5 L393.3,97.9 L394.5,97.3 L395.8,96.5 L397.0,95.8 L398.3,95.0 L399.6,94.2 L400.8,93.4 L402.1,92.6 L403.4,91.7 L404.6,90.8 L405.9,89.9 L407.2,88.9 L408.4,87.9 L409.7,86.9 L410.9,85.9 L412.2,84.8 L413.5,83.8 L414.7,82.8 L416.0,81.8 L417.3,80.9 L418.5,80.1 L419.8,79.2 L421.0,78.4 L422.3,77.5 L423.6,76.7 L424.8,76.0 L426.1,75.2 L427.4,74.5 L428.6,73.8 L429.9,73.2 L431.2,72.6 L432.4,72.0 L433.7,71.4 L434.9,70.9 L436.2,70.4 L437.5,69.9 L438.7,69.4 L440.0,69.0 L441.3,68.5 L442.5,68.1 L443.8,67.6 L445.0,67.1 L446.3,66.6 L447.6,66.1 L448.8,65.5 L450.1,65.0 L451.4,64.5 L452.6,64.0 L453.9,63.5 L455.2,63.2 L456.4,62.9 L457.7,62.8 L458.9,62.7 L460.2,62.7 L461.5,62.6 L462.7,62.6 L464.0,62.5 L465.3,62.5 L466.5,62.5 L467.8,62.4 L469.1,62.4 L470.3,62.4 L471.6,62.3 L472.8,62.3 L474.1,62.3 L475.4,62.3 L476.6,62.4 L477.9,62.5 L479.2,62.6 L480.4,62.7 L481.7,62.8 L482.9,62.9 L484.2,63.1 L485.5,63.2 L486.7,63.2 L488.0,63.2 L489.3,63.2 L490.5,63.2 L491.8,63.2 L493.1,63.3 L494.3,63.5 L495.6,63.7 L496.8,64.0 L498.1,64.4 L499.4,64.8 L500.6,65.2 L501.9,65.6 L503.2,66.0 L504.4,66.5 L505.7,67.0 L506.9,67.4 L508.2,67.9 L509.5,68.4 L510.7,68.8 L512.0,69.1 L513.3,69.4 L514.5,69.8 L515.8,70.1 L517.1,70.4 L518.3,70.6 L519.6,70.9 L520.8,71.0 L522.1,71.2 L523.4,71.3 L524.6,71.3 L525.9,71.3 L527.2,71.3 L528.4,71.2 L529.7,71.1 L530.9,70.9" stroke="#C55A11"/><path d="M378.1,97.8 L379.4,97.6 L380.6,97.3 L381.9,96.9 L383.2,96.5 L384.4,96.1 L385.7,95.6 L386.9,95.2 L388.2,94.7 L389.5,94.2 L390.7,93.7 L392.0,93.1 L393.3,92.5 L394.5,91.8 L395.8,91.1 L397.0,90.4 L398.3,89.6 L399.6,88.8 L400.8,88.0 L402.1,87.2 L403.4,86.4 L404.6,85.5 L405.9,84.6 L407.2,83.6 L408.4,82.6 L409.7,81.6 L410.9,80.6 L412.2,79.5 L413.5,78.5 L414.7,77.5 L416.0,76.6 L417.3,75.7 L418.5,74.8 L419.8,74.0 L421.0,73.2 L422.3,72.3 L423.6,71.6 L424.8,70.8 L426.1,70.0 L427.4,69.3 L428.6,68.7 L429.9,68.0 L431.2,67.4 L432.4,66.9 L433.7,66.3 L434.9,65.8 L436.2,65.3 L437.5,64.8 L438.7,64.3 L440.0,63.9 L441.3,63.4 L442.5,63.0 L443.8,62.6 L445.0,62.1 L446.3,61.7 L447.6,61.1 L448.8,60.6 L450.1,60.2 L451.4,59.7 L452.6,59.3 L453.9,59.0 L455.2,58.7 L456.4,58.5 L457.7,58.5 L458.9,58.5 L460.2,58.6 L461.5,58.7 L462.7,58.8 L464.0,59.0 L465.3,59.1 L466.5,59.3 L467.8,59.4 L469.1,59.5 L470.3,59.6 L471.6,59.8 L472.8,59.9 L474.1,60.1 L475.4,60.3 L476.6,60.5 L477.9,60.7 L479.2,60.9 L480.4,61.1 L481.7,61.4 L482.9,61.6 L484.2,61.8 L485.5,62.1 L486.7,62.3 L488.0,62.6 L489.3,62.9 L490.5,63.1 L491.8,63.5 L493.1,63.9 L494.3,64.4 L495.6,64.8 L496.8,65.4 L498.1,65.9 L499.4,66.5 L500.6,67.0 L501.9,67.6 L503.2,68.1 L504.4,68.7 L505.7,69.3 L506.9,69.9 L508.2,70.5 L509.5,71.0 L510.7,71.5 L512.0,72.0 L513.3,72.4 L514.5,72.8 L515.8,73.2 L517.1,73.6 L518.3,74.0 L519.6,74.3 L520.8,74.5 L522.1,74.7 L523.4,74.9 L524.6,75.0 L525.9,75.1 L527.2,75.1 L528.4,75.1 L529.7,75.0 L530.9,74.9" stroke="#636363"/><path d="M378.1,105.0 L379.4,104.8 L380.6,104.5 L381.9,104.2 L383.2,103.9 L384.4,103.5 L385.7,103.2 L386.9,102.8 L388.2,102.3 L389.5,101.9 L390.7,101.4 L392.0,100.8 L393.3,100.2 L394.5,99.5 L395.8,98.8 L397.0,98.0 L398.3,97.2 L399.6,96.3 L400.8,95.5 L402.1,94.6 L403.4,93.7 L404.6,92.8 L405.9,91.8 L407.2,90.8 L408.4,89.8 L409.7,88.7 L410.9,87.7 L412.2,86.6 L413.5,85.6 L414.7,84.6 L416.0,83.6 L417.3,82.6 L418.5,81.8 L419.8,80.9 L421.0,80.0 L422.3,79.2 L423.6,78.4 L424.8,77.6 L426.1,76.8 L427.4,76.1 L428.6,75.4 L429.9,74.7 L431.2,74.1 L432.4,73.5 L433.7,73.0 L434.9,72.5 L436.2,71.9 L437.5,71.5 L438.7,71.0 L440.0,70.5 L441.3,70.1 L442.5,69.7 L443.8,69.3 L445.0,68.9 L446.3,68.4 L447.6,68.0 L448.8,67.5 L450.1,66.9 L451.4,66.5 L452.6,66.0 L453.9,65.6 L455.2,65.3 L456.4,65.1 L457.7,65.0 L458.9,65.0 L460.2,65.0 L461.5,65.0 L462.7,65.0 L464.0,65.0 L465.3,65.0 L466.5,65.0 L467.8,65.0 L469.1,65.1 L470.3,65.1 L471.6,65.1 L472.8,65.2 L474.1,65.3 L475.4,65.3 L476.6,65.5 L477.9,65.6 L479.2,65.8 L480.4,66.1 L481.7,66.4 L482.9,66.7 L484.2,67.0 L485.5,67.4 L486.7,67.7 L488.0,68.1 L489.3,68.5 L490.5,68.8 L491.8,69.3 L493.1,69.8 L494.3,70.4 L495.6,71.0 L496.8,71.6 L498.1,72.3 L499.4,72.9 L500.6,73.6 L501.9,74.3 L503.2,74.9 L504.4,75.5 L505.7,76.2 L506.9,76.9 L508.2,77.6 L509.5,78.2 L510.7,78.8 L512.0,79.3 L513.3,79.8 L514.5,80.3 L515.8,80.8 L517.1,81.3 L518.3,81.7 L519.6,82.1 L520.8,82.4 L522.1,82.6 L523.4,82.9 L524.6,83.1 L525.9,83.2 L527.2,83.4 L528.4,83.5 L529.7,83.6 L530.9,83.6" stroke="#7F7F7F"/><path d="M378.1,87.5 L379.4,87.2 L380.6,86.9 L381.9,86.4 L383.2,85.9 L384.4,85.4 L385.7,84.9 L386.9,84.3 L388.2,83.7 L389.5,83.1 L390.7,82.5 L392.0,81.9 L393.3,81.2 L394.5,80.5 L395.8,79.8 L397.0,79.1 L398.3,78.3 L399.6,77.5 L400.8,76.7 L402.1,75.9 L403.4,75.1 L404.6,74.2 L405.9,73.3 L407.2,72.4 L408.4,71.4 L409.7,70.4 L410.9,69.4 L412.2,68.4 L413.5,67.4 L414.7,66.4 L416.0,65.5 L417.3,64.6 L418.5,63.8 L419.8,63.0 L421.0,62.2 L422.3,61.5 L423.6,60.7 L424.8,60.0 L426.1,59.3 L427.4,58.6 L428.6,58.0 L429.9,57.4 L431.2,56.8 L432.4,56.3 L433.7,55.7 L434.9,55.2 L436.2,54.7 L437.5,54.2 L438.7,53.8 L440.0,53.3 L441.3,52.8 L442.5,52.3 L443.8,51.8 L445.0,51.2 L446.3,50.6 L447.6,50.0 L448.8,49.4 L450.1,48.9 L451.4,48.4 L452.6,47.9 L453.9,47.5 L455.2,47.1 L456.4,46.8 L457.7,46.6 L458.9,46.5 L460.2,46.3 L461.5,46.2 L462.7,46.1 L464.0,45.9 L465.3,45.8 L466.5,45.7 L467.8,45.5 L469.1,45.4 L470.3,45.3 L471.6,45.2 L472.8,45.1 L474.1,45.0 L475.4,44.8 L476.6,44.7 L477.9,44.6 L479.2,44.4 L480.4,44.3 L481.7,44.3 L482.9,44.2 L484.2,44.2 L485.5,44.2 L486.7,44.2 L488.0,44.3 L489.3,44.4 L490.5,44.5 L491.8,44.7 L493.1,44.9 L494.3,45.3 L495.6,45.6 L496.8,46.0 L498.1,46.4 L499.4,46.8 L500.6,47.3 L501.9,47.6 L503.2,48.0 L504.4,48.5 L505.7,48.9 L506.9,49.4 L508.2,49.8 L509.5,50.2 L510.7,50.6 L512.0,50.8 L513.3,51.1 L514.5,51.4 L515.8,51.7 L517.1,51.9 L518.3,52.1 L519.6,52.3 L520.8,52.5 L522.1,52.6 L523.4,52.6 L524.6,52.5 L525.9,52.3 L527.2,52.0 L528.4,51.7 L529.7,51.3 L530.9,50.9" stroke="#CC9A00"/><path d="M378.1,99.0 L379.4,98.8 L380.6,98.5 L381.9,98.1 L383.2,97.7 L384.4,97.3 L385.7,96.9 L386.9,96.4 L388.2,95.9 L389.5,95.4 L390.7,94.9 L392.0,94.3 L393.3,93.7 L394.5,93.0 L395.8,92.3 L397.0,91.5 L398.3,90.7 L399.6,89.9 L400.8,89.1 L402.1,88.3 L403.4,87.4 L404.6,86.5 L405.9,85.6 L407.2,84.6 L408.4,83.6 L409.7,82.6 L410.9,81.5 L412.2,80.5 L413.5,79.5 L414.7,78.5 L416.0,77.5 L417.3,76.6 L418.5,75.8 L419.8,74.9 L421.0,74.1 L422.3,73.3 L423.6,72.5 L424.8,71.7 L426.1,70.9 L427.4,70.2 L428.6,69.6 L429.9,68.9 L431.2,68.3 L432.4,67.8 L433.7,67.2 L434.9,66.7 L436.2,66.2 L437.5,65.7 L438.7,65.2 L440.0,64.7 L441.3,64.3 L442.5,63.8 L443.8,63.3 L445.0,62.8 L446.3,62.3 L447.6,61.7 L448.8,61.1 L450.1,60.5 L451.4,60.0 L452.6,59.5 L453.9,59.1 L455.2,58.7 L456.4,58.4 L457.7,58.3 L458.9,58.2 L460.2,58.2 L461.5,58.1 L462.7,58.1 L464.0,58.1 L465.3,58.0 L466.5,58.0 L467.8,58.0 L469.1,58.0 L470.3,57.9 L471.6,57.9 L472.8,57.8 L474.1,57.7 L475.4,57.6 L476.6,57.5 L477.9,57.4 L479.2,57.4 L480.4,57.4 L481.7,57.5 L482.9,57.6 L484.2,57.8 L485.5,58.0 L486.7,58.2 L488.0,58.4 L489.3,58.6 L490.5,58.9 L491.8,59.2 L493.1,59.6 L494.3,60.0 L495.6,60.4 L496.8,60.9 L498.1,61.4 L499.4,61.9 L500.6,62.4 L501.9,62.9 L503.2,63.3 L504.4,63.8 L505.7,64.3 L506.9,64.9 L508.2,65.4 L509.5,65.8 L510.7,66.2 L512.0,66.6 L513.3,66.9 L514.5,67.3 L515.8,67.6 L517.1,67.9 L518.3,68.2 L519.6,68.5 L520.8,68.7 L522.1,68.8 L523.4,68.9 L524.6,69.0 L525.9,69.0 L527.2,69.0 L528.4,68.9 L529.7,68.7 L530.9,68.6" stroke="#F8CBAD"/><path d="M378.1,86.7 L379.4,86.4 L380.6,86.0 L381.9,85.6 L383.2,85.1 L384.4,84.6 L385.7,84.1 L386.9,83.5 L388.2,83.0 L389.5,82.4 L390.7,81.9 L392.0,81.3 L393.3,80.7 L394.5,80.1 L395.8,79.4 L397.0,78.7 L398.3,78.0 L399.6,77.3 L400.8,76.6 L402.1,75.8 L403.4,75.0 L404.6,74.2 L405.9,73.3 L407.2,72.4 L408.4,71.4 L409.7,70.4 L410.9,69.4 L412.2,68.4 L413.5,67.4 L414.7,66.4 L416.0,65.5 L417.3,64.6 L418.5,63.7 L419.8,62.9 L421.0,62.1 L422.3,61.3 L423.6,60.6 L424.8,59.8 L426.1,59.1 L427.4,58.4 L428.6,57.8 L429.9,57.2 L431.2,56.6 L432.4,56.0 L433.7,55.5 L434.9,54.9 L436.2,54.4 L437.5,53.9 L438.7,53.4 L440.0,53.0 L441.3,52.5 L442.5,52.0 L443.8,51.5 L445.0,51.0 L446.3,50.4 L447.6,49.8 L448.8,49.2 L450.1,48.7 L451.4,48.3 L452.6,47.8 L453.9,47.4 L455.2,47.1 L456.4,46.9 L457.7,46.7 L458.9,46.6 L460.2,46.5 L461.5,46.4 L462.7,46.3 L464.0,46.3 L465.3,46.2 L466.5,46.1 L467.8,46.1 L469.1,46.0 L470.3,46.0 L471.6,45.9 L472.8,45.9 L474.1,45.9 L475.4,45.9 L476.6,45.9 L477.9,46.0 L479.2,46.1 L480.4,46.1 L481.7,46.2 L482.9,46.3 L484.2,46.4 L485.5,46.5 L486.7,46.6 L488.0,46.7 L489.3,46.8 L490.5,47.0 L491.8,47.3 L493.1,47.6 L494.3,47.9 L495.6,48.3 L496.8,48.8 L498.1,49.2 L499.4,49.7 L500.6,50.2 L501.9,50.6 L503.2,51.1 L504.4,51.6 L505.7,52.2 L506.9,52.8 L508.2,53.4 L509.5,53.9 L510.7,54.4 L512.0,54.8 L513.3,55.2 L514.5,55.6 L515.8,55.9 L517.1,56.2 L518.3,56.5 L519.6,56.8 L520.8,57.0 L522.1,57.1 L523.4,57.2 L524.6,57.2 L525.9,57.0 L527.2,56.8 L528.4,56.6 L529.7,56.2 L530.9,55.9" stroke="#C9C9C9"/><path d="M378.1,106.7 L379.4,106.4 L380.6,106.2 L381.9,105.9 L383.2,105.6 L384.4,105.2 L385.7,104.9 L386.9,104.5 L388.2,104.1 L389.5,103.6 L390.7,103.2 L392.0,102.7 L393.3,102.1 L394.5,101.4 L395.8,100.7 L397.0,100.0 L398.3,99.2 L399.6,98.4 L400.8,97.5 L402.1,96.7 L403.4,95.8 L404.6,95.0 L405.9,94.0 L407.2,93.0 L408.4,92.0 L409.7,91.0 L410.9,90.0 L412.2,88.9 L413.5,87.9 L414.7,86.9 L416.0,85.9 L417.3,85.0 L418.5,84.1 L419.8,83.3 L421.0,82.4 L422.3,81.6 L423.6,80.8 L424.8,80.0 L426.1,79.2 L427.4,78.5 L428.6,77.8 L429.9,77.2 L431.2,76.6 L432.4,76.0 L433.7,75.5 L434.9,74.9 L436.2,74.4 L437.5,73.9 L438.7,73.4 L440.0,73.0 L441.3,72.5 L442.5,72.0 L443.8,71.6 L445.0,71.1 L446.3,70.6 L447.6,70.0 L448.8,69.4 L450.1,68.8 L451.4,68.3 L452.6,67.7 L453.9,67.3 L455.2,66.9 L456.4,66.6 L457.7,66.4 L458.9,66.3 L460.2,66.3 L461.5,66.2 L462.7,66.2 L464.0,66.1 L465.3,66.0 L466.5,66.0 L467.8,65.9 L469.1,65.9 L470.3,65.8 L471.6,65.8 L472.8,65.8 L474.1,65.7 L475.4,65.7 L476.6,65.7 L477.9,65.7 L479.2,65.8 L480.4,65.9 L481.7,66.1 L482.9,66.3 L484.2,66.5 L485.5,66.7 L486.7,66.9 L488.0,67.1 L489.3,67.3 L490.5,67.6 L491.8,67.9 L493.1,68.3 L494.3,68.7 L495.6,69.2 L496.8,69.7 L498.1,70.2 L499.4,70.8 L500.6,71.3 L501.9,71.9 L503.2,72.4 L504.4,72.9 L505.7,73.4 L506.9,74.0 L508.2,74.5 L509.5,74.9 L510.7,75.3 L512.0,75.6 L513.3,75.9 L514.5,76.2 L515.8,76.5 L517.1,76.8 L518.3,77.0 L519.6,77.3 L520.8,77.4 L522.1,77.6 L523.4,77.7 L524.6,77.8 L525.9,77.9 L527.2,77.9 L528.4,78.0 L529.7,77.9 L530.9,77.9" stroke="#F1975A"/><path d="M378.1,90.1 L379.4,89.8 L380.6,89.5 L381.9,89.1 L383.2,88.6 L384.4,88.1 L385.7,87.6 L386.9,87.0 L388.2,86.5 L389.5,85.9 L390.7,85.4 L392.0,84.8 L393.3,84.1 L394.5,83.5 L395.8,82.8 L397.0,82.0 L398.3,81.3 L399.6,80.5 L400.8,79.7 L402.1,79.0 L403.4,78.1 L404.6,77.3 L405.9,76.4 L407.2,75.5 L408.4,74.5 L409.7,73.5 L410.9,72.5 L412.2,71.5 L413.5,70.5 L414.7,69.6 L416.0,68.6 L417.3,67.8 L418.5,67.0 L419.8,66.2 L421.0,65.4 L422.3,64.6 L423.6,63.8 L424.8,63.1 L426.1,62.4 L427.4,61.7 L428.6,61.1 L429.9,60.5 L431.2,59.9 L432.4,59.4 L433.7,58.8 L434.9,58.3 L436.2,57.8 L437.5,57.4 L438.7,56.9 L440.0,56.5 L441.3,56.1 L442.5,55.6 L443.8,55.2 L445.0,54.8 L446.3,54.4 L447.6,53.9 L448.8,53.4 L450.1,53.1 L451.4,52.7 L452.6,52.5 L453.9,52.2 L455.2,52.0 L456.4,51.9 L457.7,51.8 L458.9,51.8 L460.2,51.9 L461.5,51.9 L462.7,51.9 L464.0,51.9 L465.3,52.0 L466.5,52.1 L467.8,52.3 L469.1,52.5 L470.3,52.9 L471.6,53.4 L472.8,53.9 L474.1,54.5 L475.4,55.1 L476.6,55.7 L477.9,56.3 L479.2,56.9 L480.4,57.5 L481.7,58.2 L482.9,58.9 L484.2,59.5 L485.5,60.0 L486.7,60.5 L488.0,61.1 L489.3,61.6 L490.5,62.1 L491.8,62.8 L493.1,63.5 L494.3,64.3 L495.6,65.0 L496.8,65.8 L498.1,66.6 L499.4,67.3 L500.6,68.1 L501.9,68.7 L503.2,69.4 L504.4,70.1 L505.7,70.8 L506.9,71.5 L508.2,72.2 L509.5,72.9 L510.7,73.5 L512.0,74.0 L513.3,74.6 L514.5,75.1 L515.8,75.6 L517.1,76.1 L518.3,76.6 L519.6,77.0 L520.8,77.3 L522.1,77.6 L523.4,77.8 L524.6,77.9 L525.9,78.0 L527.2,78.1 L528.4,78.1 L529.7,78.1 L530.9,78.0" stroke="#FFD966"/><path d="M378.1,91.8 L379.4,91.5 L380.6,91.2 L381.9,90.7 L383.2,90.3 L384.4,89.8 L385.7,89.3 L386.9,88.7 L388.2,88.1 L389.5,87.6 L390.7,87.0 L392.0,86.4 L393.3,85.7 L394.5,85.0 L395.8,84.3 L397.0,83.5 L398.3,82.7 L399.6,81.9 L400.8,81.1 L402.1,80.2 L403.4,79.4 L404.6,78.5 L405.9,77.6 L407.2,76.6 L408.4,75.6 L409.7,74.6 L410.9,73.6 L412.2,72.5 L413.5,71.5 L414.7,70.6 L416.0,69.6 L417.3,68.7 L418.5,67.9 L419.8,67.1 L421.0,66.2 L422.3,65.5 L423.6,64.7 L424.8,63.9 L426.1,63.2 L427.4,62.5 L428.6,61.9 L429.9,61.2 L431.2,60.7 L432.4,60.1 L433.7,59.6 L434.9,59.0 L436.2,58.5 L437.5,58.0 L438.7,57.5 L440.0,57.0 L441.3,56.5 L442.5,56.0 L443.8,55.5 L445.0,55.0 L446.3,54.4 L447.6,53.8 L448.8,53.1 L450.1,52.6 L451.4,52.0 L452.6,51.5 L453.9,51.1 L455.2,50.7 L456.4,50.4 L457.7,50.2 L458.9,50.1 L460.2,50.0 L461.5,49.9 L462.7,49.8 L464.0,49.7 L465.3,49.6 L466.5,49.5 L467.8,49.4 L469.1,49.3 L470.3,49.2 L471.6,49.1 L472.8,49.1 L474.1,49.0 L475.4,49.0 L476.6,49.0 L477.9,49.1 L479.2,49.2 L480.4,49.3 L481.7,49.5 L482.9,49.7 L484.2,50.0 L485.5,50.3 L486.7,50.6 L488.0,51.0 L489.3,51.4 L490.5,51.8 L491.8,52.3 L493.1,52.8 L494.3,53.3 L495.6,53.9 L496.8,54.5 L498.1,55.2 L499.4,55.8 L500.6,56.4 L501.9,57.0 L503.2,57.6 L504.4,58.2 L505.7,58.8 L506.9,59.4 L508.2,60.0 L509.5,60.5 L510.7,61.0 L512.0,61.4 L513.3,61.7 L514.5,62.1 L515.8,62.4 L517.1,62.7 L518.3,63.0 L519.6,63.3 L520.8,63.5 L522.1,63.6 L523.4,63.7 L524.6,63.7 L525.9,63.7 L527.2,63.6 L528.4,63.4 L529.7,63.2 L530.9,62.9" stroke="#F4B183"/><path d="M378.1,94.0 L379.4,93.7 L380.6,93.4 L381.9,93.0 L383.2,92.6 L384.4,92.2 L385.7,91.7 L386.9,91.2 L388.2,90.7 L389.5,90.2 L390.7,89.7 L392.0,89.1 L393.3,88.5 L394.5,87.8 L395.8,87.1 L397.0,86.4 L398.3,85.7 L399.6,84.9 L400.8,84.1 L402.1,83.3 L403.4,82.5 L404.6,81.6 L405.9,80.7 L407.2,79.7 L408.4,78.7 L409.7,77.7 L410.9,76.7 L412.2,75.6 L413.5,74.6 L414.7,73.6 L416.0,72.7 L417.3,71.8 L418.5,70.9 L419.8,70.1 L421.0,69.3 L422.3,68.4 L423.6,67.7 L424.8,66.9 L426.1,66.2 L427.4,65.5 L428.6,64.8 L429.9,64.1 L431.2,63.5 L432.4,63.0 L433.7,62.4 L434.9,61.9 L436.2,61.4 L437.5,60.9 L438.7,60.4 L440.0,59.9 L441.3,59.5 L442.5,59.0 L443.8,58.6 L445.0,58.1 L446.3,57.6 L447.6,57.1 L448.8,56.5 L450.1,56.0 L451.4,55.6 L452.6,55.2 L453.9,54.8 L455.2,54.6 L456.4,54.4 L457.7,54.4 L458.9,54.5 L460.2,54.6 L461.5,54.7 L462.7,54.9 L464.0,55.1 L465.3,55.4 L466.5,55.7 L467.8,56.0 L469.1,56.4 L470.3,56.8 L471.6,57.2 L472.8,57.6 L474.1,58.0 L475.4,58.4 L476.6,58.8 L477.9,59.3 L479.2,59.8 L480.4,60.3 L481.7,60.7 L482.9,61.2 L484.2,61.6 L485.5,62.1 L486.7,62.6 L488.0,63.1 L489.3,63.7 L490.5,64.2 L491.8,64.7 L493.1,65.3 L494.3,66.0 L495.6,66.6 L496.8,67.3 L498.1,67.9 L499.4,68.6 L500.6,69.3 L501.9,69.9 L503.2,70.6 L504.4,71.2 L505.7,72.0 L506.9,72.7 L508.2,73.4 L509.5,74.1 L510.7,74.8 L512.0,75.3 L513.3,75.9 L514.5,76.5 L515.8,77.0 L517.1,77.5 L518.3,78.0 L519.6,78.4 L520.8,78.8 L522.1,79.0 L523.4,79.3 L524.6,79.4 L525.9,79.6 L527.2,79.7 L528.4,79.8 L529.7,79.8 L530.9,79.8" stroke="#A5A5A5"/><path d="M378.1,81.5 L379.4,81.2 L380.6,80.8 L381.9,80.3 L383.2,79.8 L384.4,79.2 L385.7,78.6 L386.9,78.0 L388.2,77.3 L389.5,76.7 L390.7,76.1 L392.0,75.4 L393.3,74.8 L394.5,74.1 L395.8,73.4 L397.0,72.7 L398.3,71.9 L399.6,71.2 L400.8,70.4 L402.1,69.6 L403.4,68.8 L404.6,67.9 L405.9,67.0 L407.2,66.1 L408.4,65.1 L409.7,64.1 L410.9,63.1 L412.2,62.1 L413.5,61.2 L414.7,60.2 L416.0,59.3 L417.3,58.4 L418.5,57.6 L419.8,56.8 L421.0,56.1 L422.3,55.3 L423.6,54.6 L424.8,53.9 L426.1,53.2 L427.4,52.5 L428.6,51.9 L429.9,51.3 L431.2,50.7 L432.4,50.2 L433.7,49.7 L434.9,49.2 L436.2,48.7 L437.5,48.2 L438.7,47.7 L440.0,47.2 L441.3,46.6 L442.5,46.1 L443.8,45.5 L445.0,44.9 L446.3,44.2 L447.6,43.5 L448.8,42.8 L450.1,42.2 L451.4,41.6 L452.6,41.1 L453.9,40.6 L455.2,40.1 L456.4,39.8 L457.7,39.5 L458.9,39.3 L460.2,39.1 L461.5,38.9 L462.7,38.7 L464.0,38.5 L465.3,38.3 L466.5,38.2 L467.8,38.0 L469.1,37.9 L470.3,37.8 L471.6,37.8 L472.8,37.7 L474.1,37.7 L475.4,37.7 L476.6,37.7 L477.9,37.8 L479.2,37.9 L480.4,38.0 L481.7,38.1 L482.9,38.3 L484.2,38.4 L485.5,38.6 L486.7,38.8 L488.0,39.0 L489.3,39.2 L490.5,39.4 L491.8,39.6 L493.1,39.9 L494.3,40.3 L495.6,40.7 L496.8,41.1 L498.1,41.5 L499.4,42.0 L500.6,42.4 L501.9,42.8 L503.2,43.1 L504.4,43.6 L505.7,44.0 L506.9,44.5 L508.2,44.9 L509.5,45.3 L510.7,45.6 L512.0,45.9 L513.3,46.1 L514.5,46.4 L515.8,46.6 L517.1,46.8 L518.3,47.0 L519.6,47.2 L520.8,47.3 L522.1,47.3 L523.4,47.3 L524.6,47.2 L525.9,46.9 L527.2,46.6 L528.4,46.2 L529.7,45.7 L530.9,45.2" stroke="#FFC000"/><path d="M378.1,95.6 L379.4,95.3 L380.6,95.0 L381.9,94.7 L383.2,94.3 L384.4,93.8 L385.7,93.3 L386.9,92.9 L388.2,92.4 L389.5,91.8 L390.7,91.3 L392.0,90.8 L393.3,90.2 L394.5,89.5 L395.8,88.8 L397.0,88.1 L398.3,87.3 L399.6,86.5 L400.8,85.7 L402.1,84.9 L403.4,84.1 L404.6,83.3 L405.9,82.3 L407.2,81.4 L408.4,80.4 L409.7,79.4 L410.9,78.4 L412.2,77.4 L413.5,76.4 L414.7,75.4 L416.0,74.5 L417.3,73.6 L418.5,72.8 L419.8,71.9 L421.0,71.1 L422.3,70.3 L423.6,69.5 L424.8,68.8 L426.1,68.1 L427.4,67.4 L428.6,66.7 L429.9,66.1 L431.2,65.5 L432.4,65.0 L433.7,64.4 L434.9,63.9 L436.2,63.4 L437.5,62.9 L438.7,62.5 L440.0,62.0 L441.3,61.5 L442.5,61.0 L443.8,60.6 L445.0,60.1 L446.3,59.5 L447.6,58.9 L448.8,58.3 L450.1,57.8 L451.4,57.2 L452.6,56.7 L453.9,56.2 L455.2,55.8 L456.4,55.5 L457.7,55.3 L458.9,55.1 L460.2,54.9 L461.5,54.7 L462.7,54.5 L464.0,54.3 L465.3,54.1 L466.5,53.8 L467.8,53.6 L469.1,53.4 L470.3,53.2 L471.6,53.1 L472.8,52.9 L474.1,52.9 L475.4,52.8 L476.6,52.9 L477.9,53.1 L479.2,53.2 L480.4,53.5 L481.7,53.7 L482.9,54.0 L484.2,54.2 L485.5,54.5 L486.7,54.7 L488.0,55.0 L489.3,55.3 L490.5,55.6 L491.8,55.9 L493.1,56.4 L494.3,56.8 L495.6,57.4 L496.8,57.9 L498.1,58.5 L499.4,59.0 L500.6,59.6 L501.9,60.1 L503.2,60.6 L504.4,61.1 L505.7,61.6 L506.9,62.2 L508.2,62.7 L509.5,63.1 L510.7,63.5 L512.0,63.8 L513.3,64.1 L514.5,64.3 L515.8,64.6 L517.1,64.8 L518.3,65.0 L519.6,65.2 L520.8,65.3 L522.1,65.4 L523.4,65.5 L524.6,65.4 L525.9,65.4 L527.2,65.2 L528.4,65.0 L529.7,64.8 L530.9,64.6" stroke="#7CAFDD"/><path d="M378.1,104.7 L379.4,104.4 L380.6,104.1 L381.9,103.8 L383.2,103.5 L384.4,103.1 L385.7,102.6 L386.9,102.2 L388.2,101.7 L389.5,101.2 L390.7,100.7 L392.0,100.1 L393.3,99.4 L394.5,98.7 L395.8,98.0 L397.0,97.1 L398.3,96.3 L399.6,95.5 L400.8,94.6 L402.1,93.7 L403.4,92.8 L404.6,91.9 L405.9,91.0 L407.2,90.0 L408.4,89.0 L409.7,88.0 L410.9,87.0 L412.2,85.9 L413.5,84.9 L414.7,83.9 L416.0,83.0 L417.3,82.1 L418.5,81.3 L419.8,80.4 L421.0,79.6 L422.3,78.8 L423.6,78.0 L424.8,77.2 L426.1,76.5 L427.4,75.8 L428.6,75.1 L429.9,74.5 L431.2,73.9 L432.4,73.4 L433.7,72.9 L434.9,72.3 L436.2,71.9 L437.5,71.4 L438.7,70.9 L440.0,70.4 L441.3,69.9 L442.5,69.4 L443.8,68.9 L445.0,68.3 L446.3,67.7 L447.6,67.1 L448.8,66.5 L450.1,65.8 L451.4,65.2 L452.6,64.6 L453.9,64.0 L455.2,63.5 L456.4,63.1 L457.7,62.8 L458.9,62.6 L460.2,62.3 L461.5,62.1 L462.7,61.9 L464.0,61.7 L465.3,61.5 L466.5,61.3 L467.8,61.2 L469.1,61.1 L470.3,60.9 L471.6,60.8 L472.8,60.6 L474.1,60.3 L475.4,59.9 L476.6,59.5 L477.9,59.1 L479.2,58.6 L480.4,58.1 L481.7,57.7 L482.9,57.2 L484.2,57.0 L485.5,56.8 L486.7,56.7 L488.0,56.7 L489.3,56.6 L490.5,56.6 L491.8,56.5 L493.1,56.5 L494.3,56.6 L495.6,56.7 L496.8,56.9 L498.1,57.2 L499.4,57.4 L500.6,57.6 L501.9,57.7 L503.2,57.8 L504.4,57.9 L505.7,58.0 L506.9,58.1 L508.2,58.2 L509.5,58.4 L510.7,58.6 L512.0,58.7 L513.3,58.8 L514.5,59.0 L515.8,59.1 L517.1,59.2 L518.3,59.3 L519.6,59.4 L520.8,59.4 L522.1,59.5 L523.4,59.4 L524.6,59.4 L525.9,59.2 L527.2,59.0 L528.4,58.7 L529.7,58.4 L530.9,58.1" stroke="#2E75B6"/><path d="M378.1,98.2 L379.4,97.9 L380.6,97.6 L381.9,97.2 L383.2,96.8 L384.4,96.4 L385.7,95.9 L386.9,95.4 L388.2,94.9 L389.5,94.4 L390.7,93.9 L392.0,93.3 L393.3,92.6 L394.5,91.9 L395.8,91.2 L397.0,90.4 L398.3,89.6 L399.6,88.8 L400.8,88.0 L402.1,87.1 L403.4,86.2 L404.6,85.3 L405.9,84.4 L407.2,83.4 L408.4,82.4 L409.7,81.4 L410.9,80.4 L412.2,79.3 L413.5,78.3 L414.7,77.3 L416.0,76.4 L417.3,75.5 L418.5,74.6 L419.8,73.8 L421.0,73.0 L422.3,72.2 L423.6,71.4 L424.8,70.6 L426.1,69.9 L427.4,69.2 L428.6,68.5 L429.9,67.9 L431.2,67.3 L432.4,66.8 L433.7,66.2 L434.9,65.7 L436.2,65.2 L437.5,64.7 L438.7,64.2 L440.0,63.7 L441.3,63.2 L442.5,62.7 L443.8,62.2 L445.0,61.7 L446.3,61.1 L447.6,60.5 L448.8,59.8 L450.1,59.2 L451.4,58.6 L452.6,58.1 L453.9,57.6 L455.2,57.1 L456.4,56.8 L457.7,56.5 L458.9,56.3 L460.2,56.1 L461.5,55.9 L462.7,55.6 L464.0,55.3 L465.3,55.0 L466.5,54.6 L467.8,54.3 L469.1,53.9 L470.3,53.5 L471.6,53.2 L472.8,52.9 L474.1,52.7 L475.4,52.5 L476.6,52.4 L477.9,52.5 L479.2,52.5 L480.4,52.6 L481.7,52.7 L482.9,52.9 L484.2,53.0 L485.5,53.1 L486.7,53.2 L488.0,53.4 L489.3,53.5 L490.5,53.7 L491.8,54.0 L493.1,54.3 L494.3,54.7 L495.6,55.1 L496.8,55.6 L498.1,56.1 L499.4,56.5 L500.6,57.0 L501.9,57.4 L503.2,57.8 L504.4,58.2 L505.7,58.6 L506.9,59.0 L508.2,59.4 L509.5,59.7 L510.7,60.0 L512.0,60.3 L513.3,60.6 L514.5,60.8 L515.8,61.1 L517.1,61.4 L518.3,61.6 L519.6,61.8 L520.8,62.0 L522.1,62.1 L523.4,62.2 L524.6,62.2 L525.9,62.1 L527.2,62.0 L528.4,61.8 L529.7,61.6 L530.9,61.3" stroke="#4472C4"/><path d="M378.1,102.2 L379.4,102.0 L380.6,101.7 L381.9,101.4 L383.2,101.0 L384.4,100.6 L385.7,100.2 L386.9,99.8 L388.2,99.3 L389.5,98.8 L390.7,98.3 L392.0,97.8 L393.3,97.1 L394.5,96.5 L395.8,95.7 L397.0,94.9 L398.3,94.1 L399.6,93.3 L400.8,92.5 L402.1,91.6 L403.4,90.7 L404.6,89.8 L405.9,88.9 L407.2,87.9 L408.4,86.8 L409.7,85.8 L410.9,84.7 L412.2,83.7 L413.5,82.7 L414.7,81.7 L416.0,80.7 L417.3,79.8 L418.5,78.9 L419.8,78.0 L421.0,77.2 L422.3,76.3 L423.6,75.5 L424.8,74.7 L426.1,74.0 L427.4,73.3 L428.6,72.6 L429.9,71.9 L431.2,71.3 L432.4,70.8 L433.7,70.2 L434.9,69.7 L436.2,69.1 L437.5,68.6 L438.7,68.1 L440.0,67.6 L441.3,67.1 L442.5,66.6 L443.8,66.0 L445.0,65.4 L446.3,64.8 L447.6,64.2 L448.8,63.5 L450.1,62.8 L451.4,62.2 L452.6,61.6 L453.9,61.1 L455.2,60.6 L456.4,60.3 L457.7,60.1 L458.9,59.9 L460.2,59.7 L461.5,59.4 L462.7,59.2 L464.0,58.9 L465.3,58.5 L466.5,58.1 L467.8,57.7 L469.1,57.1 L470.3,56.6 L471.6,55.9 L472.8,55.2 L474.1,54.5 L475.4,53.8 L476.6,53.3 L477.9,52.9 L479.2,52.7 L480.4,52.4 L481.7,52.2 L482.9,52.0 L484.2,51.8 L485.5,51.7 L486.7,51.6 L488.0,51.5 L489.3,51.5 L490.5,51.5 L491.8,51.6 L493.1,51.8 L494.3,51.9 L495.6,52.1 L496.8,52.2 L498.1,52.3 L499.4,52.5 L500.6,52.7 L501.9,52.9 L503.2,53.0 L504.4,53.2 L505.7,53.4 L506.9,53.6 L508.2,53.8 L509.5,54.0 L510.7,54.1 L512.0,54.3 L513.3,54.4 L514.5,54.6 L515.8,54.7 L517.1,54.9 L518.3,55.0 L519.6,55.1 L520.8,55.2 L522.1,55.3 L523.4,55.3 L524.6,55.2 L525.9,55.1 L527.2,54.8 L528.4,54.5 L529.7,54.2 L530.9,53.8" stroke="#9DC3E6"/><path d="M378.1,83.1 L379.4,82.8 L380.6,82.5 L381.9,82.0 L383.2,81.5 L384.4,80.9 L385.7,80.3 L386.9,79.7 L388.2,79.1 L389.5,78.5 L390.7,77.9 L392.0,77.3 L393.3,76.6 L394.5,76.0 L395.8,75.3 L397.0,74.6 L398.3,73.8 L399.6,73.1 L400.8,72.3 L402.1,71.6 L403.4,70.8 L404.6,69.9 L405.9,69.0 L407.2,68.1 L408.4,67.1 L409.7,66.1 L410.9,65.1 L412.2,64.1 L413.5,63.2 L414.7,62.2 L416.0,61.3 L417.3,60.4 L418.5,59.6 L419.8,58.8 L421.0,58.0 L422.3,57.3 L423.6,56.5 L424.8,55.8 L426.1,55.1 L427.4,54.4 L428.6,53.8 L429.9,53.2 L431.2,52.6 L432.4,52.1 L433.7,51.5 L434.9,51.0 L436.2,50.5 L437.5,50.1 L438.7,49.6 L440.0,49.1 L441.3,48.6 L442.5,48.1 L443.8,47.6 L445.0,47.0 L446.3,46.5 L447.6,45.8 L448.8,45.2 L450.1,44.7 L451.4,44.2 L452.6,43.7 L453.9,43.3 L455.2,42.9 L456.4,42.6 L457.7,42.3 L458.9,42.1 L460.2,41.8 L461.5,41.6 L462.7,41.3 L464.0,41.0 L465.3,40.7 L466.5,40.5 L467.8,40.2 L469.1,40.0 L470.3,39.9 L471.6,39.8 L472.8,39.7 L474.1,39.6 L475.4,39.6 L476.6,39.7 L477.9,39.7 L479.2,39.8 L480.4,39.9 L481.7,39.9 L482.9,39.7 L484.2,39.4 L485.5,38.8 L486.7,38.0 L488.0,37.0 L489.3,36.2 L490.5,35.6 L491.8,35.6 L493.1,36.2 L494.3,37.3 L495.6,38.8 L496.8,40.4 L498.1,41.8 L499.4,43.1 L500.6,44.0 L501.9,44.7 L503.2,45.2 L504.4,45.7 L505.7,46.2 L506.9,46.7 L508.2,47.1 L509.5,47.5 L510.7,47.8 L512.0,48.1 L513.3,48.4 L514.5,48.6 L515.8,48.8 L517.1,49.1 L518.3,49.3 L519.6,49.4 L520.8,49.5 L522.1,49.6 L523.4,49.6 L524.6,49.5 L525.9,49.3 L527.2,49.0 L528.4,48.6 L529.7,48.1 L530.9,47.7" stroke="#5B9BD5"/><path d="M378.1,84.5 L379.4,84.2 L380.6,83.8 L381.9,83.4 L383.2,82.9 L384.4,82.4 L385.7,81.8 L386.9,81.3 L388.2,80.7 L389.5,80.2 L390.7,79.6 L392.0,79.0 L393.3,78.5 L394.5,77.8 L395.8,77.2 L397.0,76.5 L398.3,75.8 L399.6,75.1 L400.8,74.4 L402.1,73.6 L403.4,72.8 L404.6,72.0 L405.9,71.2 L407.2,70.2 L408.4,69.3 L409.7,68.3 L410.9,67.3 L412.2,66.3 L413.5,65.3 L414.7,64.3 L416.0,63.4 L417.3,62.5 L418.5,61.7 L419.8,60.9 L421.0,60.1 L422.3,59.3 L423.6,58.6 L424.8,57.8 L426.1,57.1 L427.4,56.4 L428.6,55.8 L429.9,55.2 L431.2,54.6 L432.4,54.0 L433.7,53.5 L434.9,52.9 L436.2,52.4 L437.5,51.9 L438.7,51.4 L440.0,50.9 L441.3,50.4 L442.5,49.9 L443.8,49.4 L445.0,48.8 L446.3,48.2 L447.6,47.6 L448.8,46.9 L450.1,46.4 L451.4,45.9 L452.6,45.4 L453.9,44.9 L455.2,44.5 L456.4,44.2 L457.7,43.9 L458.9,43.7 L460.2,43.5 L461.5,43.2 L462.7,42.9 L464.0,42.5 L465.3,42.2 L466.5,41.7 L467.8,41.3 L469.1,40.9 L470.3,40.5 L471.6,40.2 L472.8,40.0 L474.1,39.8 L475.4,39.7 L476.6,39.6 L477.9,39.5 L479.2,39.5 L480.4,39.5 L481.7,39.6 L482.9,39.7 L484.2,39.7 L485.5,39.8 L486.7,39.9 L488.0,40.1 L489.3,40.2 L490.5,40.3 L491.8,40.5 L493.1,40.7 L494.3,41.0 L495.6,41.3 L496.8,41.6 L498.1,41.9 L499.4,42.2 L500.6,42.5 L501.9,42.8 L503.2,43.1 L504.4,43.5 L505.7,43.8 L506.9,44.2 L508.2,44.5 L509.5,44.8 L510.7,45.1 L512.0,45.3 L513.3,45.5 L514.5,45.7 L515.8,45.8 L517.1,46.0 L518.3,46.1 L519.6,46.2 L520.8,46.3 L522.1,46.3 L523.4,46.3 L524.6,46.1 L525.9,45.8 L527.2,45.5 L528.4,45.0 L529.7,44.5 L530.9,44.0" stroke="#A9D18E"/><path d="M378.1,79.7 L379.4,79.4 L380.6,79.0 L381.9,78.5 L383.2,78.0 L384.4,77.4 L385.7,76.8 L386.9,76.2 L388.2,75.5 L389.5,74.9 L390.7,74.3 L392.0,73.7 L393.3,73.1 L394.5,72.4 L395.8,71.8 L397.0,71.1 L398.3,70.4 L399.6,69.7 L400.8,69.0 L402.1,68.3 L403.4,67.5 L404.6,66.7 L405.9,65.9 L407.2,65.0 L408.4,64.1 L409.7,63.1 L410.9,62.1 L412.2,61.1 L413.5,60.2 L414.7,59.3 L416.0,58.4 L417.3,57.5 L418.5,56.7 L419.8,56.0 L421.0,55.2 L422.3,54.5 L423.6,53.7 L424.8,53.0 L426.1,52.4 L427.4,51.7 L428.6,51.1 L429.9,50.5 L431.2,49.9 L432.4,49.4 L433.7,48.9 L434.9,48.4 L436.2,47.9 L437.5,47.4 L438.7,46.9 L440.0,46.5 L441.3,46.0 L442.5,45.5 L443.8,45.0 L445.0,44.5 L446.3,44.0 L447.6,43.4 L448.8,42.8 L450.1,42.4 L451.4,42.0 L452.6,41.6 L453.9,41.2 L455.2,41.0 L456.4,40.8 L457.7,40.6 L458.9,40.6 L460.2,40.5 L461.5,40.5 L462.7,40.5 L464.0,40.5 L465.3,40.6 L466.5,40.7 L467.8,40.8 L469.1,40.9 L470.3,41.1 L471.6,41.3 L472.8,41.5 L474.1,41.7 L475.4,41.9 L476.6,42.2 L477.9,42.4 L479.2,42.7 L480.4,42.9 L481.7,43.2 L482.9,43.6 L484.2,43.9 L485.5,44.3 L486.7,44.6 L488.0,45.0 L489.3,45.4 L490.5,45.8 L491.8,46.3 L493.1,46.8 L494.3,47.4 L495.6,48.1 L496.8,48.8 L498.1,49.5 L499.4,50.2 L500.6,50.9 L501.9,51.6 L503.2,52.3 L504.4,53.0 L505.7,53.8 L506.9,54.5 L508.2,55.2 L509.5,55.7 L510.7,56.0 L512.0,56.1 L513.3,56.0 L514.5,55.5 L515.8,54.9 L517.1,54.3 L518.3,53.8 L519.6,53.9 L520.8,54.5 L522.1,55.5 L523.4,56.6 L524.6,57.9 L525.9,62.2 L527.2,69.0 L528.4,76.0 L529.7,81.1 L530.9,82.3" stroke="#264478"/><path d="M378.1,91.6 L379.4,91.3 L380.6,91.0 L381.9,90.6 L383.2,90.2 L384.4,89.7 L385.7,89.2 L386.9,88.7 L388.2,88.2 L389.5,87.7 L390.7,87.2 L392.0,86.6 L393.3,86.1 L394.5,85.4 L395.8,84.8 L397.0,84.1 L398.3,83.4 L399.6,82.6 L400.8,81.9 L402.1,81.1 L403.4,80.3 L404.6,79.5 L405.9,78.6 L407.2,77.7 L408.4,76.7 L409.7,75.7 L410.9,74.7 L412.2,73.7 L413.5,72.7 L414.7,71.7 L416.0,70.8 L417.3,69.9 L418.5,69.1 L419.8,68.3 L421.0,67.5 L422.3,66.7 L423.6,65.9 L424.8,65.2 L426.1,64.4 L427.4,63.8 L428.6,63.1 L429.9,62.5 L431.2,61.9 L432.4,61.3 L433.7,60.8 L434.9,60.3 L436.2,59.8 L437.5,59.3 L438.7,58.8 L440.0,58.2 L441.3,57.7 L442.5,57.2 L443.8,56.6 L445.0,56.0 L446.3,55.4 L447.6,54.7 L448.8,53.9 L450.1,53.3 L451.4,52.6 L452.6,52.0 L453.9,51.4 L455.2,50.9 L456.4,50.5 L457.7,50.1 L458.9,49.9 L460.2,49.6 L461.5,49.4 L462.7,49.1 L464.0,48.8 L465.3,48.6 L466.5,48.4 L467.8,48.1 L469.1,48.0 L470.3,47.8 L471.6,47.7 L472.8,47.6 L474.1,47.6 L475.4,47.5 L476.6,47.6 L477.9,47.6 L479.2,47.7 L480.4,47.8 L481.7,47.9 L482.9,48.0 L484.2,48.1 L485.5,48.1 L486.7,48.1 L488.0,48.1 L489.3,48.1 L490.5,48.0 L491.8,48.0 L493.1,48.1 L494.3,48.3 L495.6,48.4 L496.8,48.6 L498.1,48.9 L499.4,49.1 L500.6,49.4 L501.9,49.6 L503.2,49.9 L504.4,50.3 L505.7,50.7 L506.9,51.1 L508.2,51.5 L509.5,51.9 L510.7,52.2 L512.0,52.5 L513.3,52.8 L514.5,53.0 L515.8,53.3 L517.1,53.5 L518.3,53.7 L519.6,53.9 L520.8,54.0 L522.1,54.1 L523.4,54.1 L524.6,54.0 L525.9,53.8 L527.2,53.5 L528.4,53.2 L529.7,52.8 L530.9,52.4" stroke="#255E91"/><path d="M378.1,94.6 L379.4,94.3 L380.6,94.0 L381.9,93.6 L383.2,93.2 L384.4,92.7 L385.7,92.2 L386.9,91.6 L388.2,91.1 L389.5,90.5 L390.7,89.9 L392.0,89.3 L393.3,88.6 L394.5,87.9 L395.8,87.2 L397.0,86.4 L398.3,85.6 L399.6,84.7 L400.8,83.9 L402.1,83.1 L403.4,82.2 L404.6,81.3 L405.9,80.4 L407.2,79.4 L408.4,78.4 L409.7,77.4 L410.9,76.4 L412.2,75.3 L413.5,74.3 L414.7,73.4 L416.0,72.4 L417.3,71.5 L418.5,70.7 L419.8,69.9 L421.0,69.1 L422.3,68.3 L423.6,67.5 L424.8,66.8 L426.1,66.1 L427.4,65.4 L428.6,64.7 L429.9,64.1 L431.2,63.5 L432.4,63.0 L433.7,62.4 L434.9,61.9 L436.2,61.4 L437.5,61.0 L438.7,60.5 L440.0,60.0 L441.3,59.6 L442.5,59.1 L443.8,58.6 L445.0,58.1 L446.3,57.6 L447.6,57.0 L448.8,56.4 L450.1,55.9 L451.4,55.4 L452.6,54.9 L453.9,54.5 L455.2,54.2 L456.4,53.9 L457.7,53.8 L458.9,53.7 L460.2,53.7 L461.5,53.6 L462.7,53.6 L464.0,53.6 L465.3,53.6 L466.5,53.7 L467.8,53.8 L469.1,53.9 L470.3,54.1 L471.6,54.3 L472.8,54.5 L474.1,54.8 L475.4,55.1 L476.6,55.4 L477.9,55.7 L479.2,56.0 L480.4,56.3 L481.7,56.7 L482.9,57.2 L484.2,57.7 L485.5,58.2 L486.7,58.6 L488.0,59.0 L489.3,59.4 L490.5,59.8 L491.8,60.2 L493.1,60.7 L494.3,61.3 L495.6,61.9 L496.8,62.5 L498.1,63.1 L499.4,63.8 L500.6,64.5 L501.9,65.1 L503.2,65.7 L504.4,66.4 L505.7,67.1 L506.9,67.8 L508.2,68.5 L509.5,69.1 L510.7,69.7 L512.0,70.2 L513.3,70.7 L514.5,71.1 L515.8,71.6 L517.1,72.0 L518.3,72.4 L519.6,72.7 L520.8,73.0 L522.1,73.2 L523.4,73.3 L524.6,73.4 L525.9,73.5 L527.2,73.5 L528.4,73.5 L529.7,73.4 L530.9,73.3" stroke="#ED7D31"/><path d="M378.1,107.6 L379.4,107.3 L380.6,107.1 L381.9,106.8 L383.2,106.4 L384.4,106.1 L385.7,105.7 L386.9,105.3 L388.2,104.8 L389.5,104.4 L390.7,103.9 L392.0,103.3 L393.3,102.6 L394.5,101.9 L395.8,101.1 L397.0,100.3 L398.3,99.4 L399.6,98.5 L400.8,97.6 L402.1,96.7 L403.4,95.8 L404.6,94.9 L405.9,93.9 L407.2,92.9 L408.4,91.8 L409.7,90.8 L410.9,89.7 L412.2,88.7 L413.5,87.7 L414.7,86.6 L416.0,85.7 L417.3,84.8 L418.5,83.9 L419.8,83.0 L421.0,82.1 L422.3,81.3 L423.6,80.5 L424.8,79.7 L426.1,78.9 L427.4,78.2 L428.6,77.5 L429.9,76.9 L431.2,76.3 L432.4,75.7 L433.7,75.2 L434.9,74.6 L436.2,74.1 L437.5,73.6 L438.7,73.2 L440.0,72.7 L441.3,72.3 L442.5,71.8 L443.8,71.4 L445.0,71.0 L446.3,70.5 L447.6,70.0 L448.8,69.5 L450.1,68.9 L451.4,68.4 L452.6,67.9 L453.9,67.5 L455.2,67.2 L456.4,66.9 L457.7,66.8 L458.9,66.8 L460.2,66.8 L461.5,66.8 L462.7,66.8 L464.0,66.9 L465.3,66.9 L466.5,66.9 L467.8,66.9 L469.1,67.0 L470.3,67.0 L471.6,67.0 L472.8,67.1 L474.1,67.1 L475.4,67.2 L476.6,67.3 L477.9,67.4 L479.2,67.6 L480.4,67.8 L481.7,68.0 L482.9,68.3 L484.2,68.6 L485.5,68.9 L486.7,69.2 L488.0,69.6 L489.3,69.9 L490.5,70.3 L491.8,70.7 L493.1,71.2 L494.3,71.8 L495.6,72.4 L496.8,73.0 L498.1,73.7 L499.4,74.4 L500.6,75.0 L501.9,75.7 L503.2,76.3 L504.4,77.0 L505.7,77.7 L506.9,78.4 L508.2,79.1 L509.5,79.7 L510.7,80.3 L512.0,80.8 L513.3,81.3 L514.5,81.8 L515.8,82.3 L517.1,82.8 L518.3,83.2 L519.6,83.5 L520.8,83.9 L522.1,84.1 L523.4,84.3 L524.6,84.5 L525.9,84.7 L527.2,84.9 L528.4,85.0 L529.7,85.1 L530.9,85.1" stroke="#70AD47"/><path d="M457.7,43.4 L458.9,42.8 L460.2,42.0 L461.5,41.0 L462.7,39.9 L464.0,38.8 L465.3,37.6 L466.5,36.6 L467.8,35.7 L469.1,35.1 L470.3,34.9 L471.6,35.0 L472.8,35.4 L474.1,36.0 L475.4,36.8 L476.6,37.7 L477.9,38.6 L479.2,39.4 L480.4,40.1 L481.7,40.7 L482.9,41.2 L484.2,41.6 L485.5,41.9 L486.7,42.1 L488.0,42.4 L489.3,42.6 L490.5,42.8" stroke="#43682B"/></g><g fill="none" stroke-width="2.4" stroke-linejoin="round"><path d="M141.9,321.9 L142.4,321.9 L142.9,321.9 L143.4,321.9 L143.9,321.8 L144.4,321.8 L144.9,321.6 L145.4,321.3 L145.9,320.9 L146.4,320.4 L146.9,319.8 L148.0,319.7 L148.5,319.2 L149.0,319.0 L149.5,319.0 L150.0,319.2 L150.5,319.6 L151.0,320.1 L151.5,320.7 L152.0,321.3 L152.5,322.0 L153.0,322.6 L153.5,323.2 L154.0,323.8 L154.5,324.2 L155.0,324.6 L155.5,324.8 L156.0,324.8 L156.5,324.7 L157.0,324.4 L157.5,324.1 L158.0,323.6 L158.5,323.2 L159.0,322.7 L159.5,322.3 L160.0,321.9 L160.5,321.6 L161.0,321.4 L161.5,321.2 L162.0,321.1 L162.5,321.1 L163.0,321.1 L163.5,321.1 L164.0,321.1 L164.5,321.1 L165.0,321.1 L165.5,321.1 L166.0,321.1 L166.5,321.2 L167.0,321.2 L167.5,321.2 L168.0,321.3 L168.5,321.3 L169.0,321.4 L169.5,321.4 L170.0,321.4 L170.5,321.5 L171.0,321.5 L171.5,321.6 L172.0,321.6 L172.5,321.7 L173.0,321.7 L173.5,321.8 L174.0,321.8 L174.5,321.9 L175.0,321.9 L175.5,322.0 L176.0,322.1 L176.5,322.2 L177.0,322.2 L177.5,322.3 L178.0,322.5 L178.5,322.6 L179.0,322.7 L179.5,322.8 L180.0,322.9 L180.5,323.0 L181.0,323.1 L181.5,323.2 L182.0,323.3 L182.5,323.3 L183.0,323.4 L183.5,323.4 L184.0,323.5 L184.5,323.5 L185.0,323.5 L185.5,323.5 L186.0,323.5 L186.5,323.5 L187.0,323.5 L187.5,323.5 L188.0,323.5 L188.5,323.4 L189.0,323.4 L189.5,323.4 L190.0,323.4 L190.5,323.4 L191.0,323.4 L191.5,323.4 L192.0,323.4 L192.5,323.3 L193.0,323.3 L193.5,323.3 L194.0,323.3 L194.5,323.3 L195.0,323.2 L195.5,323.2 L196.0,323.2 L196.5,323.2 L197.0,323.2 L197.5,323.1 L198.0,323.1 L198.5,323.1 L199.0,323.1 L199.5,323.0 L200.0,323.0 L200.5,323.0 L201.0,323.0 L201.5,323.0 L202.0,322.9 L202.5,322.9 L203.0,322.9 L203.5,322.9 L204.0,322.8 L204.5,322.8 L205.0,322.8 L205.5,322.7 L206.0,322.7 L206.5,322.6 L207.0,322.5 L207.5,322.4 L208.0,322.2 L208.5,322.0 L209.0,321.8 L209.5,321.5 L210.0,321.2 L210.5,320.9 L211.0,320.5 L211.5,320.1 L212.0,319.7 L212.5,319.3 L213.0,318.9 L213.5,318.4 L214.0,318.0 L214.5,317.5 L215.0,317.0 L215.5,316.6 L216.0,316.1 L216.5,315.7 L217.0,315.3 L217.5,314.9 L218.0,314.5 L218.5,314.2 L219.0,313.9 L219.5,313.7 L220.0,313.4 L220.5,313.2 L221.0,313.0 L221.5,312.8 L222.0,312.6 L222.5,312.4 L223.0,312.2 L223.5,312.1 L224.0,311.9 L224.5,311.7 L225.0,311.6 L225.5,311.4 L226.0,311.2 L226.5,311.1 L227.0,311.0 L227.5,310.8 L228.0,310.8 L228.5,310.7 L229.0,310.8 L229.5,310.9 L230.0,311.2 L230.5,311.5 L231.0,312.0 L231.5,312.6 L232.0,313.4 L232.5,314.3 L233.0,315.4 L233.5,316.6 L234.0,318.0 L234.5,319.5 L235.0,321.0 L235.5,322.5 L236.0,324.0 L236.5,325.5 L237.0,327.0 L237.5,328.3 L238.0,329.7 L238.5,330.9 L239.0,332.0 L239.5,333.1 L240.0,333.9 L240.5,334.7 L241.0,335.2 L241.5,335.5 L242.0,335.6 L242.5,335.5 L243.0,335.2 L243.5,334.8 L244.0,334.3 L244.5,333.7 L245.0,333.2 L245.5,332.6 L246.0,332.1 L246.5,331.6 L247.0,331.0 L247.5,330.5 L248.0,330.0 L248.5,329.5 L249.0,329.0 L249.5,328.5 L250.0,328.0 L250.5,327.6 L251.0,327.1 L251.5,326.6 L252.0,326.2 L252.5,325.8 L253.0,325.3 L253.5,324.9 L254.0,324.6 L254.5,324.3 L255.0,324.0 L255.5,323.8 L256.0,323.6 L256.5,323.5 L257.0,323.4 L257.5,323.3 L258.0,323.3 L258.5,323.2 L259.0,323.2 L259.5,323.1 L260.0,323.1 L260.5,323.0 L261.0,323.0 L261.5,322.9 L262.0,322.9 L262.5,322.8 L263.0,322.7 L263.5,322.7 L264.0,322.6 L264.5,322.6 L265.0,322.6 L265.5,322.5 L266.0,322.5 L266.5,322.4 L267.0,322.4 L267.5,322.3 L268.0,322.3 L268.5,322.3 L269.0,322.2 L269.5,322.2 L270.0,322.2 L270.5,322.1 L271.0,322.1 L271.5,322.1 L272.0,322.1 L272.5,322.1 L273.0,322.0 L273.5,322.0 L274.0,322.0 L274.5,322.0 L275.0,322.0 L275.5,322.0 L276.0,321.9 L276.5,321.9 L277.0,321.9 L277.5,321.8 L278.0,321.8 L278.5,321.7 L279.0,321.6 L279.5,321.5 L280.0,321.4 L280.5,321.2 L281.0,321.0 L281.5,320.8 L282.0,320.6 L282.5,320.3 L283.0,319.9 L283.5,319.4 L284.0,318.8 L284.5,318.1 L285.0,317.1 L285.5,316.0 L286.0,314.9 L286.5,313.6 L287.0,312.3 L287.5,311.0 L288.0,309.7 L288.5,308.5 L289.0,307.3 L289.5,306.1 L290.0,305.1 L290.5,304.3 L291.0,303.6 L291.5,303.2 L292.0,303.0 L292.5,303.0 L293.0,303.2 L293.5,303.6 L294.0,304.2 L294.5,304.8 L295.0,305.5 L295.5,306.2 L296.0,306.9 L296.5,307.6 L297.0,308.3 L297.5,309.0 L298.0,309.8 L298.5,310.5 L299.0,311.2 L299.5,312.0 L300.0,312.7 L300.5,313.4 L301.0,314.1 L301.5,314.8 L302.0,315.4 L302.5,316.1 L303.0,316.8 L303.5,317.4 L304.0,318.0 L304.5,318.6 L305.0,319.2 L305.5,319.7 L306.0,320.1 L306.5,320.5 L307.0,320.8 L307.5,321.0 L308.0,321.2 L308.5,321.4 L309.0,321.5 L309.5,321.5 L310.0,321.6 L310.5,321.5 L311.0,321.4 L311.5,321.3 L312.0,321.0 L312.5,320.6 L313.0,320.2 L313.5,319.7 L314.0,319.2 L314.5,318.7 L315.0,318.2 L315.5,317.8 L316.0,317.4 L316.5,317.2 L317.0,317.1 L317.5,317.1 L318.0,317.2 L318.5,317.5 L319.0,317.9 L319.5,318.4 L320.0,318.9 L320.5,319.5 L321.0,320.1 L321.5,320.8 L322.0,321.4 L322.5,322.1 L323.0,322.8 L323.5,323.5 L324.0,324.2 L324.5,325.0 L325.0,325.7 L325.5,326.4 L326.0,327.1 L326.5,327.8 L327.0,328.4 L327.5,328.9 L328.0,329.4 L328.5,329.7 L329.0,329.9 L329.5,330.0 L330.0,329.9 L330.5,329.8 L331.0,329.5 L331.5,329.1 L332.0,328.6 L332.5,328.1 L333.0,327.7 L333.5,327.2 L334.0,326.8 L334.5,326.5 L335.0,326.3 L335.5,326.1 L336.0,326.0 L336.5,325.9 L337.0,325.9 L337.5,325.8 L338.0,325.8 L338.5,325.7 L339.0,325.7 L339.5,325.7 L340.0,325.6 L340.5,325.6 L341.0,325.6 L341.5,325.5 L342.0,325.5 L342.5,325.5 L343.0,325.4 L343.5,325.4 L344.0,325.3 L344.5,325.2 L345.0,325.2 L345.5,325.1 L346.0,325.0 L346.5,324.9 L347.0,324.9 L347.5,324.8 L348.0,324.7 L348.5,324.6 L349.0,324.5 L349.5,324.4 L350.0,324.3 L350.5,324.2 L351.0,324.1 L351.5,324.0 L352.0,323.9 L352.5,323.7 L353.0,323.6 L353.5,323.5 L354.0,323.4 L354.5,323.3 L355.0,323.2 L355.5,323.0 L356.0,322.9 L356.5,322.8 L357.0,322.6 L357.5,322.5 L358.0,322.3 L358.5,322.1 L359.0,321.9 L359.5,321.8 L360.0,321.6 L360.5,321.4 L361.0,321.2 L361.5,321.0 L362.0,320.8 L362.5,320.6 L363.0,320.4 L363.5,320.2 L364.0,320.0 L364.5,319.8 L365.0,319.7 L365.5,319.6 L366.0,319.4 L366.5,319.3 L367.0,319.2 L367.5,319.2 L368.0,319.1 L368.5,319.1 L369.0,319.0 L369.5,319.0 L370.0,319.0 L370.5,319.0 L371.0,319.0 L371.5,319.0 L372.0,319.0 L372.5,319.0 L373.0,319.0 L373.5,319.0 L374.0,319.0 L374.5,319.0 L375.0,319.0 L375.5,319.0 L376.0,319.0 L376.5,319.0 L377.0,319.0 L377.5,319.0 L378.0,319.0 L378.5,318.9 L379.0,318.8 L379.5,318.7 L380.0,318.5 L380.5,318.2 L381.0,317.9 L381.5,317.6 L382.0,317.2 L382.5,316.8 L383.0,316.5 L383.5,316.1 L384.0,315.9 L384.5,315.6 L385.0,315.5 L385.5,315.3 L386.0,315.3 L386.5,315.2 L387.0,315.2 L387.5,315.2 L388.0,315.2 L388.5,315.2 L389.0,315.2 L389.5,315.2 L390.0,315.2 L390.5,315.2 L391.0,315.1 L391.5,315.0 L392.0,314.7 L392.5,314.4 L393.0,314.0 L393.5,313.0 L394.0,311.2 L394.5,308.9 L395.0,306.5 L395.5,303.8 L396.0,300.6 L396.5,296.9 L397.0,292.7 L397.5,287.0 L398.0,280.7 L398.5,274.5 L399.1,269.6 L399.7,265.0 L400.3,260.4 L400.9,256.8 L401.5,254.7 L402.1,254.7 L402.6,255.8 L403.1,257.8 L403.6,260.3 L404.1,263.2 L404.6,268.5 L405.1,276.3 L405.6,285.1 L406.1,293.6 L406.6,300.5 L407.1,305.2 L407.6,309.4 L408.1,315.5 L408.6,327.1 L409.1,339.2 L409.6,349.8 L410.1,360.3 L410.6,367.1" stroke="#A5A5A5"/><path d="M141.9,321.9 L142.4,321.9 L142.9,321.9 L143.4,321.9 L143.9,321.8 L144.4,321.8 L144.9,321.6 L145.4,321.4 L145.9,321.1 L146.4,320.8 L146.9,320.4 L147.7,321.0 L148.2,320.7 L148.7,320.4 L149.2,320.2 L149.7,320.2 L150.2,320.5 L150.7,320.9 L151.2,321.5 L151.7,322.3 L152.2,323.1 L152.7,323.9 L153.2,324.7 L153.7,325.4 L154.2,326.0 L154.7,326.4 L155.2,326.7 L155.7,326.7 L156.2,326.5 L156.7,326.1 L157.2,325.6 L157.7,325.0 L158.2,324.3 L158.7,323.7 L159.2,323.1 L159.7,322.6 L160.2,322.2 L160.7,321.9 L161.2,321.7 L161.7,321.6 L162.2,321.5 L162.7,321.5 L163.2,321.5 L163.7,321.5 L164.2,321.5 L164.7,321.5 L165.2,321.5 L165.7,321.5 L166.2,321.6 L166.7,321.6 L167.2,321.6 L167.7,321.7 L168.2,321.7 L168.7,321.8 L169.2,321.8 L169.7,321.8 L170.2,321.9 L170.7,321.9 L171.2,322.0 L171.7,322.0 L172.2,322.1 L172.7,322.1 L173.2,322.2 L173.7,322.2 L174.2,322.3 L174.7,322.3 L175.2,322.4 L175.7,322.5 L176.2,322.6 L176.7,322.6 L177.2,322.7 L177.7,322.9 L178.2,323.0 L178.7,323.1 L179.2,323.2 L179.7,323.3 L180.2,323.4 L180.7,323.5 L181.2,323.6 L181.7,323.7 L182.2,323.7 L182.7,323.8 L183.2,323.8 L183.7,323.9 L184.2,323.9 L184.7,323.9 L185.2,323.9 L185.7,323.9 L186.2,323.9 L186.7,323.9 L187.2,323.9 L187.7,323.9 L188.2,323.8 L188.7,323.8 L189.2,323.8 L189.7,323.8 L190.2,323.8 L190.7,323.8 L191.2,323.8 L191.7,323.8 L192.2,323.7 L192.7,323.7 L193.2,323.7 L193.7,323.7 L194.2,323.7 L194.7,323.6 L195.2,323.6 L195.7,323.6 L196.2,323.6 L196.7,323.6 L197.2,323.5 L197.7,323.5 L198.2,323.5 L198.7,323.5 L199.2,323.4 L199.7,323.4 L200.2,323.4 L200.7,323.4 L201.2,323.4 L201.7,323.3 L202.2,323.3 L202.7,323.3 L203.2,323.3 L203.7,323.2 L204.2,323.2 L204.7,323.2 L205.2,323.1 L205.7,323.1 L206.2,323.0 L206.7,322.9 L207.2,322.8 L207.7,322.6 L208.2,322.4 L208.7,322.2 L209.2,321.9 L209.7,321.6 L210.2,321.3 L210.7,320.9 L211.2,320.5 L211.7,320.1 L212.2,319.7 L212.7,319.3 L213.2,318.8 L213.7,318.4 L214.2,317.9 L214.7,317.4 L215.2,317.0 L215.7,316.5 L216.2,316.1 L216.7,315.7 L217.2,315.3 L217.7,314.9 L218.2,314.6 L218.7,314.3 L219.2,314.1 L219.7,313.8 L220.2,313.6 L220.7,313.4 L221.2,313.2 L221.7,313.0 L222.2,312.8 L222.7,312.6 L223.2,312.5 L223.7,312.3 L224.2,312.1 L224.7,312.0 L225.2,311.8 L225.7,311.6 L226.2,311.5 L226.7,311.4 L227.2,311.2 L227.7,311.2 L228.2,311.1 L228.7,311.2 L229.2,311.3 L229.7,311.6 L230.2,311.9 L230.7,312.4 L231.2,313.0 L231.7,313.8 L232.2,314.7 L232.7,315.8 L233.2,317.0 L233.7,318.4 L234.2,319.9 L234.7,321.4 L235.2,322.9 L235.7,324.4 L236.2,325.9 L236.7,327.4 L237.2,328.7 L237.7,330.1 L238.2,331.3 L238.7,332.4 L239.2,333.5 L239.7,334.3 L240.2,335.1 L240.7,335.6 L241.2,335.9 L241.7,336.0 L242.2,335.9 L242.7,335.6 L243.2,335.2 L243.7,334.7 L244.2,334.1 L244.7,333.6 L245.2,333.0 L245.7,332.5 L246.2,332.0 L246.7,331.4 L247.2,330.9 L247.7,330.4 L248.2,329.9 L248.7,329.4 L249.2,328.9 L249.7,328.4 L250.2,328.0 L250.7,327.5 L251.2,327.0 L251.7,326.6 L252.2,326.2 L252.7,325.7 L253.2,325.3 L253.7,325.0 L254.2,324.7 L254.7,324.4 L255.2,324.2 L255.7,324.0 L256.2,323.9 L256.7,323.8 L257.2,323.7 L257.7,323.7 L258.2,323.6 L258.7,323.6 L259.2,323.5 L259.7,323.5 L260.2,323.4 L260.7,323.4 L261.2,323.3 L261.7,323.3 L262.2,323.2 L262.7,323.1 L263.2,323.1 L263.7,323.0 L264.2,323.0 L264.7,323.0 L265.2,322.9 L265.7,322.9 L266.2,322.8 L266.7,322.8 L267.2,322.7 L267.7,322.7 L268.2,322.7 L268.7,322.6 L269.2,322.6 L269.7,322.6 L270.2,322.5 L270.7,322.5 L271.2,322.5 L271.7,322.5 L272.2,322.5 L272.7,322.4 L273.2,322.4 L273.7,322.4 L274.2,322.4 L274.7,322.4 L275.2,322.4 L275.7,322.3 L276.2,322.3 L276.7,322.3 L277.2,322.2 L277.7,322.2 L278.2,322.1 L278.7,322.0 L279.2,321.9 L279.7,321.8 L280.2,321.6 L280.7,321.4 L281.2,321.2 L281.7,321.0 L282.2,320.7 L282.7,320.3 L283.2,319.8 L283.7,319.2 L284.2,318.5 L284.7,317.6 L285.2,316.5 L285.7,315.3 L286.2,314.1 L286.7,312.9 L287.2,311.7 L287.7,310.6 L288.2,309.5 L288.7,308.4 L289.2,307.5 L289.7,306.7 L290.2,306.0 L290.7,305.4 L291.2,305.1 L291.7,304.9 L292.2,304.9 L292.7,305.0 L293.2,305.3 L293.7,305.6 L294.2,306.1 L294.7,306.6 L295.2,307.1 L295.7,307.7 L296.2,308.3 L296.7,308.9 L297.2,309.6 L297.7,310.2 L298.2,310.9 L298.7,311.7 L299.2,312.4 L299.7,313.1 L300.2,313.8 L300.7,314.5 L301.2,315.2 L301.7,315.8 L302.2,316.5 L302.7,317.2 L303.2,317.8 L303.7,318.4 L304.2,319.0 L304.7,319.6 L305.2,320.1 L305.7,320.5 L306.2,320.9 L306.7,321.2 L307.2,321.4 L307.7,321.6 L308.2,321.8 L308.7,321.9 L309.2,321.9 L309.7,322.0 L310.2,321.9 L310.7,321.8 L311.2,321.7 L311.7,321.4 L312.2,321.0 L312.7,320.6 L313.2,320.1 L313.7,319.6 L314.2,319.1 L314.7,318.6 L315.2,318.2 L315.7,317.8 L316.2,317.6 L316.7,317.5 L317.2,317.5 L317.7,317.6 L318.2,317.9 L318.7,318.3 L319.2,318.8 L319.7,319.3 L320.2,319.9 L320.7,320.5 L321.2,321.2 L321.7,321.8 L322.2,322.5 L322.7,323.2 L323.2,323.9 L323.7,324.6 L324.2,325.4 L324.7,326.1 L325.2,326.8 L325.7,327.5 L326.2,328.2 L326.7,328.8 L327.2,329.3 L327.7,329.8 L328.2,330.1 L328.7,330.3 L329.2,330.4 L329.7,330.3 L330.2,330.2 L330.7,329.9 L331.2,329.5 L331.7,329.0 L332.2,328.5 L332.7,328.1 L333.2,327.6 L333.7,327.2 L334.2,326.9 L334.7,326.7 L335.2,326.5 L335.7,326.4 L336.2,326.3 L336.7,326.3 L337.2,326.2 L337.7,326.2 L338.2,326.1 L338.7,326.1 L339.2,326.1 L339.7,326.0 L340.2,326.0 L340.7,326.0 L341.2,325.9 L341.7,325.9 L342.2,325.9 L342.7,325.8 L343.2,325.8 L343.7,325.7 L344.2,325.6 L344.7,325.6 L345.2,325.5 L345.7,325.4 L346.2,325.3 L346.7,325.3 L347.2,325.2 L347.7,325.1 L348.2,325.0 L348.7,324.9 L349.2,324.8 L349.7,324.7 L350.2,324.6 L350.7,324.5 L351.2,324.4 L351.7,324.3 L352.2,324.1 L352.7,324.0 L353.2,323.9 L353.7,323.8 L354.2,323.7 L354.7,323.6 L355.2,323.4 L355.7,323.3 L356.2,323.2 L356.7,323.0 L357.2,322.9 L357.7,322.7 L358.2,322.5 L358.7,322.3 L359.2,322.2 L359.7,322.0 L360.2,321.8 L360.7,321.6 L361.2,321.4 L361.7,321.2 L362.2,321.0 L362.7,320.8 L363.2,320.6 L363.7,320.4 L364.2,320.2 L364.7,320.1 L365.2,320.0 L365.7,319.8 L366.2,319.7 L366.7,319.6 L367.2,319.6 L367.7,319.5 L368.2,319.5 L368.7,319.4 L369.2,319.4 L369.7,319.4 L370.2,319.4 L370.7,319.4 L371.2,319.4 L371.7,319.4 L372.2,319.4 L372.7,319.4 L373.2,319.4 L373.7,319.4 L374.2,319.4 L374.7,319.4 L375.2,319.4 L375.7,319.4 L376.2,319.4 L376.7,319.4 L377.2,319.4 L377.7,319.4 L378.2,319.3 L378.7,319.2 L379.2,319.1 L379.7,318.9 L380.2,318.6 L380.7,318.3 L381.2,318.0 L381.7,317.6 L382.2,317.2 L382.7,316.9 L383.2,316.5 L383.7,316.3 L384.2,316.0 L384.7,315.9 L385.2,315.7 L385.7,315.7 L386.2,315.6 L386.7,315.6 L387.2,315.6 L387.7,315.6 L388.2,315.6 L388.7,315.6 L389.2,315.6 L389.7,315.6 L390.2,315.6 L390.7,315.5 L391.2,315.4 L391.7,315.1 L392.2,314.8 L392.7,314.4 L393.2,313.4 L393.7,311.6 L394.2,309.3 L394.7,306.9 L395.2,304.2 L395.7,301.0 L396.2,297.3 L396.7,293.0 L397.2,287.3 L397.7,280.8 L398.2,274.5 L398.9,269.2 L399.6,264.2 L400.4,259.3 L401.1,255.3 L401.8,253.1 L402.6,253.1 L403.1,254.5 L403.6,256.7 L404.1,259.6 L404.6,262.8 L405.1,268.5 L405.6,276.4 L406.1,285.4 L406.6,294.0 L407.1,300.9 L407.6,305.5 L408.1,309.7 L408.6,315.5 L409.1,326.2 L409.6,336.3 L410.1,343.4 L410.6,349.8 L411.1,353.8" stroke="#A9D18E"/><path d="M141.9,321.9 L142.4,321.9 L142.9,321.9 L143.4,321.9 L143.9,321.8 L144.4,321.8 L144.9,321.6 L145.4,321.2 L145.9,320.7 L146.4,320.0 L146.9,319.1 L147.0,319.0 L147.5,318.4 L148.0,318.2 L148.5,318.3 L149.0,318.7 L149.5,319.2 L150.0,319.7 L150.5,320.2 L151.0,320.6 L151.5,321.0 L152.0,321.4 L152.5,321.7 L153.0,321.9 L153.5,322.2 L154.0,322.3 L154.5,322.5 L155.0,322.5 L155.5,322.5 L156.0,322.5 L156.5,322.4 L157.0,322.3 L157.5,322.1 L158.0,321.9 L158.5,321.7 L159.0,321.6 L159.5,321.5 L160.0,321.3 L160.5,321.3 L161.0,321.2 L161.5,321.2 L162.0,321.2 L162.5,321.2 L163.0,321.3 L163.5,321.3 L164.0,321.3 L164.5,321.3 L165.0,321.3 L165.5,321.4 L166.0,321.4 L166.5,321.4 L167.0,321.5 L167.5,321.5 L168.0,321.6 L168.5,321.6 L169.0,321.6 L169.5,321.7 L170.0,321.7 L170.5,321.8 L171.0,321.8 L171.5,321.9 L172.0,321.9 L172.5,322.0 L173.0,322.0 L173.5,322.1 L174.0,322.1 L174.5,322.2 L175.0,322.3 L175.5,322.4 L176.0,322.4 L176.5,322.5 L177.0,322.7 L177.5,322.8 L178.0,322.9 L178.5,323.0 L179.0,323.1 L179.5,323.2 L180.0,323.3 L180.5,323.4 L181.0,323.5 L181.5,323.5 L182.0,323.6 L182.5,323.6 L183.0,323.7 L183.5,323.7 L184.0,323.7 L184.5,323.7 L185.0,323.7 L185.5,323.7 L186.0,323.7 L186.5,323.7 L187.0,323.7 L187.5,323.6 L188.0,323.6 L188.5,323.6 L189.0,323.6 L189.5,323.6 L190.0,323.6 L190.5,323.6 L191.0,323.6 L191.5,323.5 L192.0,323.5 L192.5,323.5 L193.0,323.5 L193.5,323.5 L194.0,323.4 L194.5,323.4 L195.0,323.4 L195.5,323.4 L196.0,323.4 L196.5,323.3 L197.0,323.3 L197.5,323.3 L198.0,323.3 L198.5,323.2 L199.0,323.2 L199.5,323.2 L200.0,323.2 L200.5,323.2 L201.0,323.1 L201.5,323.1 L202.0,323.1 L202.5,323.1 L203.0,323.0 L203.5,323.0 L204.0,323.0 L204.5,322.9 L205.0,322.9 L205.5,322.8 L206.0,322.7 L206.5,322.6 L207.0,322.4 L207.5,322.2 L208.0,322.0 L208.5,321.7 L209.0,321.4 L209.5,321.1 L210.0,320.7 L210.5,320.3 L211.0,319.9 L211.5,319.5 L212.0,319.1 L212.5,318.6 L213.0,318.2 L213.5,317.7 L214.0,317.2 L214.5,316.8 L215.0,316.3 L215.5,315.9 L216.0,315.5 L216.5,315.1 L217.0,314.7 L217.5,314.4 L218.0,314.1 L218.5,313.9 L219.0,313.6 L219.5,313.4 L220.0,313.2 L220.5,313.0 L221.0,312.8 L221.5,312.6 L222.0,312.4 L222.5,312.3 L223.0,312.1 L223.5,311.9 L224.0,311.8 L224.5,311.6 L225.0,311.4 L225.5,311.3 L226.0,311.2 L226.5,311.0 L227.0,311.0 L227.5,310.9 L228.0,311.0 L228.5,311.1 L229.0,311.4 L229.5,311.7 L230.0,312.2 L230.5,312.8 L231.0,313.6 L231.5,314.5 L232.0,315.6 L232.5,316.8 L233.0,318.2 L233.5,319.7 L234.0,321.2 L234.5,322.7 L235.0,324.2 L235.5,325.7 L236.0,327.2 L236.5,328.5 L237.0,329.9 L237.5,331.1 L238.0,332.2 L238.5,333.3 L239.0,334.1 L239.5,334.9 L240.0,335.4 L240.5,335.7 L241.0,335.8 L241.5,335.7 L242.0,335.4 L242.5,335.0 L243.0,334.5 L243.5,333.9 L244.0,333.4 L244.5,332.8 L245.0,332.3 L245.5,331.8 L246.0,331.2 L246.5,330.7 L247.0,330.2 L247.5,329.7 L248.0,329.2 L248.5,328.7 L249.0,328.2 L249.5,327.8 L250.0,327.3 L250.5,326.8 L251.0,326.4 L251.5,326.0 L252.0,325.5 L252.5,325.1 L253.0,324.8 L253.5,324.5 L254.0,324.2 L254.5,324.0 L255.0,323.8 L255.5,323.7 L256.0,323.6 L256.5,323.5 L257.0,323.5 L257.5,323.4 L258.0,323.4 L258.5,323.3 L259.0,323.3 L259.5,323.2 L260.0,323.2 L260.5,323.1 L261.0,323.1 L261.5,323.0 L262.0,322.9 L262.5,322.9 L263.0,322.8 L263.5,322.8 L264.0,322.8 L264.5,322.7 L265.0,322.7 L265.5,322.6 L266.0,322.6 L266.5,322.5 L267.0,322.5 L267.5,322.5 L268.0,322.4 L268.5,322.4 L269.0,322.4 L269.5,322.3 L270.0,322.3 L270.5,322.3 L271.0,322.3 L271.5,322.3 L272.0,322.2 L272.5,322.2 L273.0,322.2 L273.5,322.2 L274.0,322.2 L274.5,322.2 L275.0,322.1 L275.5,322.1 L276.0,322.1 L276.5,322.0 L277.0,322.0 L277.5,321.9 L278.0,321.8 L278.5,321.7 L279.0,321.6 L279.5,321.4 L280.0,321.2 L280.5,321.0 L281.0,320.8 L281.5,320.5 L282.0,320.1 L282.5,319.6 L283.0,319.0 L283.5,318.2 L284.0,317.3 L284.5,316.2 L285.0,314.9 L285.5,313.6 L286.0,312.1 L286.5,310.7 L287.0,309.2 L287.5,307.7 L288.0,306.2 L288.5,304.8 L289.0,303.5 L289.5,302.3 L290.0,301.5 L290.5,300.9 L291.0,300.7 L291.5,300.8 L292.0,301.2 L292.5,301.8 L293.0,302.6 L293.5,303.5 L294.0,304.5 L294.5,305.5 L295.0,306.4 L295.5,307.3 L296.0,308.2 L296.5,309.0 L297.0,309.8 L297.5,310.6 L298.0,311.4 L298.5,312.1 L299.0,312.9 L299.5,313.6 L300.0,314.3 L300.5,315.0 L301.0,315.6 L301.5,316.3 L302.0,317.0 L302.5,317.6 L303.0,318.2 L303.5,318.8 L304.0,319.4 L304.5,319.9 L305.0,320.3 L305.5,320.7 L306.0,321.0 L306.5,321.2 L307.0,321.4 L307.5,321.6 L308.0,321.7 L308.5,321.7 L309.0,321.8 L309.5,321.7 L310.0,321.6 L310.5,321.5 L311.0,321.2 L311.5,320.8 L312.0,320.4 L312.5,319.9 L313.0,319.4 L313.5,318.9 L314.0,318.4 L314.5,318.0 L315.0,317.6 L315.5,317.4 L316.0,317.3 L316.5,317.3 L317.0,317.4 L317.5,317.7 L318.0,318.1 L318.5,318.6 L319.0,319.1 L319.5,319.7 L320.0,320.3 L320.5,321.0 L321.0,321.6 L321.5,322.3 L322.0,323.0 L322.5,323.7 L323.0,324.4 L323.5,325.2 L324.0,325.9 L324.5,326.6 L325.0,327.3 L325.5,328.0 L326.0,328.6 L326.5,329.1 L327.0,329.6 L327.5,329.9 L328.0,330.1 L328.5,330.2 L329.0,330.1 L329.5,330.0 L330.0,329.7 L330.5,329.3 L331.0,328.8 L331.5,328.3 L332.0,327.9 L332.5,327.4 L333.0,327.0 L333.5,326.7 L334.0,326.5 L334.5,326.3 L335.0,326.2 L335.5,326.1 L336.0,326.1 L336.5,326.0 L337.0,326.0 L337.5,325.9 L338.0,325.9 L338.5,325.9 L339.0,325.8 L339.5,325.8 L340.0,325.8 L340.5,325.7 L341.0,325.7 L341.5,325.7 L342.0,325.6 L342.5,325.6 L343.0,325.5 L343.5,325.4 L344.0,325.4 L344.5,325.3 L345.0,325.2 L345.5,325.1 L346.0,325.1 L346.5,325.0 L347.0,324.9 L347.5,324.8 L348.0,324.7 L348.5,324.6 L349.0,324.5 L349.5,324.4 L350.0,324.3 L350.5,324.2 L351.0,324.1 L351.5,323.9 L352.0,323.8 L352.5,323.7 L353.0,323.6 L353.5,323.5 L354.0,323.4 L354.5,323.2 L355.0,323.1 L355.5,323.0 L356.0,322.8 L356.5,322.7 L357.0,322.5 L357.5,322.3 L358.0,322.1 L358.5,322.0 L359.0,321.8 L359.5,321.6 L360.0,321.4 L360.5,321.2 L361.0,321.0 L361.5,320.8 L362.0,320.6 L362.5,320.4 L363.0,320.2 L363.5,320.0 L364.0,319.9 L364.5,319.8 L365.0,319.6 L365.5,319.5 L366.0,319.4 L366.5,319.4 L367.0,319.3 L367.5,319.3 L368.0,319.2 L368.5,319.2 L369.0,319.2 L369.5,319.2 L370.0,319.2 L370.5,319.2 L371.0,319.2 L371.5,319.2 L372.0,319.2 L372.5,319.2 L373.0,319.2 L373.5,319.2 L374.0,319.2 L374.5,319.2 L375.0,319.2 L375.5,319.2 L376.0,319.2 L376.5,319.2 L377.0,319.2 L377.5,319.1 L378.0,319.0 L378.5,318.9 L379.0,318.7 L379.5,318.4 L380.0,318.1 L380.5,317.8 L381.0,317.4 L381.5,317.0 L382.0,316.7 L382.5,316.3 L383.0,316.1 L383.5,315.8 L384.0,315.7 L384.5,315.5 L385.0,315.5 L385.5,315.4 L386.0,315.4 L386.5,315.4 L387.0,315.4 L387.5,315.4 L388.0,315.4 L388.5,315.4 L389.0,315.4 L389.5,315.4 L390.0,315.3 L390.5,315.2 L391.0,314.9 L391.5,314.6 L392.0,314.2 L392.5,313.2 L393.0,311.4 L393.5,309.1 L394.0,306.7 L394.5,304.0 L395.0,300.7 L395.5,297.0 L396.0,292.6 L396.5,286.6 L397.0,279.6 L397.5,272.6 L398.0,266.3 L398.4,260.0 L398.9,253.8 L399.3,248.8 L399.8,246.0 L400.2,246.1 L400.7,248.1 L401.2,251.5 L401.7,255.7 L402.2,260.2 L402.7,266.7 L403.2,275.4 L403.7,284.8 L404.2,293.6 L404.7,300.6 L405.2,305.3 L405.7,309.5 L406.2,315.3 L406.7,326.0 L407.2,336.1 L407.7,343.2 L408.2,349.6 L408.7,353.6" stroke="#ED7D31"/><path d="M141.9,321.9 L142.4,321.9 L142.9,321.9 L143.4,321.9 L143.9,321.8 L144.4,321.7 L144.9,321.5 L145.4,321.1 L145.9,320.5 L146.4,319.5 L146.9,318.4 L147.6,316.5 L148.1,315.7 L148.6,315.5 L149.1,315.7 L149.6,316.2 L150.1,316.8 L150.6,317.2 L151.1,317.5 L151.6,317.6 L152.1,317.6 L152.6,317.4 L153.1,317.3 L153.6,317.1 L154.1,316.9 L154.6,316.8 L155.1,316.9 L155.6,317.0 L156.1,317.2 L156.6,317.5 L157.1,317.8 L157.6,318.1 L158.1,318.5 L158.6,318.7 L159.1,319.0 L159.6,319.1 L160.1,319.3 L160.6,319.4 L161.1,319.4 L161.6,319.5 L162.1,319.5 L162.6,319.6 L163.1,319.6 L163.6,319.6 L164.1,319.7 L164.6,319.7 L165.1,319.7 L165.6,319.7 L166.1,319.8 L166.6,319.8 L167.1,319.8 L167.6,319.9 L168.1,319.9 L168.6,320.0 L169.1,320.0 L169.6,320.0 L170.1,320.1 L170.6,320.1 L171.1,320.2 L171.6,320.2 L172.1,320.3 L172.6,320.3 L173.1,320.4 L173.6,320.4 L174.1,320.5 L174.6,320.5 L175.1,320.6 L175.6,320.7 L176.1,320.8 L176.6,320.8 L177.1,320.9 L177.6,321.1 L178.1,321.2 L178.6,321.3 L179.1,321.4 L179.6,321.5 L180.1,321.6 L180.6,321.7 L181.1,321.8 L181.6,321.9 L182.1,321.9 L182.6,322.0 L183.1,322.0 L183.6,322.1 L184.1,322.1 L184.6,322.1 L185.1,322.1 L185.6,322.1 L186.1,322.1 L186.6,322.1 L187.1,322.1 L187.6,322.1 L188.1,322.0 L188.6,322.0 L189.1,322.0 L189.6,322.0 L190.1,322.0 L190.6,322.0 L191.1,322.0 L191.6,322.0 L192.1,321.9 L192.6,321.9 L193.1,321.9 L193.6,321.9 L194.1,321.9 L194.6,321.8 L195.1,321.8 L195.6,321.8 L196.1,321.8 L196.6,321.8 L197.1,321.7 L197.6,321.7 L198.1,321.7 L198.6,321.7 L199.1,321.6 L199.6,321.6 L200.1,321.6 L200.6,321.6 L201.1,321.6 L201.6,321.5 L202.1,321.5 L202.6,321.5 L203.1,321.5 L203.6,321.4 L204.1,321.4 L204.6,321.4 L205.1,321.3 L205.6,321.3 L206.1,321.2 L206.6,321.1 L207.1,321.0 L207.6,320.8 L208.1,320.6 L208.6,320.4 L209.1,320.1 L209.6,319.8 L210.1,319.5 L210.6,319.1 L211.1,318.7 L211.6,318.3 L212.1,317.9 L212.6,317.5 L213.1,317.0 L213.6,316.6 L214.1,316.1 L214.6,315.6 L215.1,315.2 L215.6,314.7 L216.1,314.3 L216.6,313.9 L217.1,313.5 L217.6,313.1 L218.1,312.8 L218.6,312.5 L219.1,312.3 L219.6,312.0 L220.1,311.8 L220.6,311.6 L221.1,311.4 L221.6,311.2 L222.1,311.0 L222.6,310.8 L223.1,310.7 L223.6,310.5 L224.1,310.3 L224.6,310.2 L225.1,310.0 L225.6,309.8 L226.1,309.7 L226.6,309.6 L227.1,309.4 L227.6,309.4 L228.1,309.3 L228.6,309.4 L229.1,309.5 L229.6,309.8 L230.1,310.1 L230.6,310.6 L231.1,311.2 L231.6,312.0 L232.1,312.9 L232.6,314.0 L233.1,315.2 L233.6,316.6 L234.1,318.1 L234.6,319.6 L235.1,321.1 L235.6,322.6 L236.1,324.1 L236.6,325.6 L237.1,326.9 L237.6,328.3 L238.1,329.5 L238.6,330.6 L239.1,331.7 L239.6,332.5 L240.1,333.3 L240.6,333.8 L241.1,334.1 L241.6,334.2 L242.1,334.1 L242.6,333.8 L243.1,333.4 L243.6,332.9 L244.1,332.3 L244.6,331.8 L245.1,331.2 L245.6,330.7 L246.1,330.2 L246.6,329.6 L247.1,329.1 L247.6,328.6 L248.1,328.1 L248.6,327.6 L249.1,327.1 L249.6,326.6 L250.1,326.2 L250.6,325.7 L251.1,325.2 L251.6,324.8 L252.1,324.4 L252.6,323.9 L253.1,323.5 L253.6,323.2 L254.1,322.9 L254.6,322.6 L255.1,322.4 L255.6,322.2 L256.1,322.1 L256.6,322.0 L257.1,321.9 L257.6,321.9 L258.1,321.8 L258.6,321.8 L259.1,321.7 L259.6,321.7 L260.1,321.6 L260.6,321.6 L261.1,321.5 L261.6,321.5 L262.1,321.4 L262.6,321.3 L263.1,321.3 L263.6,321.2 L264.1,321.2 L264.6,321.2 L265.1,321.1 L265.6,321.1 L266.1,321.0 L266.6,321.0 L267.1,320.9 L267.6,320.9 L268.1,320.9 L268.6,320.8 L269.1,320.8 L269.6,320.8 L270.1,320.7 L270.6,320.7 L271.1,320.7 L271.6,320.7 L272.1,320.7 L272.6,320.6 L273.1,320.6 L273.6,320.6 L274.1,320.6 L274.6,320.6 L275.1,320.6 L275.6,320.5 L276.1,320.5 L276.6,320.5 L277.1,320.4 L277.6,320.4 L278.1,320.3 L278.6,320.2 L279.1,320.1 L279.6,320.0 L280.1,319.8 L280.6,319.6 L281.1,319.4 L281.6,319.2 L282.1,318.9 L282.6,318.5 L283.1,318.0 L283.6,317.4 L284.1,316.6 L284.6,315.7 L285.1,314.6 L285.6,313.3 L286.1,312.0 L286.6,310.6 L287.1,309.2 L287.6,307.7 L288.1,306.3 L288.6,304.8 L289.1,303.5 L289.6,302.2 L290.1,301.2 L290.6,300.3 L291.1,299.8 L291.6,299.6 L292.1,299.7 L292.6,300.0 L293.1,300.6 L293.6,301.4 L294.1,302.2 L294.6,303.1 L295.1,304.1 L295.6,305.0 L296.1,305.8 L296.6,306.7 L297.1,307.5 L297.6,308.3 L298.1,309.0 L298.6,309.8 L299.1,310.5 L299.6,311.3 L300.1,312.0 L300.6,312.7 L301.1,313.4 L301.6,314.0 L302.1,314.7 L302.6,315.4 L303.1,316.0 L303.6,316.6 L304.1,317.2 L304.6,317.8 L305.1,318.3 L305.6,318.7 L306.1,319.1 L306.6,319.4 L307.1,319.6 L307.6,319.8 L308.1,320.0 L308.6,320.1 L309.1,320.1 L309.6,320.2 L310.1,320.1 L310.6,320.0 L311.1,319.9 L311.6,319.6 L312.1,319.2 L312.6,318.8 L313.1,318.3 L313.6,317.8 L314.1,317.3 L314.6,316.8 L315.1,316.4 L315.6,316.0 L316.1,315.8 L316.6,315.7 L317.1,315.7 L317.6,315.8 L318.1,316.1 L318.6,316.5 L319.1,317.0 L319.6,317.5 L320.1,318.1 L320.6,318.7 L321.1,319.4 L321.6,320.0 L322.1,320.7 L322.6,321.4 L323.1,322.1 L323.6,322.8 L324.1,323.6 L324.6,324.3 L325.1,325.0 L325.6,325.7 L326.1,326.4 L326.6,327.0 L327.1,327.5 L327.6,328.0 L328.1,328.3 L328.6,328.5 L329.1,328.6 L329.6,328.5 L330.1,328.4 L330.6,328.1 L331.1,327.7 L331.6,327.2 L332.1,326.7 L332.6,326.3 L333.1,325.8 L333.6,325.4 L334.1,325.1 L334.6,324.9 L335.1,324.7 L335.6,324.6 L336.1,324.5 L336.6,324.5 L337.1,324.4 L337.6,324.4 L338.1,324.3 L338.6,324.3 L339.1,324.3 L339.6,324.2 L340.1,324.2 L340.6,324.2 L341.1,324.1 L341.6,324.1 L342.1,324.1 L342.6,324.0 L343.1,324.0 L343.6,323.9 L344.1,323.8 L344.6,323.8 L345.1,323.7 L345.6,323.6 L346.1,323.5 L346.6,323.5 L347.1,323.4 L347.6,323.3 L348.1,323.2 L348.6,323.1 L349.1,323.0 L349.6,322.9 L350.1,322.8 L350.6,322.7 L351.1,322.6 L351.6,322.5 L352.1,322.3 L352.6,322.2 L353.1,322.1 L353.6,322.0 L354.1,321.9 L354.6,321.8 L355.1,321.6 L355.6,321.5 L356.1,321.4 L356.6,321.2 L357.1,321.1 L357.6,320.9 L358.1,320.7 L358.6,320.5 L359.1,320.4 L359.6,320.2 L360.1,320.0 L360.6,319.8 L361.1,319.6 L361.6,319.4 L362.1,319.2 L362.6,319.0 L363.1,318.8 L363.6,318.6 L364.1,318.4 L364.6,318.3 L365.1,318.2 L365.6,318.0 L366.1,317.9 L366.6,317.8 L367.1,317.8 L367.6,317.7 L368.1,317.7 L368.6,317.6 L369.1,317.6 L369.6,317.6 L370.1,317.6 L370.6,317.6 L371.1,317.6 L371.6,317.6 L372.1,317.6 L372.6,317.6 L373.1,317.6 L373.6,317.6 L374.1,317.6 L374.6,317.6 L375.1,317.6 L375.6,317.6 L376.1,317.6 L376.6,317.6 L377.1,317.6 L377.6,317.6 L378.1,317.5 L378.6,317.4 L379.1,317.3 L379.6,317.1 L380.1,316.8 L380.6,316.5 L381.1,316.2 L381.6,315.8 L382.1,315.4 L382.6,315.1 L383.1,314.7 L383.6,314.5 L384.1,314.2 L384.6,314.1 L385.1,313.9 L385.6,313.9 L386.1,313.8 L386.6,313.8 L387.1,313.8 L387.6,313.8 L388.1,313.8 L388.6,313.8 L389.1,313.8 L389.6,313.8 L390.1,313.8 L390.6,313.7 L391.1,313.6 L391.6,313.3 L392.1,313.0 L392.6,312.6 L393.1,311.6 L393.6,309.8 L394.1,307.5 L394.6,305.1 L395.1,302.4 L395.6,299.2 L396.1,295.5 L396.6,291.1 L397.1,285.4 L397.6,278.7 L398.1,272.2 L398.6,266.7 L399.2,261.3 L399.7,256.0 L400.3,251.7 L400.8,249.3 L401.4,249.4 L401.9,250.9 L402.4,253.5 L402.9,256.7 L403.4,260.3 L403.9,266.2 L404.4,274.4 L404.9,283.5 L405.4,292.1 L405.9,299.1 L406.4,303.7 L406.9,307.9 L407.4,313.8 L407.9,324.7 L408.4,335.2 L408.9,343.1 L409.4,350.3 L409.9,355.0" stroke="#FFC000"/><path d="M141.9,321.9 L142.4,321.9 L142.9,321.9 L143.4,321.9 L143.9,321.8 L144.4,321.8 L144.9,321.6 L145.4,321.4 L145.9,321.1 L146.4,320.8 L146.9,320.4 L147.4,321.1 L147.9,320.8 L148.4,320.5 L148.9,320.3 L149.4,320.3 L149.9,320.6 L150.4,321.0 L150.9,321.6 L151.4,322.4 L151.9,323.2 L152.4,324.0 L152.9,324.8 L153.4,325.5 L153.9,326.1 L154.4,326.5 L154.9,326.8 L155.4,326.8 L155.9,326.6 L156.4,326.2 L156.9,325.7 L157.4,325.1 L157.9,324.4 L158.4,323.8 L158.9,323.2 L159.4,322.7 L159.9,322.3 L160.4,322.0 L160.9,321.8 L161.4,321.7 L161.9,321.6 L162.4,321.6 L162.9,321.6 L163.4,321.6 L163.9,321.6 L164.4,321.6 L164.9,321.6 L165.4,321.6 L165.9,321.7 L166.4,321.7 L166.9,321.7 L167.4,321.8 L167.9,321.8 L168.4,321.9 L168.9,321.9 L169.4,321.9 L169.9,322.0 L170.4,322.0 L170.9,322.1 L171.4,322.1 L171.9,322.2 L172.4,322.2 L172.9,322.3 L173.4,322.3 L173.9,322.4 L174.4,322.4 L174.9,322.5 L175.4,322.6 L175.9,322.7 L176.4,322.7 L176.9,322.8 L177.4,323.0 L177.9,323.1 L178.4,323.2 L178.9,323.3 L179.4,323.4 L179.9,323.5 L180.4,323.6 L180.9,323.7 L181.4,323.8 L181.9,323.8 L182.4,323.9 L182.9,323.9 L183.4,324.0 L183.9,324.0 L184.4,324.0 L184.9,324.0 L185.4,324.0 L185.9,324.0 L186.4,324.0 L186.9,324.0 L187.4,324.0 L187.9,323.9 L188.4,323.9 L188.9,323.9 L189.4,323.9 L189.9,323.9 L190.4,323.9 L190.9,323.9 L191.4,323.9 L191.9,323.8 L192.4,323.8 L192.9,323.8 L193.4,323.8 L193.9,323.8 L194.4,323.7 L194.9,323.7 L195.4,323.7 L195.9,323.7 L196.4,323.7 L196.9,323.6 L197.4,323.6 L197.9,323.6 L198.4,323.6 L198.9,323.5 L199.4,323.5 L199.9,323.5 L200.4,323.5 L200.9,323.5 L201.4,323.4 L201.9,323.4 L202.4,323.4 L202.9,323.4 L203.4,323.3 L203.9,323.3 L204.4,323.3 L204.9,323.2 L205.4,323.2 L205.9,323.1 L206.4,323.0 L206.9,322.9 L207.4,322.7 L207.9,322.5 L208.4,322.3 L208.9,322.0 L209.4,321.7 L209.9,321.4 L210.4,321.0 L210.9,320.6 L211.4,320.2 L211.9,319.8 L212.4,319.4 L212.9,318.9 L213.4,318.5 L213.9,318.0 L214.4,317.5 L214.9,317.1 L215.4,316.6 L215.9,316.2 L216.4,315.8 L216.9,315.4 L217.4,315.0 L217.9,314.7 L218.4,314.4 L218.9,314.2 L219.4,313.9 L219.9,313.7 L220.4,313.5 L220.9,313.3 L221.4,313.1 L221.9,312.9 L222.4,312.7 L222.9,312.6 L223.4,312.4 L223.9,312.2 L224.4,312.1 L224.9,311.9 L225.4,311.7 L225.9,311.6 L226.4,311.5 L226.9,311.3 L227.4,311.3 L227.9,311.2 L228.4,311.3 L228.9,311.4 L229.4,311.7 L229.9,312.0 L230.4,312.5 L230.9,313.1 L231.4,313.9 L231.9,314.8 L232.4,315.9 L232.9,317.1 L233.4,318.5 L233.9,320.0 L234.4,321.5 L234.9,323.0 L235.4,324.5 L235.9,326.0 L236.4,327.5 L236.9,328.8 L237.4,330.2 L237.9,331.4 L238.4,332.5 L238.9,333.6 L239.4,334.4 L239.9,335.2 L240.4,335.7 L240.9,336.0 L241.4,336.1 L241.9,336.0 L242.4,335.7 L242.9,335.3 L243.4,334.8 L243.9,334.2 L244.4,333.7 L244.9,333.1 L245.4,332.6 L245.9,332.1 L246.4,331.5 L246.9,331.0 L247.4,330.5 L247.9,330.0 L248.4,329.5 L248.9,329.0 L249.4,328.5 L249.9,328.1 L250.4,327.6 L250.9,327.1 L251.4,326.7 L251.9,326.3 L252.4,325.8 L252.9,325.4 L253.4,325.1 L253.9,324.8 L254.4,324.5 L254.9,324.3 L255.4,324.1 L255.9,324.0 L256.4,323.9 L256.9,323.8 L257.4,323.8 L257.9,323.7 L258.4,323.7 L258.9,323.6 L259.4,323.6 L259.9,323.5 L260.4,323.5 L260.9,323.4 L261.4,323.4 L261.9,323.3 L262.4,323.2 L262.9,323.2 L263.4,323.1 L263.9,323.1 L264.4,323.1 L264.9,323.0 L265.4,323.0 L265.9,322.9 L266.4,322.9 L266.9,322.8 L267.4,322.8 L267.9,322.8 L268.4,322.7 L268.9,322.7 L269.4,322.7 L269.9,322.6 L270.4,322.6 L270.9,322.6 L271.4,322.6 L271.9,322.6 L272.4,322.5 L272.9,322.5 L273.4,322.5 L273.9,322.5 L274.4,322.5 L274.9,322.5 L275.4,322.4 L275.9,322.4 L276.4,322.4 L276.9,322.3 L277.4,322.3 L277.9,322.2 L278.4,322.1 L278.9,322.0 L279.4,321.9 L279.9,321.7 L280.4,321.5 L280.9,321.3 L281.4,321.1 L281.9,320.8 L282.4,320.4 L282.9,319.9 L283.4,319.3 L283.9,318.6 L284.4,317.6 L284.9,316.6 L285.4,315.4 L285.9,314.2 L286.4,312.9 L286.9,311.7 L287.4,310.5 L287.9,309.4 L288.4,308.3 L288.9,307.3 L289.4,306.4 L289.9,305.6 L290.4,305.1 L290.9,304.7 L291.4,304.5 L291.9,304.5 L292.4,304.6 L292.9,305.0 L293.4,305.4 L293.9,305.9 L294.4,306.4 L294.9,307.0 L295.4,307.6 L295.9,308.3 L296.4,308.9 L296.9,309.6 L297.4,310.3 L297.9,311.0 L298.4,311.7 L298.9,312.5 L299.4,313.2 L299.9,313.9 L300.4,314.6 L300.9,315.3 L301.4,315.9 L301.9,316.6 L302.4,317.3 L302.9,317.9 L303.4,318.5 L303.9,319.1 L304.4,319.7 L304.9,320.2 L305.4,320.6 L305.9,321.0 L306.4,321.3 L306.9,321.5 L307.4,321.7 L307.9,321.9 L308.4,322.0 L308.9,322.0 L309.4,322.1 L309.9,322.0 L310.4,321.9 L310.9,321.8 L311.4,321.5 L311.9,321.1 L312.4,320.7 L312.9,320.2 L313.4,319.7 L313.9,319.2 L314.4,318.7 L314.9,318.3 L315.4,317.9 L315.9,317.7 L316.4,317.6 L316.9,317.6 L317.4,317.7 L317.9,318.0 L318.4,318.4 L318.9,318.9 L319.4,319.4 L319.9,320.0 L320.4,320.6 L320.9,321.3 L321.4,321.9 L321.9,322.6 L322.4,323.3 L322.9,324.0 L323.4,324.7 L323.9,325.5 L324.4,326.2 L324.9,326.9 L325.4,327.6 L325.9,328.3 L326.4,328.9 L326.9,329.4 L327.4,329.9 L327.9,330.2 L328.4,330.4 L328.9,330.5 L329.4,330.4 L329.9,330.3 L330.4,330.0 L330.9,329.6 L331.4,329.1 L331.9,328.6 L332.4,328.2 L332.9,327.7 L333.4,327.3 L333.9,327.0 L334.4,326.8 L334.9,326.6 L335.4,326.5 L335.9,326.4 L336.4,326.4 L336.9,326.3 L337.4,326.3 L337.9,326.2 L338.4,326.2 L338.9,326.2 L339.4,326.1 L339.9,326.1 L340.4,326.1 L340.9,326.0 L341.4,326.0 L341.9,326.0 L342.4,325.9 L342.9,325.9 L343.4,325.8 L343.9,325.7 L344.4,325.7 L344.9,325.6 L345.4,325.5 L345.9,325.4 L346.4,325.4 L346.9,325.3 L347.4,325.2 L347.9,325.1 L348.4,325.0 L348.9,324.9 L349.4,324.8 L349.9,324.7 L350.4,324.6 L350.9,324.5 L351.4,324.4 L351.9,324.2 L352.4,324.1 L352.9,324.0 L353.4,323.9 L353.9,323.8 L354.4,323.7 L354.9,323.5 L355.4,323.4 L355.9,323.3 L356.4,323.1 L356.9,323.0 L357.4,322.8 L357.9,322.6 L358.4,322.4 L358.9,322.3 L359.4,322.1 L359.9,321.9 L360.4,321.7 L360.9,321.5 L361.4,321.3 L361.9,321.1 L362.4,320.9 L362.9,320.7 L363.4,320.5 L363.9,320.3 L364.4,320.2 L364.9,320.1 L365.4,319.9 L365.9,319.8 L366.4,319.7 L366.9,319.7 L367.4,319.6 L367.9,319.6 L368.4,319.5 L368.9,319.5 L369.4,319.5 L369.9,319.5 L370.4,319.5 L370.9,319.5 L371.4,319.5 L371.9,319.5 L372.4,319.5 L372.9,319.5 L373.4,319.5 L373.9,319.5 L374.4,319.5 L374.9,319.5 L375.4,319.5 L375.9,319.5 L376.4,319.5 L376.9,319.5 L377.4,319.5 L377.9,319.4 L378.4,319.3 L378.9,319.2 L379.4,319.0 L379.9,318.7 L380.4,318.4 L380.9,318.1 L381.4,317.7 L381.9,317.3 L382.4,317.0 L382.9,316.6 L383.4,316.4 L383.9,316.1 L384.4,316.0 L384.9,315.8 L385.4,315.8 L385.9,315.7 L386.4,315.7 L386.9,315.7 L387.4,315.7 L387.9,315.7 L388.4,315.7 L388.9,315.7 L389.4,315.7 L389.9,315.7 L390.4,315.6 L390.9,315.5 L391.4,315.2 L391.9,314.9 L392.4,314.5 L392.9,313.5 L393.4,311.7 L393.9,309.4 L394.4,307.0 L394.9,304.3 L395.4,301.1 L395.9,297.4 L396.4,293.1 L396.9,287.4 L397.4,280.9 L397.9,274.6 L398.4,269.3 L398.9,264.3 L399.4,259.4 L399.9,255.4 L400.4,253.2 L400.9,253.2 L401.4,254.6 L401.9,256.8 L402.4,259.7 L402.9,262.9 L403.4,268.6 L403.9,276.5 L404.4,285.5 L404.9,294.1 L405.4,301.0 L405.9,305.6 L406.4,309.8 L406.9,315.5 L407.4,326.0 L407.9,335.7 L408.4,342.0 L408.9,347.5 L409.4,351.0" stroke="#70AD47"/><path d="M141.9,321.9 L142.4,321.9 L142.9,321.9 L143.4,321.9 L143.9,321.8 L144.4,321.8 L144.9,321.6 L145.4,321.3 L145.9,320.9 L146.4,320.4 L146.9,319.8 L147.6,319.5 L148.1,319.0 L148.6,318.8 L149.1,318.8 L149.6,319.0 L150.1,319.5 L150.6,320.0 L151.1,320.6 L151.6,321.3 L152.1,322.0 L152.6,322.7 L153.1,323.4 L153.6,324.0 L154.1,324.5 L154.6,324.8 L155.1,325.1 L155.6,325.1 L156.1,324.9 L156.6,324.7 L157.1,324.2 L157.6,323.8 L158.1,323.2 L158.6,322.7 L159.1,322.2 L159.6,321.8 L160.1,321.5 L160.6,321.2 L161.1,321.1 L161.6,321.0 L162.1,320.9 L162.6,320.9 L163.1,320.9 L163.6,320.9 L164.1,320.9 L164.6,320.9 L165.1,320.9 L165.6,320.9 L166.1,321.0 L166.6,321.0 L167.1,321.0 L167.6,321.1 L168.1,321.1 L168.6,321.2 L169.1,321.2 L169.6,321.2 L170.1,321.3 L170.6,321.3 L171.1,321.4 L171.6,321.4 L172.1,321.5 L172.6,321.5 L173.1,321.6 L173.6,321.6 L174.1,321.7 L174.6,321.7 L175.1,321.8 L175.6,321.9 L176.1,322.0 L176.6,322.0 L177.1,322.1 L177.6,322.3 L178.1,322.4 L178.6,322.5 L179.1,322.6 L179.6,322.7 L180.1,322.8 L180.6,322.9 L181.1,323.0 L181.6,323.1 L182.1,323.1 L182.6,323.2 L183.1,323.2 L183.6,323.3 L184.1,323.3 L184.6,323.3 L185.1,323.3 L185.6,323.3 L186.1,323.3 L186.6,323.3 L187.1,323.3 L187.6,323.3 L188.1,323.2 L188.6,323.2 L189.1,323.2 L189.6,323.2 L190.1,323.2 L190.6,323.2 L191.1,323.2 L191.6,323.2 L192.1,323.1 L192.6,323.1 L193.1,323.1 L193.6,323.1 L194.1,323.1 L194.6,323.0 L195.1,323.0 L195.6,323.0 L196.1,323.0 L196.6,323.0 L197.1,322.9 L197.6,322.9 L198.1,322.9 L198.6,322.9 L199.1,322.8 L199.6,322.8 L200.1,322.8 L200.6,322.8 L201.1,322.8 L201.6,322.7 L202.1,322.7 L202.6,322.7 L203.1,322.7 L203.6,322.6 L204.1,322.6 L204.6,322.6 L205.1,322.5 L205.6,322.5 L206.1,322.4 L206.6,322.3 L207.1,322.2 L207.6,322.0 L208.1,321.8 L208.6,321.6 L209.1,321.3 L209.6,321.0 L210.1,320.7 L210.6,320.3 L211.1,319.9 L211.6,319.5 L212.1,319.1 L212.6,318.7 L213.1,318.2 L213.6,317.8 L214.1,317.3 L214.6,316.8 L215.1,316.4 L215.6,315.9 L216.1,315.5 L216.6,315.1 L217.1,314.7 L217.6,314.3 L218.1,314.0 L218.6,313.7 L219.1,313.5 L219.6,313.2 L220.1,313.0 L220.6,312.8 L221.1,312.6 L221.6,312.4 L222.1,312.2 L222.6,312.0 L223.1,311.9 L223.6,311.7 L224.1,311.5 L224.6,311.4 L225.1,311.2 L225.6,311.0 L226.1,310.9 L226.6,310.8 L227.1,310.6 L227.6,310.6 L228.1,310.5 L228.6,310.6 L229.1,310.7 L229.6,311.0 L230.1,311.3 L230.6,311.8 L231.1,312.4 L231.6,313.2 L232.1,314.1 L232.6,315.2 L233.1,316.4 L233.6,317.8 L234.1,319.3 L234.6,320.8 L235.1,322.3 L235.6,323.8 L236.1,325.3 L236.6,326.8 L237.1,328.1 L237.6,329.5 L238.1,330.7 L238.6,331.8 L239.1,332.9 L239.6,333.7 L240.1,334.5 L240.6,335.0 L241.1,335.3 L241.6,335.4 L242.1,335.3 L242.6,335.0 L243.1,334.6 L243.6,334.1 L244.1,333.5 L244.6,333.0 L245.1,332.4 L245.6,331.9 L246.1,331.4 L246.6,330.8 L247.1,330.3 L247.6,329.8 L248.1,329.3 L248.6,328.8 L249.1,328.3 L249.6,327.8 L250.1,327.4 L250.6,326.9 L251.1,326.4 L251.6,326.0 L252.1,325.6 L252.6,325.1 L253.1,324.7 L253.6,324.4 L254.1,324.1 L254.6,323.8 L255.1,323.6 L255.6,323.4 L256.1,323.3 L256.6,323.2 L257.1,323.1 L257.6,323.1 L258.1,323.0 L258.6,323.0 L259.1,322.9 L259.6,322.9 L260.1,322.8 L260.6,322.8 L261.1,322.7 L261.6,322.7 L262.1,322.6 L262.6,322.5 L263.1,322.5 L263.6,322.4 L264.1,322.4 L264.6,322.4 L265.1,322.3 L265.6,322.3 L266.1,322.2 L266.6,322.2 L267.1,322.1 L267.6,322.1 L268.1,322.1 L268.6,322.0 L269.1,322.0 L269.6,322.0 L270.1,321.9 L270.6,321.9 L271.1,321.9 L271.6,321.9 L272.1,321.9 L272.6,321.8 L273.1,321.8 L273.6,321.8 L274.1,321.8 L274.6,321.8 L275.1,321.8 L275.6,321.7 L276.1,321.7 L276.6,321.7 L277.1,321.6 L277.6,321.6 L278.1,321.5 L278.6,321.4 L279.1,321.3 L279.6,321.2 L280.1,321.0 L280.6,320.8 L281.1,320.6 L281.6,320.4 L282.1,320.1 L282.6,319.7 L283.1,319.2 L283.6,318.6 L284.1,317.9 L284.6,316.9 L285.1,315.8 L285.6,314.7 L286.1,313.4 L286.6,312.1 L287.1,310.8 L287.6,309.5 L288.1,308.3 L288.6,307.1 L289.1,305.9 L289.6,304.9 L290.1,304.1 L290.6,303.4 L291.1,303.0 L291.6,302.8 L292.1,302.8 L292.6,303.0 L293.1,303.4 L293.6,304.0 L294.1,304.6 L294.6,305.3 L295.1,306.0 L295.6,306.7 L296.1,307.4 L296.6,308.1 L297.1,308.8 L297.6,309.6 L298.1,310.3 L298.6,311.0 L299.1,311.8 L299.6,312.5 L300.1,313.2 L300.6,313.9 L301.1,314.6 L301.6,315.2 L302.1,315.9 L302.6,316.6 L303.1,317.2 L303.6,317.8 L304.1,318.4 L304.6,319.0 L305.1,319.5 L305.6,319.9 L306.1,320.3 L306.6,320.6 L307.1,320.8 L307.6,321.0 L308.1,321.2 L308.6,321.3 L309.1,321.3 L309.6,321.4 L310.1,321.3 L310.6,321.2 L311.1,321.1 L311.6,320.8 L312.1,320.4 L312.6,320.0 L313.1,319.5 L313.6,319.0 L314.1,318.5 L314.6,318.0 L315.1,317.6 L315.6,317.2 L316.1,317.0 L316.6,316.9 L317.1,316.9 L317.6,317.0 L318.1,317.3 L318.6,317.7 L319.1,318.2 L319.6,318.7 L320.1,319.3 L320.6,319.9 L321.1,320.6 L321.6,321.2 L322.1,321.9 L322.6,322.6 L323.1,323.3 L323.6,324.0 L324.1,324.8 L324.6,325.5 L325.1,326.2 L325.6,326.9 L326.1,327.6 L326.6,328.2 L327.1,328.7 L327.6,329.2 L328.1,329.5 L328.6,329.7 L329.1,329.8 L329.6,329.7 L330.1,329.6 L330.6,329.3 L331.1,328.9 L331.6,328.4 L332.1,327.9 L332.6,327.5 L333.1,327.0 L333.6,326.6 L334.1,326.3 L334.6,326.1 L335.1,325.9 L335.6,325.8 L336.1,325.7 L336.6,325.7 L337.1,325.6 L337.6,325.6 L338.1,325.5 L338.6,325.5 L339.1,325.5 L339.6,325.4 L340.1,325.4 L340.6,325.4 L341.1,325.3 L341.6,325.3 L342.1,325.3 L342.6,325.2 L343.1,325.2 L343.6,325.1 L344.1,325.0 L344.6,325.0 L345.1,324.9 L345.6,324.8 L346.1,324.7 L346.6,324.7 L347.1,324.6 L347.6,324.5 L348.1,324.4 L348.6,324.3 L349.1,324.2 L349.6,324.1 L350.1,324.0 L350.6,323.9 L351.1,323.8 L351.6,323.7 L352.1,323.5 L352.6,323.4 L353.1,323.3 L353.6,323.2 L354.1,323.1 L354.6,323.0 L355.1,322.8 L355.6,322.7 L356.1,322.6 L356.6,322.4 L357.1,322.3 L357.6,322.1 L358.1,321.9 L358.6,321.7 L359.1,321.6 L359.6,321.4 L360.1,321.2 L360.6,321.0 L361.1,320.8 L361.6,320.6 L362.1,320.4 L362.6,320.2 L363.1,320.0 L363.6,319.8 L364.1,319.6 L364.6,319.5 L365.1,319.4 L365.6,319.2 L366.1,319.1 L366.6,319.0 L367.1,319.0 L367.6,318.9 L368.1,318.9 L368.6,318.8 L369.1,318.8 L369.6,318.8 L370.1,318.8 L370.6,318.8 L371.1,318.8 L371.6,318.8 L372.1,318.8 L372.6,318.8 L373.1,318.8 L373.6,318.8 L374.1,318.8 L374.6,318.8 L375.1,318.8 L375.6,318.8 L376.1,318.8 L376.6,318.8 L377.1,318.8 L377.6,318.8 L378.1,318.7 L378.6,318.6 L379.1,318.5 L379.6,318.3 L380.1,318.0 L380.6,317.7 L381.1,317.4 L381.6,317.0 L382.1,316.6 L382.6,316.3 L383.1,315.9 L383.6,315.7 L384.1,315.4 L384.6,315.3 L385.1,315.1 L385.6,315.1 L386.1,315.0 L386.6,315.0 L387.1,315.0 L387.6,315.0 L388.1,315.0 L388.6,315.0 L389.1,315.0 L389.6,315.0 L390.1,315.0 L390.6,314.9 L391.1,314.8 L391.6,314.5 L392.1,314.2 L392.6,313.8 L393.1,312.8 L393.6,311.0 L394.1,308.7 L394.6,306.3 L395.1,303.6 L395.6,300.4 L396.1,296.7 L396.6,292.5 L397.1,286.8 L397.6,280.5 L398.1,274.3 L398.6,269.4 L399.2,264.8 L399.7,260.2 L400.2,256.6 L400.8,254.5 L401.3,254.5 L401.8,255.6 L402.3,257.6 L402.8,260.1 L403.3,263.0 L403.8,268.3 L404.3,276.1 L404.8,284.9 L405.3,293.4 L405.8,300.3 L406.3,304.9 L406.8,309.1 L407.3,314.8 L407.8,325.3 L408.3,334.8 L408.8,340.8 L409.3,346.1 L409.8,349.3" stroke="#43682B"/><path d="M141.9,321.9 L142.4,321.9 L142.9,321.9 L143.4,321.9 L143.9,321.8 L144.4,321.8 L144.9,321.6 L145.4,321.3 L145.9,320.9 L146.4,320.4 L146.9,319.8 L147.9,318.5 L148.4,318.0 L148.9,317.7 L149.4,317.7 L149.9,317.9 L150.4,318.2 L150.9,318.6 L151.4,319.1 L151.9,319.6 L152.4,320.1 L152.9,320.5 L153.4,321.0 L153.9,321.3 L154.4,321.7 L154.9,321.9 L155.4,322.1 L155.9,322.1 L156.4,322.1 L156.9,321.9 L157.4,321.7 L157.9,321.5 L158.4,321.2 L158.9,320.9 L159.4,320.6 L159.9,320.4 L160.4,320.2 L160.9,320.0 L161.4,319.9 L161.9,319.9 L162.4,319.9 L162.9,319.8 L163.4,319.8 L163.9,319.9 L164.4,319.9 L164.9,319.9 L165.4,319.9 L165.9,319.9 L166.4,320.0 L166.9,320.0 L167.4,320.0 L167.9,320.1 L168.4,320.1 L168.9,320.2 L169.4,320.2 L169.9,320.2 L170.4,320.3 L170.9,320.3 L171.4,320.4 L171.9,320.4 L172.4,320.5 L172.9,320.5 L173.4,320.6 L173.9,320.6 L174.4,320.7 L174.9,320.7 L175.4,320.8 L175.9,320.9 L176.4,321.0 L176.9,321.0 L177.4,321.1 L177.9,321.3 L178.4,321.4 L178.9,321.5 L179.4,321.6 L179.9,321.7 L180.4,321.8 L180.9,321.9 L181.4,322.0 L181.9,322.1 L182.4,322.1 L182.9,322.2 L183.4,322.2 L183.9,322.3 L184.4,322.3 L184.9,322.3 L185.4,322.3 L185.9,322.3 L186.4,322.3 L186.9,322.3 L187.4,322.3 L187.9,322.3 L188.4,322.2 L188.9,322.2 L189.4,322.2 L189.9,322.2 L190.4,322.2 L190.9,322.2 L191.4,322.2 L191.9,322.2 L192.4,322.1 L192.9,322.1 L193.4,322.1 L193.9,322.1 L194.4,322.1 L194.9,322.0 L195.4,322.0 L195.9,322.0 L196.4,322.0 L196.9,322.0 L197.4,321.9 L197.9,321.9 L198.4,321.9 L198.9,321.9 L199.4,321.8 L199.9,321.8 L200.4,321.8 L200.9,321.8 L201.4,321.8 L201.9,321.7 L202.4,321.7 L202.9,321.7 L203.4,321.7 L203.9,321.6 L204.4,321.6 L204.9,321.6 L205.4,321.5 L205.9,321.5 L206.4,321.4 L206.9,321.3 L207.4,321.2 L207.9,321.0 L208.4,320.8 L208.9,320.6 L209.4,320.3 L209.9,320.0 L210.4,319.7 L210.9,319.3 L211.4,318.9 L211.9,318.5 L212.4,318.1 L212.9,317.7 L213.4,317.2 L213.9,316.8 L214.4,316.3 L214.9,315.8 L215.4,315.4 L215.9,314.9 L216.4,314.5 L216.9,314.1 L217.4,313.7 L217.9,313.3 L218.4,313.0 L218.9,312.7 L219.4,312.5 L219.9,312.2 L220.4,312.0 L220.9,311.8 L221.4,311.6 L221.9,311.4 L222.4,311.2 L222.9,311.0 L223.4,310.9 L223.9,310.7 L224.4,310.5 L224.9,310.4 L225.4,310.2 L225.9,310.0 L226.4,309.9 L226.9,309.8 L227.4,309.6 L227.9,309.6 L228.4,309.5 L228.9,309.6 L229.4,309.7 L229.9,310.0 L230.4,310.3 L230.9,310.8 L231.4,311.4 L231.9,312.2 L232.4,313.1 L232.9,314.2 L233.4,315.4 L233.9,316.8 L234.4,318.3 L234.9,319.8 L235.4,321.3 L235.9,322.8 L236.4,324.3 L236.9,325.8 L237.4,327.1 L237.9,328.5 L238.4,329.7 L238.9,330.8 L239.4,331.9 L239.9,332.7 L240.4,333.5 L240.9,334.0 L241.4,334.3 L241.9,334.4 L242.4,334.3 L242.9,334.0 L243.4,333.6 L243.9,333.1 L244.4,332.5 L244.9,332.0 L245.4,331.4 L245.9,330.9 L246.4,330.4 L246.9,329.8 L247.4,329.3 L247.9,328.8 L248.4,328.3 L248.9,327.8 L249.4,327.3 L249.9,326.8 L250.4,326.4 L250.9,325.9 L251.4,325.4 L251.9,325.0 L252.4,324.6 L252.9,324.1 L253.4,323.7 L253.9,323.4 L254.4,323.1 L254.9,322.8 L255.4,322.6 L255.9,322.4 L256.4,322.3 L256.9,322.2 L257.4,322.1 L257.9,322.1 L258.4,322.0 L258.9,322.0 L259.4,321.9 L259.9,321.9 L260.4,321.8 L260.9,321.8 L261.4,321.7 L261.9,321.7 L262.4,321.6 L262.9,321.5 L263.4,321.5 L263.9,321.4 L264.4,321.4 L264.9,321.4 L265.4,321.3 L265.9,321.3 L266.4,321.2 L266.9,321.2 L267.4,321.1 L267.9,321.1 L268.4,321.1 L268.9,321.0 L269.4,321.0 L269.9,321.0 L270.4,320.9 L270.9,320.9 L271.4,320.9 L271.9,320.9 L272.4,320.9 L272.9,320.8 L273.4,320.8 L273.9,320.8 L274.4,320.8 L274.9,320.8 L275.4,320.8 L275.9,320.7 L276.4,320.7 L276.9,320.7 L277.4,320.6 L277.9,320.6 L278.4,320.5 L278.9,320.4 L279.4,320.3 L279.9,320.2 L280.4,320.0 L280.9,319.8 L281.4,319.6 L281.9,319.4 L282.4,319.1 L282.9,318.7 L283.4,318.2 L283.9,317.6 L284.4,316.8 L284.9,315.9 L285.4,314.8 L285.9,313.6 L286.4,312.3 L286.9,311.0 L287.4,309.6 L287.9,308.2 L288.4,306.9 L288.9,305.6 L289.4,304.3 L289.9,303.2 L290.4,302.2 L290.9,301.5 L291.4,301.0 L291.9,300.8 L292.4,300.8 L292.9,301.1 L293.4,301.6 L293.9,302.3 L294.4,303.0 L294.9,303.8 L295.4,304.6 L295.9,305.4 L296.4,306.2 L296.9,307.0 L297.4,307.8 L297.9,308.5 L298.4,309.3 L298.9,310.0 L299.4,310.7 L299.9,311.5 L300.4,312.2 L300.9,312.9 L301.4,313.6 L301.9,314.2 L302.4,314.9 L302.9,315.6 L303.4,316.2 L303.9,316.8 L304.4,317.4 L304.9,318.0 L305.4,318.5 L305.9,318.9 L306.4,319.3 L306.9,319.6 L307.4,319.8 L307.9,320.0 L308.4,320.2 L308.9,320.3 L309.4,320.3 L309.9,320.4 L310.4,320.3 L310.9,320.2 L311.4,320.1 L311.9,319.8 L312.4,319.4 L312.9,319.0 L313.4,318.5 L313.9,318.0 L314.4,317.5 L314.9,317.0 L315.4,316.6 L315.9,316.2 L316.4,316.0 L316.9,315.9 L317.4,315.9 L317.9,316.0 L318.4,316.3 L318.9,316.7 L319.4,317.2 L319.9,317.7 L320.4,318.3 L320.9,318.9 L321.4,319.6 L321.9,320.2 L322.4,320.9 L322.9,321.6 L323.4,322.3 L323.9,323.0 L324.4,323.8 L324.9,324.5 L325.4,325.2 L325.9,325.9 L326.4,326.6 L326.9,327.2 L327.4,327.7 L327.9,328.2 L328.4,328.5 L328.9,328.7 L329.4,328.8 L329.9,328.7 L330.4,328.6 L330.9,328.3 L331.4,327.9 L331.9,327.4 L332.4,326.9 L332.9,326.5 L333.4,326.0 L333.9,325.6 L334.4,325.3 L334.9,325.1 L335.4,324.9 L335.9,324.8 L336.4,324.7 L336.9,324.7 L337.4,324.6 L337.9,324.6 L338.4,324.5 L338.9,324.5 L339.4,324.5 L339.9,324.4 L340.4,324.4 L340.9,324.4 L341.4,324.3 L341.9,324.3 L342.4,324.3 L342.9,324.2 L343.4,324.2 L343.9,324.1 L344.4,324.0 L344.9,324.0 L345.4,323.9 L345.9,323.8 L346.4,323.7 L346.9,323.7 L347.4,323.6 L347.9,323.5 L348.4,323.4 L348.9,323.3 L349.4,323.2 L349.9,323.1 L350.4,323.0 L350.9,322.9 L351.4,322.8 L351.9,322.7 L352.4,322.5 L352.9,322.4 L353.4,322.3 L353.9,322.2 L354.4,322.1 L354.9,322.0 L355.4,321.8 L355.9,321.7 L356.4,321.6 L356.9,321.4 L357.4,321.3 L357.9,321.1 L358.4,320.9 L358.9,320.7 L359.4,320.6 L359.9,320.4 L360.4,320.2 L360.9,320.0 L361.4,319.8 L361.9,319.6 L362.4,319.4 L362.9,319.2 L363.4,319.0 L363.9,318.8 L364.4,318.6 L364.9,318.5 L365.4,318.4 L365.9,318.2 L366.4,318.1 L366.9,318.0 L367.4,318.0 L367.9,317.9 L368.4,317.9 L368.9,317.8 L369.4,317.8 L369.9,317.8 L370.4,317.8 L370.9,317.8 L371.4,317.8 L371.9,317.8 L372.4,317.8 L372.9,317.8 L373.4,317.8 L373.9,317.8 L374.4,317.8 L374.9,317.8 L375.4,317.8 L375.9,317.8 L376.4,317.8 L376.9,317.8 L377.4,317.8 L377.9,317.8 L378.4,317.7 L378.9,317.6 L379.4,317.5 L379.9,317.3 L380.4,317.0 L380.9,316.7 L381.4,316.4 L381.9,316.0 L382.4,315.6 L382.9,315.3 L383.4,314.9 L383.9,314.7 L384.4,314.4 L384.9,314.3 L385.4,314.1 L385.9,314.1 L386.4,314.0 L386.9,314.0 L387.4,314.0 L387.9,314.0 L388.4,314.0 L388.9,314.0 L389.4,314.0 L389.9,314.0 L390.4,314.0 L390.9,313.9 L391.4,313.8 L391.9,313.5 L392.4,313.2 L392.9,312.8 L393.4,311.8 L393.9,310.0 L394.4,307.7 L394.9,305.3 L395.4,302.6 L395.9,299.4 L396.4,295.6 L396.9,291.3 L397.4,285.5 L397.9,278.8 L398.4,272.1 L399.0,266.5 L399.5,260.9 L400.1,255.4 L400.7,251.0 L401.3,248.5 L401.9,248.6 L402.4,250.2 L402.9,253.0 L403.4,256.4 L403.9,260.2 L404.4,266.2 L404.9,274.5 L405.4,283.6 L405.9,292.3 L406.4,299.2 L406.9,303.9 L407.4,308.1 L407.9,313.8 L408.4,324.4 L408.9,334.2 L409.4,340.8 L409.9,346.6 L410.4,350.3" stroke="#9DC3E6"/><path d="M141.9,321.9 L142.4,321.9 L142.9,321.9 L143.4,321.9 L143.9,321.8 L144.4,321.8 L144.9,321.6 L145.4,321.3 L145.9,320.9 L146.4,320.4 L146.9,319.8 L147.4,319.2 L147.9,318.7 L148.4,318.4 L148.9,318.4 L149.4,318.6 L149.9,318.9 L150.4,319.3 L150.9,319.8 L151.4,320.3 L151.9,320.8 L152.4,321.2 L152.9,321.7 L153.4,322.0 L153.9,322.4 L154.4,322.6 L154.9,322.8 L155.4,322.8 L155.9,322.8 L156.4,322.6 L156.9,322.4 L157.4,322.2 L157.9,321.9 L158.4,321.6 L158.9,321.3 L159.4,321.1 L159.9,320.9 L160.4,320.7 L160.9,320.6 L161.4,320.6 L161.9,320.6 L162.4,320.5 L162.9,320.5 L163.4,320.6 L163.9,320.6 L164.4,320.6 L164.9,320.6 L165.4,320.6 L165.9,320.7 L166.4,320.7 L166.9,320.7 L167.4,320.8 L167.9,320.8 L168.4,320.9 L168.9,320.9 L169.4,320.9 L169.9,321.0 L170.4,321.0 L170.9,321.1 L171.4,321.1 L171.9,321.2 L172.4,321.2 L172.9,321.3 L173.4,321.3 L173.9,321.4 L174.4,321.4 L174.9,321.5 L175.4,321.6 L175.9,321.7 L176.4,321.7 L176.9,321.8 L177.4,322.0 L177.9,322.1 L178.4,322.2 L178.9,322.3 L179.4,322.4 L179.9,322.5 L180.4,322.6 L180.9,322.7 L181.4,322.8 L181.9,322.8 L182.4,322.9 L182.9,322.9 L183.4,323.0 L183.9,323.0 L184.4,323.0 L184.9,323.0 L185.4,323.0 L185.9,323.0 L186.4,323.0 L186.9,323.0 L187.4,323.0 L187.9,322.9 L188.4,322.9 L188.9,322.9 L189.4,322.9 L189.9,322.9 L190.4,322.9 L190.9,322.9 L191.4,322.9 L191.9,322.8 L192.4,322.8 L192.9,322.8 L193.4,322.8 L193.9,322.8 L194.4,322.7 L194.9,322.7 L195.4,322.7 L195.9,322.7 L196.4,322.7 L196.9,322.6 L197.4,322.6 L197.9,322.6 L198.4,322.6 L198.9,322.5 L199.4,322.5 L199.9,322.5 L200.4,322.5 L200.9,322.5 L201.4,322.4 L201.9,322.4 L202.4,322.4 L202.9,322.4 L203.4,322.3 L203.9,322.3 L204.4,322.3 L204.9,322.2 L205.4,322.2 L205.9,322.1 L206.4,322.0 L206.9,321.9 L207.4,321.7 L207.9,321.5 L208.4,321.3 L208.9,321.0 L209.4,320.7 L209.9,320.4 L210.4,320.0 L210.9,319.6 L211.4,319.2 L211.9,318.8 L212.4,318.4 L212.9,317.9 L213.4,317.5 L213.9,317.0 L214.4,316.5 L214.9,316.1 L215.4,315.6 L215.9,315.2 L216.4,314.8 L216.9,314.4 L217.4,314.0 L217.9,313.7 L218.4,313.4 L218.9,313.2 L219.4,312.9 L219.9,312.7 L220.4,312.5 L220.9,312.3 L221.4,312.1 L221.9,311.9 L222.4,311.7 L222.9,311.6 L223.4,311.4 L223.9,311.2 L224.4,311.1 L224.9,310.9 L225.4,310.7 L225.9,310.6 L226.4,310.5 L226.9,310.3 L227.4,310.3 L227.9,310.2 L228.4,310.3 L228.9,310.4 L229.4,310.7 L229.9,311.0 L230.4,311.5 L230.9,312.1 L231.4,312.9 L231.9,313.8 L232.4,314.9 L232.9,316.1 L233.4,317.5 L233.9,319.0 L234.4,320.5 L234.9,322.0 L235.4,323.5 L235.9,325.0 L236.4,326.5 L236.9,327.8 L237.4,329.2 L237.9,330.4 L238.4,331.5 L238.9,332.6 L239.4,333.4 L239.9,334.2 L240.4,334.7 L240.9,335.0 L241.4,335.1 L241.9,335.0 L242.4,334.7 L242.9,334.3 L243.4,333.8 L243.9,333.2 L244.4,332.7 L244.9,332.1 L245.4,331.6 L245.9,331.1 L246.4,330.5 L246.9,330.0 L247.4,329.5 L247.9,329.0 L248.4,328.5 L248.9,328.0 L249.4,327.5 L249.9,327.1 L250.4,326.6 L250.9,326.1 L251.4,325.7 L251.9,325.3 L252.4,324.8 L252.9,324.4 L253.4,324.1 L253.9,323.8 L254.4,323.5 L254.9,323.3 L255.4,323.1 L255.9,323.0 L256.4,322.9 L256.9,322.8 L257.4,322.8 L257.9,322.7 L258.4,322.7 L258.9,322.6 L259.4,322.6 L259.9,322.5 L260.4,322.5 L260.9,322.4 L261.4,322.4 L261.9,322.3 L262.4,322.2 L262.9,322.2 L263.4,322.1 L263.9,322.1 L264.4,322.1 L264.9,322.0 L265.4,322.0 L265.9,321.9 L266.4,321.9 L266.9,321.8 L267.4,321.8 L267.9,321.8 L268.4,321.7 L268.9,321.7 L269.4,321.7 L269.9,321.6 L270.4,321.6 L270.9,321.6 L271.4,321.6 L271.9,321.6 L272.4,321.5 L272.9,321.5 L273.4,321.5 L273.9,321.5 L274.4,321.5 L274.9,321.5 L275.4,321.4 L275.9,321.4 L276.4,321.4 L276.9,321.3 L277.4,321.3 L277.9,321.2 L278.4,321.1 L278.9,321.0 L279.4,320.9 L279.9,320.7 L280.4,320.5 L280.9,320.3 L281.4,320.1 L281.9,319.8 L282.4,319.4 L282.9,318.9 L283.4,318.3 L283.9,317.6 L284.4,316.6 L284.9,315.5 L285.4,314.4 L285.9,313.1 L286.4,311.8 L286.9,310.5 L287.4,309.2 L287.9,308.0 L288.4,306.8 L288.9,305.6 L289.4,304.6 L289.9,303.8 L290.4,303.1 L290.9,302.7 L291.4,302.5 L291.9,302.5 L292.4,302.7 L292.9,303.1 L293.4,303.7 L293.9,304.3 L294.4,305.0 L294.9,305.7 L295.4,306.4 L295.9,307.1 L296.4,307.8 L296.9,308.5 L297.4,309.3 L297.9,310.0 L298.4,310.7 L298.9,311.5 L299.4,312.2 L299.9,312.9 L300.4,313.6 L300.9,314.3 L301.4,314.9 L301.9,315.6 L302.4,316.3 L302.9,316.9 L303.4,317.5 L303.9,318.1 L304.4,318.7 L304.9,319.2 L305.4,319.6 L305.9,320.0 L306.4,320.3 L306.9,320.5 L307.4,320.7 L307.9,320.9 L308.4,321.0 L308.9,321.0 L309.4,321.1 L309.9,321.0 L310.4,320.9 L310.9,320.8 L311.4,320.5 L311.9,320.1 L312.4,319.7 L312.9,319.2 L313.4,318.7 L313.9,318.2 L314.4,317.7 L314.9,317.3 L315.4,316.9 L315.9,316.7 L316.4,316.6 L316.9,316.6 L317.4,316.7 L317.9,317.0 L318.4,317.4 L318.9,317.9 L319.4,318.4 L319.9,319.0 L320.4,319.6 L320.9,320.3 L321.4,320.9 L321.9,321.6 L322.4,322.3 L322.9,323.0 L323.4,323.7 L323.9,324.5 L324.4,325.2 L324.9,325.9 L325.4,326.6 L325.9,327.3 L326.4,327.9 L326.9,328.4 L327.4,328.9 L327.9,329.2 L328.4,329.4 L328.9,329.5 L329.4,329.4 L329.9,329.3 L330.4,329.0 L330.9,328.6 L331.4,328.1 L331.9,327.6 L332.4,327.2 L332.9,326.7 L333.4,326.3 L333.9,326.0 L334.4,325.8 L334.9,325.6 L335.4,325.5 L335.9,325.4 L336.4,325.4 L336.9,325.3 L337.4,325.3 L337.9,325.2 L338.4,325.2 L338.9,325.2 L339.4,325.1 L339.9,325.1 L340.4,325.1 L340.9,325.0 L341.4,325.0 L341.9,325.0 L342.4,324.9 L342.9,324.9 L343.4,324.8 L343.9,324.7 L344.4,324.7 L344.9,324.6 L345.4,324.5 L345.9,324.4 L346.4,324.4 L346.9,324.3 L347.4,324.2 L347.9,324.1 L348.4,324.0 L348.9,323.9 L349.4,323.8 L349.9,323.7 L350.4,323.6 L350.9,323.5 L351.4,323.4 L351.9,323.2 L352.4,323.1 L352.9,323.0 L353.4,322.9 L353.9,322.8 L354.4,322.7 L354.9,322.5 L355.4,322.4 L355.9,322.3 L356.4,322.1 L356.9,322.0 L357.4,321.8 L357.9,321.6 L358.4,321.4 L358.9,321.3 L359.4,321.1 L359.9,320.9 L360.4,320.7 L360.9,320.5 L361.4,320.3 L361.9,320.1 L362.4,319.9 L362.9,319.7 L363.4,319.5 L363.9,319.3 L364.4,319.2 L364.9,319.1 L365.4,318.9 L365.9,318.8 L366.4,318.7 L366.9,318.7 L367.4,318.6 L367.9,318.6 L368.4,318.5 L368.9,318.5 L369.4,318.5 L369.9,318.5 L370.4,318.5 L370.9,318.5 L371.4,318.5 L371.9,318.5 L372.4,318.5 L372.9,318.5 L373.4,318.5 L373.9,318.5 L374.4,318.5 L374.9,318.5 L375.4,318.5 L375.9,318.5 L376.4,318.5 L376.9,318.5 L377.4,318.5 L377.9,318.4 L378.4,318.3 L378.9,318.2 L379.4,318.0 L379.9,317.7 L380.4,317.4 L380.9,317.1 L381.4,316.7 L381.9,316.3 L382.4,316.0 L382.9,315.6 L383.4,315.4 L383.9,315.1 L384.4,315.0 L384.9,314.8 L385.4,314.8 L385.9,314.7 L386.4,314.7 L386.9,314.7 L387.4,314.7 L387.9,314.7 L388.4,314.7 L388.9,314.7 L389.4,314.7 L389.9,314.7 L390.4,314.6 L390.9,314.5 L391.4,314.2 L391.9,313.9 L392.4,313.5 L392.9,312.5 L393.4,310.7 L393.9,308.4 L394.4,306.0 L394.9,303.3 L395.4,300.1 L395.9,296.4 L396.4,292.2 L396.9,286.5 L397.4,280.2 L397.9,274.0 L398.4,269.1 L398.9,264.5 L399.4,259.9 L399.9,256.3 L400.4,254.2 L400.9,254.2 L401.4,255.3 L401.9,257.3 L402.4,259.8 L402.9,262.7 L403.4,268.0 L403.9,275.8 L404.4,284.6 L404.9,293.1 L405.4,300.0 L405.9,304.6 L406.4,308.7 L406.9,314.4 L407.4,324.8 L407.9,334.0 L408.4,339.6 L408.9,344.2 L409.4,347.0 L410.3,322 L414.8,322" stroke="#4472C4"/></g><rect x="123.9" y="60.8" width="19.7" height="88.2" fill="none" stroke="#000" stroke-width="1.9" stroke-dasharray="6 4"/><rect x="178.8" y="60.2" width="21.8" height="88.8" fill="none" stroke="#000" stroke-width="1.9" stroke-dasharray="6 4"/><rect x="201.8" y="60.2" width="23.5" height="88.8" fill="none" stroke="#000" stroke-width="1.9" stroke-dasharray="6 4"/><rect x="260.0" y="29.2" width="33.0" height="63.6" fill="none" stroke="#000" stroke-width="1.9" stroke-dasharray="6 4"/><rect x="225.7" y="284.9" width="16.4" height="95.0" fill="none" stroke="#000" stroke-width="1.9" stroke-dasharray="6 4"/><rect x="284.7" y="283.9" width="16.3" height="96.0" fill="none" stroke="#000" stroke-width="1.9" stroke-dasharray="6 4"/><rect x="301.0" y="283.9" width="33.8" height="96.0" fill="none" stroke="#000" stroke-width="1.9" stroke-dasharray="6 4"/><rect x="54.9" y="28.2" width="238.9" height="121.0" fill="none" stroke="#1c1c1c" stroke-width="1.5"/><line x1="51.9" y1="149.2" x2="57.9" y2="149.2" stroke="#1c1c1c" stroke-width="1.3"/><line x1="51.9" y1="129.6" x2="57.9" y2="129.6" stroke="#1c1c1c" stroke-width="1.3"/><line x1="51.9" y1="110.1" x2="57.9" y2="110.1" stroke="#1c1c1c" stroke-width="1.3"/><line x1="51.9" y1="90.5" x2="57.9" y2="90.5" stroke="#1c1c1c" stroke-width="1.3"/><line x1="51.9" y1="71.0" x2="57.9" y2="71.0" stroke="#1c1c1c" stroke-width="1.3"/><line x1="51.9" y1="51.5" x2="57.9" y2="51.5" stroke="#1c1c1c" stroke-width="1.3"/><line x1="51.9" y1="31.9" x2="57.9" y2="31.9" stroke="#1c1c1c" stroke-width="1.3"/><line x1="54.9" y1="146.2" x2="54.9" y2="152.2" stroke="#1c1c1c" stroke-width="1.3"/><line x1="84.8" y1="146.2" x2="84.8" y2="152.2" stroke="#1c1c1c" stroke-width="1.3"/><line x1="114.6" y1="146.2" x2="114.6" y2="152.2" stroke="#1c1c1c" stroke-width="1.3"/><line x1="144.5" y1="146.2" x2="144.5" y2="152.2" stroke="#1c1c1c" stroke-width="1.3"/><line x1="174.3" y1="146.2" x2="174.3" y2="152.2" stroke="#1c1c1c" stroke-width="1.3"/><line x1="204.2" y1="146.2" x2="204.2" y2="152.2" stroke="#1c1c1c" stroke-width="1.3"/><line x1="234.1" y1="146.2" x2="234.1" y2="152.2" stroke="#1c1c1c" stroke-width="1.3"/><line x1="263.9" y1="146.2" x2="263.9" y2="152.2" stroke="#1c1c1c" stroke-width="1.3"/><line x1="293.8" y1="146.2" x2="293.8" y2="152.2" stroke="#1c1c1c" stroke-width="1.3"/><text x="46.2" y="152.5" font-size="9.5" style="font-family:'Liberation Serif',serif" text-anchor="end" fill="#1a1a1a" stroke="#1a1a1a" stroke-width="0.1">0.15</text><text x="46.2" y="132.9" font-size="9.5" style="font-family:'Liberation Serif',serif" text-anchor="end" fill="#1a1a1a" stroke="#1a1a1a" stroke-width="0.1">0.4</text><text x="46.2" y="113.4" font-size="9.5" style="font-family:'Liberation Serif',serif" text-anchor="end" fill="#1a1a1a" stroke="#1a1a1a" stroke-width="0.1">0.65</text><text x="46.2" y="93.8" font-size="9.5" style="font-family:'Liberation Serif',serif" text-anchor="end" fill="#1a1a1a" stroke="#1a1a1a" stroke-width="0.1">0.9</text><text x="46.2" y="74.3" font-size="9.5" style="font-family:'Liberation Serif',serif" text-anchor="end" fill="#1a1a1a" stroke="#1a1a1a" stroke-width="0.1">1.15</text><text x="46.2" y="54.8" font-size="9.5" style="font-family:'Liberation Serif',serif" text-anchor="end" fill="#1a1a1a" stroke="#1a1a1a" stroke-width="0.1">1.4</text><text x="46.2" y="35.2" font-size="9.5" style="font-family:'Liberation Serif',serif" text-anchor="end" fill="#1a1a1a" stroke="#1a1a1a" stroke-width="0.1">1.65</text><text x="54.9" y="165.0" font-size="9.5" style="font-family:'Liberation Serif',serif" text-anchor="middle" fill="#1a1a1a" stroke="#1a1a1a" stroke-width="0.1">900</text><text x="84.8" y="165.0" font-size="9.5" style="font-family:'Liberation Serif',serif" text-anchor="middle" fill="#1a1a1a" stroke="#1a1a1a" stroke-width="0.1">1000</text><text x="114.6" y="165.0" font-size="9.5" style="font-family:'Liberation Serif',serif" text-anchor="middle" fill="#1a1a1a" stroke="#1a1a1a" stroke-width="0.1">1100</text><text x="144.5" y="165.0" font-size="9.5" style="font-family:'Liberation Serif',serif" text-anchor="middle" fill="#1a1a1a" stroke="#1a1a1a" stroke-width="0.1">1200</text><text x="174.3" y="165.0" font-size="9.5" style="font-family:'Liberation Serif',serif" text-anchor="middle" fill="#1a1a1a" stroke="#1a1a1a" stroke-width="0.1">1300</text><text x="204.2" y="165.0" font-size="9.5" style="font-family:'Liberation Serif',serif" text-anchor="middle" fill="#1a1a1a" stroke="#1a1a1a" stroke-width="0.1">1400</text><text x="234.1" y="165.0" font-size="9.5" style="font-family:'Liberation Serif',serif" text-anchor="middle" fill="#1a1a1a" stroke="#1a1a1a" stroke-width="0.1">1500</text><text x="263.9" y="165.0" font-size="9.5" style="font-family:'Liberation Serif',serif" text-anchor="middle" fill="#1a1a1a" stroke="#1a1a1a" stroke-width="0.1">1600</text><text x="293.8" y="165.0" font-size="9.5" style="font-family:'Liberation Serif',serif" text-anchor="middle" fill="#1a1a1a" stroke="#1a1a1a" stroke-width="0.1">1700</text><rect x="378.1" y="27.5" width="157.9" height="121.7" fill="none" stroke="#1c1c1c" stroke-width="1.5"/><line x1="375.1" y1="149.2" x2="381.1" y2="149.2" stroke="#1c1c1c" stroke-width="1.3"/><line x1="375.1" y1="129.6" x2="381.1" y2="129.6" stroke="#1c1c1c" stroke-width="1.3"/><line x1="375.1" y1="109.9" x2="381.1" y2="109.9" stroke="#1c1c1c" stroke-width="1.3"/><line x1="375.1" y1="90.3" x2="381.1" y2="90.3" stroke="#1c1c1c" stroke-width="1.3"/><line x1="375.1" y1="70.7" x2="381.1" y2="70.7" stroke="#1c1c1c" stroke-width="1.3"/><line x1="375.1" y1="51.0" x2="381.1" y2="51.0" stroke="#1c1c1c" stroke-width="1.3"/><line x1="375.1" y1="31.4" x2="381.1" y2="31.4" stroke="#1c1c1c" stroke-width="1.3"/><line x1="378.1" y1="146.2" x2="378.1" y2="152.2" stroke="#1c1c1c" stroke-width="1.3"/><line x1="457.1" y1="146.2" x2="457.1" y2="152.2" stroke="#1c1c1c" stroke-width="1.3"/><line x1="536.0" y1="146.2" x2="536.0" y2="152.2" stroke="#1c1c1c" stroke-width="1.3"/><text x="369.8" y="152.5" font-size="9.5" style="font-family:'Liberation Serif',serif" text-anchor="end" fill="#1a1a1a" stroke="#1a1a1a" stroke-width="0.1">0.15</text><text x="369.8" y="132.9" font-size="9.5" style="font-family:'Liberation Serif',serif" text-anchor="end" fill="#1a1a1a" stroke="#1a1a1a" stroke-width="0.1">0.4</text><text x="369.8" y="113.2" font-size="9.5" style="font-family:'Liberation Serif',serif" text-anchor="end" fill="#1a1a1a" stroke="#1a1a1a" stroke-width="0.1">0.65</text><text x="369.8" y="93.6" font-size="9.5" style="font-family:'Liberation Serif',serif" text-anchor="end" fill="#1a1a1a" stroke="#1a1a1a" stroke-width="0.1">0.9</text><text x="369.8" y="74.0" font-size="9.5" style="font-family:'Liberation Serif',serif" text-anchor="end" fill="#1a1a1a" stroke="#1a1a1a" stroke-width="0.1">1.15</text><text x="369.8" y="54.3" font-size="9.5" style="font-family:'Liberation Serif',serif" text-anchor="end" fill="#1a1a1a" stroke="#1a1a1a" stroke-width="0.1">1.4</text><text x="369.8" y="34.7" font-size="9.5" style="font-family:'Liberation Serif',serif" text-anchor="end" fill="#1a1a1a" stroke="#1a1a1a" stroke-width="0.1">1.65</text><text x="378.1" y="165.0" font-size="9.5" style="font-family:'Liberation Serif',serif" text-anchor="middle" fill="#1a1a1a" stroke="#1a1a1a" stroke-width="0.1">1650</text><text x="457.1" y="165.0" font-size="9.5" style="font-family:'Liberation Serif',serif" text-anchor="middle" fill="#1a1a1a" stroke="#1a1a1a" stroke-width="0.1">1675</text><text x="536.0" y="165.0" font-size="9.5" style="font-family:'Liberation Serif',serif" text-anchor="middle" fill="#1a1a1a" stroke="#1a1a1a" stroke-width="0.1">1700</text><rect x="141.9" y="235.2" width="272.9" height="144.8" fill="none" stroke="#1c1c1c" stroke-width="1.5"/><line x1="138.9" y1="380.0" x2="144.9" y2="380.0" stroke="#1c1c1c" stroke-width="1.3"/><line x1="138.9" y1="351.0" x2="144.9" y2="351.0" stroke="#1c1c1c" stroke-width="1.3"/><line x1="138.9" y1="322.1" x2="144.9" y2="322.1" stroke="#1c1c1c" stroke-width="1.3"/><line x1="138.9" y1="293.1" x2="144.9" y2="293.1" stroke="#1c1c1c" stroke-width="1.3"/><line x1="138.9" y1="264.2" x2="144.9" y2="264.2" stroke="#1c1c1c" stroke-width="1.3"/><line x1="138.9" y1="235.2" x2="144.9" y2="235.2" stroke="#1c1c1c" stroke-width="1.3"/><line x1="141.9" y1="377.0" x2="141.9" y2="383.0" stroke="#1c1c1c" stroke-width="1.3"/><line x1="176.0" y1="377.0" x2="176.0" y2="383.0" stroke="#1c1c1c" stroke-width="1.3"/><line x1="210.1" y1="377.0" x2="210.1" y2="383.0" stroke="#1c1c1c" stroke-width="1.3"/><line x1="244.2" y1="377.0" x2="244.2" y2="383.0" stroke="#1c1c1c" stroke-width="1.3"/><line x1="278.4" y1="377.0" x2="278.4" y2="383.0" stroke="#1c1c1c" stroke-width="1.3"/><line x1="312.5" y1="377.0" x2="312.5" y2="383.0" stroke="#1c1c1c" stroke-width="1.3"/><line x1="346.6" y1="377.0" x2="346.6" y2="383.0" stroke="#1c1c1c" stroke-width="1.3"/><line x1="380.7" y1="377.0" x2="380.7" y2="383.0" stroke="#1c1c1c" stroke-width="1.3"/><line x1="414.8" y1="377.0" x2="414.8" y2="383.0" stroke="#1c1c1c" stroke-width="1.3"/><text x="132.8" y="383.3" font-size="9.5" style="font-family:'Liberation Serif',serif" text-anchor="end" fill="#1a1a1a" stroke="#1a1a1a" stroke-width="0.1">−0.3</text><text x="132.8" y="354.3" font-size="9.5" style="font-family:'Liberation Serif',serif" text-anchor="end" fill="#1a1a1a" stroke="#1a1a1a" stroke-width="0.1">−0.15</text><text x="132.8" y="325.4" font-size="9.5" style="font-family:'Liberation Serif',serif" text-anchor="end" fill="#1a1a1a" stroke="#1a1a1a" stroke-width="0.1">0</text><text x="132.8" y="296.4" font-size="9.5" style="font-family:'Liberation Serif',serif" text-anchor="end" fill="#1a1a1a" stroke="#1a1a1a" stroke-width="0.1">0.15</text><text x="132.8" y="267.5" font-size="9.5" style="font-family:'Liberation Serif',serif" text-anchor="end" fill="#1a1a1a" stroke="#1a1a1a" stroke-width="0.1">0.3</text><text x="132.8" y="238.5" font-size="9.5" style="font-family:'Liberation Serif',serif" text-anchor="end" fill="#1a1a1a" stroke="#1a1a1a" stroke-width="0.1">0.45</text><text x="141.9" y="396.0" font-size="9.5" style="font-family:'Liberation Serif',serif" text-anchor="middle" fill="#1a1a1a" stroke="#1a1a1a" stroke-width="0.1">900</text><text x="176.0" y="396.0" font-size="9.5" style="font-family:'Liberation Serif',serif" text-anchor="middle" fill="#1a1a1a" stroke="#1a1a1a" stroke-width="0.1">1000</text><text x="210.1" y="396.0" font-size="9.5" style="font-family:'Liberation Serif',serif" text-anchor="middle" fill="#1a1a1a" stroke="#1a1a1a" stroke-width="0.1">1100</text><text x="244.2" y="396.0" font-size="9.5" style="font-family:'Liberation Serif',serif" text-anchor="middle" fill="#1a1a1a" stroke="#1a1a1a" stroke-width="0.1">1200</text><text x="278.4" y="396.0" font-size="9.5" style="font-family:'Liberation Serif',serif" text-anchor="middle" fill="#1a1a1a" stroke="#1a1a1a" stroke-width="0.1">1300</text><text x="312.5" y="396.0" font-size="9.5" style="font-family:'Liberation Serif',serif" text-anchor="middle" fill="#1a1a1a" stroke="#1a1a1a" stroke-width="0.1">1400</text><text x="346.6" y="396.0" font-size="9.5" style="font-family:'Liberation Serif',serif" text-anchor="middle" fill="#1a1a1a" stroke="#1a1a1a" stroke-width="0.1">1500</text><text x="380.7" y="396.0" font-size="9.5" style="font-family:'Liberation Serif',serif" text-anchor="middle" fill="#1a1a1a" stroke="#1a1a1a" stroke-width="0.1">1600</text><text x="414.8" y="396.0" font-size="9.5" style="font-family:'Liberation Serif',serif" text-anchor="middle" fill="#1a1a1a" stroke="#1a1a1a" stroke-width="0.1">1700</text><text x="118.6" y="56.1" font-size="9.5" style="font-family:'Liberation Sans',sans-serif;font-weight:bold" text-anchor="start" fill="#000" stroke="#000" stroke-width="0.2" textLength="31.7" lengthAdjust="spacingAndGlyphs">Protein</text><text x="171.3" y="56.0" font-size="9.5" style="font-family:'Liberation Sans',sans-serif;font-weight:bold" text-anchor="start" fill="#000" stroke="#000" stroke-width="0.2" textLength="21.9" lengthAdjust="spacingAndGlyphs">Fibre</text><text x="198.1" y="56.0" font-size="9.5" style="font-family:'Liberation Sans',sans-serif;font-weight:bold" text-anchor="start" fill="#000" stroke="#000" stroke-width="0.2" textLength="39.7" lengthAdjust="spacingAndGlyphs">Moisture</text><text x="218.9" y="278.5" font-size="9.5" style="font-family:'Liberation Sans',sans-serif;font-weight:bold" text-anchor="start" fill="#000" stroke="#000" stroke-width="0.2" textLength="31.4" lengthAdjust="spacingAndGlyphs">Protein</text><text x="276.7" y="277.8" font-size="9.5" style="font-family:'Liberation Sans',sans-serif;font-weight:bold" text-anchor="start" fill="#000" stroke="#000" stroke-width="0.2" textLength="22.2" lengthAdjust="spacingAndGlyphs">Fibre</text><text x="302.9" y="277.8" font-size="9.5" style="font-family:'Liberation Sans',sans-serif;font-weight:bold" text-anchor="start" fill="#000" stroke="#000" stroke-width="0.2" textLength="40.2" lengthAdjust="spacingAndGlyphs">Moisture</text><text x="68.0" y="46.0" font-size="9.5" style="font-family:'Liberation Sans',sans-serif;font-weight:bold" text-anchor="start" fill="#000" stroke="#000" stroke-width="0.35" textLength="11.6" lengthAdjust="spacingAndGlyphs">(a)</text><text x="388.9" y="45.2" font-size="9.5" style="font-family:'Liberation Sans',sans-serif;font-weight:bold" text-anchor="start" fill="#000" stroke="#000" stroke-width="0.35" textLength="11.1" lengthAdjust="spacingAndGlyphs">(b)</text><text x="153.4" y="254.4" font-size="9.5" style="font-family:'Liberation Sans',sans-serif;font-weight:bold" text-anchor="start" fill="#000" stroke="#000" stroke-width="0.35" textLength="10.3" lengthAdjust="spacingAndGlyphs">(c)</text><text x="127.6" y="185.3" font-size="10.3" style="font-family:'Liberation Sans',sans-serif;font-weight:bold" text-anchor="start" fill="#000" stroke="#000" stroke-width="0.45" textLength="84.8" lengthAdjust="spacingAndGlyphs">Wavelength (nm)</text><text x="421.6" y="183.5" font-size="10.3" style="font-family:'Liberation Sans',sans-serif;font-weight:bold" text-anchor="start" fill="#000" stroke="#000" stroke-width="0.45" textLength="83.8" lengthAdjust="spacingAndGlyphs">Wavelength (nm)</text><text x="217.6" y="419.6" font-size="10.3" style="font-family:'Liberation Sans',sans-serif;font-weight:bold" text-anchor="start" fill="#000" stroke="#000" stroke-width="0.45" textLength="84.8" lengthAdjust="spacingAndGlyphs">Wavelength (nm)</text><text x="0.0" y="0.0" font-size="11" style="font-family:'Liberation Sans',sans-serif;font-weight:bold" text-anchor="middle" fill="#000" stroke="#000" stroke-width="0.3" textLength="44.2" lengthAdjust="spacingAndGlyphs" transform="translate(16.2,96.9) rotate(-90)">Log (1/R)</text><text x="0.0" y="0.0" font-size="11" style="font-family:'Liberation Sans',sans-serif;font-weight:bold" text-anchor="middle" fill="#000" stroke="#000" stroke-width="0.3" textLength="44.2" lengthAdjust="spacingAndGlyphs" transform="translate(340.9,81.5) rotate(-90)">Log (1/R)</text><text x="0.0" y="0.0" font-size="10" style="font-family:'Liberation Sans',sans-serif;font-weight:bold" text-anchor="start" fill="#000" stroke="#000" stroke-width="0.3" textLength="139.3" lengthAdjust="spacingAndGlyphs" transform="translate(90,384.1) rotate(-90)">Standard Normal Variate + 1</text><text x="139.6" y="-4.0" font-size="6.5" style="font-family:'Liberation Sans',sans-serif;font-weight:bold" text-anchor="start" fill="#000" stroke="#000" stroke-width="0.2" transform="translate(90,384.1) rotate(-90)">st</text><text x="0.0" y="0.0" font-size="10" style="font-family:'Liberation Sans',sans-serif;font-weight:bold" text-anchor="middle" fill="#000" stroke="#000" stroke-width="0.3" textLength="128.3" lengthAdjust="spacingAndGlyphs" transform="translate(104.0,312.9) rotate(-90)">Savitzky–Golay Derivative</text><path d="M270.6,44.3 A74.7,37.9 0 0 1 418.2,34.6 L425.7,34.6 L417.8,44.2 L404.8,34.6 L409.7,34.6 A65.2,37.0 0 0 0 280.9,44.3 Z" fill="none" stroke="#000" stroke-width="1.6" stroke-linejoin="miter"/></svg></body></html>
